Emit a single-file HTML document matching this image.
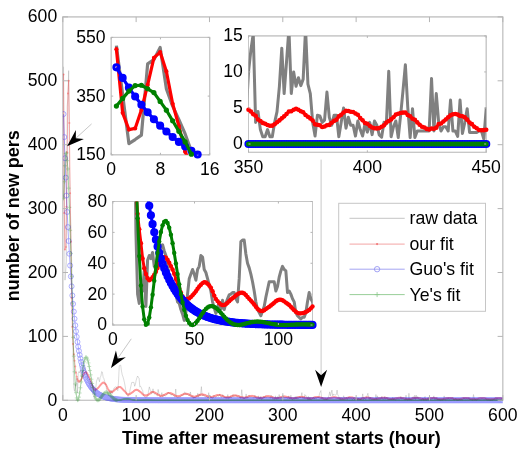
<!DOCTYPE html>
<html><head><meta charset="utf-8"><title>fit</title>
<style>html,body{margin:0;padding:0;background:#fff;}svg{display:block;}</style></head>
<body><svg width="518" height="453" viewBox="0 0 518 453"><rect x="0" y="0" width="518" height="453" fill="#fff"/><rect x="62.8" y="16.9" width="440" height="383.4" fill="#fff" stroke="#c6c6c6" stroke-width="1"/><rect x="62.8" y="16.9" width="440" height="383.4" fill="none" stroke="#c6c6c6" stroke-width="1"/><clipPath id="cm"><rect x="62.8" y="16.9" width="440" height="389.4"/></clipPath><g clip-path="url(#cm)"><g opacity="0.32"><polyline points="63.53,66.74 64.27,173.46 65,280.17 65.73,271.22 66.47,261.64 67.2,106.36 67.93,97.41 68.67,70.58 69.4,161.31 70.13,198.38 70.87,227.77 71.6,259.08 72.33,296.78 73.07,361.96 73.8,387.52 74.53,391.35 75.27,384.32 76,386.24 76.73,377.94 77.47,392.63 78.2,373.46 78.93,371.55 79.67,372.82 80.4,370.27 81.13,376.02 81.87,377.3 82.6,370.91 83.33,372.18 84.07,367.71 84.8,367.07 85.53,369.63 86.27,371.55 87,376.02 87.73,379.85 88.47,381.13 89.2,382.41 89.93,384.32 90.67,387.52 91.4,390.72 92.13,391.35 92.87,393.91 93.6,395.83 94.33,398.38 95.07,395.19 95.8,387.52 96.53,381.13 97.27,379.21 98,377.3 98.73,379.21 99.47,381.77 100.2,377.3 100.93,376.02 101.67,371.55 102.4,372.18 103.13,377.3 103.87,378.57 104.6,381.13 105.33,383.69 106.07,386.24 106.8,390.72 107.53,393.27 108.27,395.51 109,392.63 109.73,391.35 110.47,393.91 111.2,390.08 111.93,393.91 112.67,391.35 113.4,389.44 114.13,387.84 114.87,387.52 115.6,386.88 116.33,386.88 117.07,389.44 117.8,390.72 118.53,381.13 119.27,365.79 120,365.16 120.73,365.16 121.47,370.91 122.2,374.74 122.93,376.66 123.67,379.21 124.4,382.41 125.13,386.24 125.87,390.72 126.6,393.91 127.33,395.19 128.07,396.47 128.8,394.55 129.53,392.63 130.27,388.8 131,385.6 131.73,382.41 132.47,382.41 133.2,382.41 133.93,382.41 134.67,386.24 135.4,384.32 136.13,380.49 136.87,377.94 137.6,376.02 138.33,377.3 139.07,377.94 139.8,386.88 140.53,386.24 141.27,387.52 142,389.44 142.73,390.72 143.47,395.19 144.2,396.47 144.93,397.11 145.67,397.74 146.4,397.11 147.13,397.11 147.87,395.19 148.6,390.72 149.33,386.88 150.07,389.44 150.8,390.72 151.53,393.91 152.27,393.27 153,388.8 153.73,393.27 154.47,393.91 155.2,393.27 155.93,394.55 156.67,395.19 157.4,395.83 158.13,389.44 158.87,393.27 159.6,395.83 160.33,397.11 161.07,395.83 161.8,392.63 162.53,396.47 163.27,396.47 164,394.55 164.73,395.83 165.47,395.83 166.2,395.19 166.93,394.55 167.67,393.27 168.4,391.99 169.13,393.27 169.87,393.91 170.6,393.91 171.33,395.19 172.07,393.91 172.8,394.55 173.53,395.19 174.27,396.47 175,397.11 175.73,388.99 176.47,397.11 177.2,397.74 177.93,397.11 178.67,397.11 179.4,397.11 180.13,397.11 180.87,396.47 181.6,395.19 182.33,395.19 183.07,394.55 183.8,394.55 184.53,391.99 185.27,392.63 186,394.55 186.73,393.91 187.47,393.91 188.2,395.19 188.93,395.83 189.67,395.19 190.4,391.99 191.13,396.47 191.87,397.11 192.6,395.83 193.33,398.38 194.07,397.11 194.8,397.74 195.53,397.74 196.27,395.83 197,397.11 197.73,393.27 198.47,397.11 199.2,393.91 199.93,395.83 200.67,393.91 201.4,386.63 202.13,395.19 202.87,395.83 203.6,394.55 204.33,396.47 205.07,396.47 205.8,397.11 206.53,395.83 207.27,397.74 208,397.11 208.73,392.63 209.47,398.38 210.2,395.19 210.93,397.11 211.67,397.74 212.4,398.38 213.13,397.74 213.87,395.19 214.6,396.47 215.33,397.11 216.07,397.11 216.8,395.83 217.53,395.19 218.27,396.47 219,395.83 219.73,393.91 220.47,396.47 221.2,397.11 221.93,397.11 222.67,394.55 223.4,396.47 224.13,396.47 224.87,397.11 225.6,397.74 226.33,397.74 227.07,397.74 227.8,394.55 228.53,398.38 229.27,398.38 230,396.47 230.73,396.47 231.47,397.74 232.2,396.47 232.93,394.55 233.67,396.47 234.4,395.83 235.13,395.83 235.87,395.19 236.6,395.19 237.33,397.11 238.07,396.47 238.8,395.83 239.53,395.83 240.27,398.38 241,398.38 241.73,389.69 242.47,396.47 243.2,398.38 243.93,399.02 244.67,398.38 245.4,397.74 246.13,393.91 246.87,398.38 247.6,397.74 248.33,395.83 249.07,395.19 249.8,397.11 250.53,397.11 251.27,397.11 252,397.11 252.73,397.74 253.47,397.74 254.2,397.11 254.93,395.19 255.67,397.11 256.4,398.38 257.13,399.02 257.87,399.02 258.6,395.83 259.33,398.38 260.07,399.02 260.8,396.47 261.53,399.66 262.27,399.02 263,398.38 263.73,396.47 264.47,397.74 265.2,395.83 265.93,396.47 266.67,397.74 267.4,397.11 268.13,397.74 268.87,397.11 269.6,397.74 270.33,398.38 271.07,395.19 271.8,395.83 272.53,399.02 273.27,399.02 274,399.66 274.73,399.66 275.47,395.83 276.2,398.38 276.93,399.66 277.67,396.47 278.4,398.38 279.13,394.55 279.87,397.11 280.6,399.02 281.33,398.38 282.07,397.74 282.8,393.27 283.53,397.11 284.27,397.74 285,397.74 285.73,397.74 286.47,397.74 287.2,398.38 287.93,398.38 288.67,395.83 289.4,398.38 290.13,399.02 290.87,395.19 291.6,398.38 292.33,399.66 293.07,399.02 293.8,398.38 294.53,398.38 295.27,396.47 296,399.02 296.73,396.47 297.47,398.38 298.2,398.38 298.93,398.38 299.67,396.47 300.4,397.74 301.13,396.47 301.87,392.63 302.6,398.38 303.33,397.74 304.07,399.02 304.8,394.55 305.53,395.83 306.27,395.83 307,397.11 307.73,399.66 308.47,396.47 309.2,399.66 309.93,397.11 310.67,399.66 311.4,399.66 312.13,399.02 312.87,398.38 313.6,397.11 314.33,399.02 315.07,397.74 315.8,398.38 316.53,398.38 317.27,397.11 318,397.11 318.73,397.74 319.47,393.91 320.2,391.99 320.93,390.52 321.67,398.38 322.4,397.42 323.13,399.02 323.87,399.66 324.6,399.66 325.33,399.02 326.07,399.66 326.8,399.66 327.53,398.38 328.27,397.42 329,395.19 329.73,391.8 330.47,395.83 331.2,393.02 331.93,390.08 332.67,395.83 333.4,393.91 334.13,395.19 334.87,394.42 335.6,395.12 336.33,394.55 337.07,390.08 337.8,395 338.53,395.83 339.27,398.38 340,399.6 340.73,397.74 341.47,397.81 342.2,398.38 342.93,398.19 343.67,395.7 344.4,397.94 345.13,398.64 345.87,397.74 346.6,397.74 347.33,399.66 348.07,398.38 348.8,397.11 349.53,398.89 350.27,397.94 351,398.64 351.73,398.64 352.47,399.6 353.2,398.26 353.93,399.02 354.67,399.6 355.4,398.51 356.13,399.25 356.87,398.38 357.6,399.47 358.33,398.26 359.07,398.64 359.8,399.49 360.53,399.69 361.27,398.38 362,398.51 362.73,393.85 363.47,399.66 364.2,398.77 364.93,398.26 365.67,399.72 366.4,397.74 367.13,395.57 367.87,393.27 368.6,397.04 369.33,399.72 370.07,397.17 370.8,399.72 371.53,399.15 372.27,399.15 373,399.15 373.73,399.15 374.47,399.15 375.2,399.15 375.93,394.49 376.67,399.15 377.4,395.83 378.13,398.38 378.87,399.15 379.6,398.77 380.33,398.77 381.07,399.15 381.8,396.4 382.53,399.15 383.27,399.15 384,399.62 384.73,396.4 385.47,399.37 386.2,398.38 386.93,397.17 387.67,399.28 388.4,399.28 389.13,399.28 389.87,399.28 390.6,399.15 391.33,399.15 392.07,399.85 392.8,397.17 393.53,399.66 394.27,398.38 395,400.3 395.73,399.66 396.47,399.02 397.2,399.66 397.93,398.38 398.67,399.66 399.4,399.66 400.13,399.02 400.87,396.47 401.6,399.02 402.33,398.38 403.07,399.02 403.8,399.02 404.53,399.66 405.27,400.3 406,395.19 406.73,399.66 407.47,400.3 408.2,400.3 408.93,393.27 409.67,400.3 410.4,399.66 411.13,400.3 411.87,399.66 412.6,397.11 413.33,396.47 414.07,399.02 414.8,395.19 415.53,399.66 416.27,395.19 417,398.38 417.73,396.47 418.47,398.38 419.2,399.66 419.93,399.66 420.67,399.66 421.4,400.3 422.13,399.02 422.87,397.74 423.6,400.3 424.33,397.74 425.07,396.47 425.8,400.3 426.53,400.3 427.27,399.66 428,397.74 428.73,399.66 429.47,399.66 430.2,399.66 430.93,399.02 431.67,399.02 432.4,399.02 433.13,397.74 433.87,395.83 434.6,399.66 435.33,398.38 436.07,399.66 436.8,397.74 437.53,399.66 438.27,400.3 439,399.02 439.73,400.3 440.47,400.3 441.2,399.66 441.93,400.3 442.67,400.3 443.4,399.02 444.13,395.83 444.87,398.38 445.6,400.3 446.33,399.66 447.07,398.38 447.8,399.66 448.53,397.74 449.27,399.66 450,399.66 450.73,398.38 451.47,398.38 452.2,398.38 452.93,397.74 453.67,399.66 454.4,400.3 455.13,399.02 455.87,398.38 456.6,400.3 457.33,400.3 458.07,399.66 458.8,400.3 459.53,399.02 460.27,400.3 461,399.66 461.73,399.66 462.47,400.3 463.2,399.02 463.93,397.74 464.67,399.02 465.4,399.66 466.13,398.38 466.87,399.66 467.6,399.02 468.33,399.02 469.07,397.74 469.8,399.66 470.53,399.66 471.27,399.66 472,400.3 472.73,400.3 473.47,394.55 474.2,397.74 474.93,400.3 475.67,399.02 476.4,400.3 477.13,400.3 477.87,399.02 478.6,399.02 479.33,399.66 480.07,399.66 480.8,399.66 481.53,399.02 482.27,399.02 483,399.02 483.73,399.66 484.47,399.66 485.2,399.02 485.93,398.38 486.67,400.3 487.4,400.3 488.13,400.3 488.87,399.66 489.6,400.3 490.33,400.3 491.07,400.3 491.8,400.3 492.53,400.3 493.27,399.66 494,399.02 494.73,399.02 495.47,397.74 496.2,397.74 496.93,399.66 497.67,398.38 498.4,399.66 499.13,399.66 499.87,399.02 500.6,399.66 501.33,399.02 502.07,398.38 502.8,399.66" fill="none" stroke="#808080" stroke-width="0.9"/></g><g opacity="0.4"><polyline points="63.53,74.41 64.27,213.07 65,249.5 65.73,246.94 66.47,206.68 67.2,152.37 67.93,93.58 68.67,80.8 69.4,122.97 70.13,193.26 70.87,241.83 71.6,298.06 72.33,326.81 73.07,344.07 73.8,354.29 74.53,360.68 75.27,366.43 76,372.79 76.73,376.8 77.47,379.21 78.2,380.94 78.93,381.77 79.67,381.33 80.4,380.49 81.13,379.52 81.87,378.29 82.6,376.73 83.33,374.8 84.07,373.57 84.8,372.64 85.53,372.19 86.27,372.46 87,373.3 87.73,374.52 88.47,375.92 89.2,377.33 89.93,379.1 90.67,381.21 91.4,383.35 92.13,385.19 92.87,386.84 93.6,388.47 94.33,389.53 95.07,389.67 95.8,389.55 96.53,389.29 97.27,388.72 98,387.98 98.73,387.2 99.47,386.33 100.2,385.32 100.93,384.38 101.67,383.65 102.4,382.95 103.13,382.55 103.87,382.68 104.6,383.2 105.33,383.94 106.07,384.81 106.8,386.32 107.53,388.12 108.27,389.57 109,390.42 109.73,391.17 110.47,391.77 111.2,392.09 111.93,392.05 112.67,391.69 113.4,391.1 114.13,390.42 114.87,389.75 115.6,389.2 116.33,388.68 117.07,388.11 117.8,387.59 118.53,387.16 119.27,386.92 120,386.93 120.73,387.29 121.47,387.91 122.2,388.67 122.93,389.47 123.67,390.2 124.4,390.94 125.13,391.82 125.87,392.73 126.6,393.56 127.33,394.2 128.07,394.53 128.8,394.48 129.53,394.18 130.27,393.73 131,393.21 131.73,392.72 132.47,392.24 133.2,391.66 133.93,391.05 134.67,390.47 135.4,390.03 136.13,389.78 136.87,389.81 137.6,390.08 138.33,390.51 139.07,391.02 139.8,391.53 140.53,392.04 141.27,392.7 142,393.43 142.73,394.16 143.47,394.8 144.2,395.28 144.93,395.5 145.67,395.49 146.4,395.39 147.13,395.21 147.87,394.93 148.6,394.55 149.33,394.05 150.07,393.42 150.8,392.65 151.53,392.23 152.27,392.02 153,392.06 153.73,392.11 154.47,392.41 155.2,392.77 155.93,393.13 156.67,393.63 157.4,394.06 158.13,394.64 158.87,395.06 159.6,395.46 160.33,395.74 161.07,395.85 161.8,395.75 162.53,395.69 163.27,395.35 164,395.01 164.73,394.71 165.47,394.21 166.2,393.88 166.93,393.48 167.67,393.25 168.4,393.01 169.13,393.02 169.87,392.98 170.6,393.19 171.33,393.43 172.07,393.74 172.8,394.17 173.53,394.62 174.27,395.02 175,395.42 175.73,395.86 176.47,396.03 177.2,396.18 177.93,396.28 178.67,396.17 179.4,396.08 180.13,395.7 180.87,395.46 181.6,395.1 182.33,394.68 183.07,394.41 183.8,394.09 184.53,393.95 185.27,393.81 186,393.84 186.73,393.87 187.47,394.01 188.2,394.31 188.93,394.62 189.67,395.09 190.4,395.47 191.13,395.82 191.87,396.11 192.6,396.38 193.33,396.58 194.07,396.63 194.8,396.65 195.53,396.54 196.27,396.28 197,396.11 197.73,395.77 198.47,395.38 199.2,395.14 199.93,394.83 200.67,394.67 201.4,394.41 202.13,394.54 202.87,394.53 203.6,394.66 204.33,394.75 205.07,395.08 205.8,395.43 206.53,395.83 207.27,396.1 208,396.42 208.73,396.72 209.47,396.96 210.2,397.05 210.93,397.02 211.67,396.96 212.4,396.82 213.13,396.62 213.87,396.44 214.6,396.07 215.33,395.83 216.07,395.51 216.8,395.27 217.53,395.15 218.27,395.08 219,394.98 219.73,395.09 220.47,395.29 221.2,395.62 221.93,395.76 222.67,396.04 223.4,396.33 224.13,396.72 224.87,396.98 225.6,397.18 226.33,397.26 227.07,397.41 227.8,397.34 228.53,397.28 229.27,397.06 230,396.92 230.73,396.58 231.47,396.35 232.2,396.08 232.93,395.82 233.67,395.61 234.4,395.62 235.13,395.46 235.87,395.52 236.6,395.67 237.33,395.77 238.07,396.06 238.8,396.28 239.53,396.65 240.27,396.95 241,397.11 241.73,397.29 242.47,397.51 243.2,397.59 243.93,397.67 244.67,397.64 245.4,397.47 246.13,397.21 246.87,397.13 247.6,396.83 248.33,396.64 249.07,396.33 249.8,396.1 250.53,396.06 251.27,395.95 252,395.87 252.73,396.01 253.47,396.19 254.2,396.39 254.93,396.66 255.67,396.8 256.4,397.13 257.13,397.31 257.87,397.53 258.6,397.78 259.33,397.88 260.07,397.87 260.8,397.87 261.53,397.77 262.27,397.71 263,397.4 263.73,397.25 264.47,397.08 265.2,396.78 265.93,396.54 266.67,396.31 267.4,396.33 268.13,396.34 268.87,396.22 269.6,396.4 270.33,396.58 271.07,396.82 271.8,397.06 272.53,397.2 273.27,397.52 274,397.75 274.73,397.94 275.47,397.97 276.2,398.14 276.93,398.09 277.67,398.05 278.4,397.93 279.13,397.81 279.87,397.54 280.6,397.28 281.33,397.13 282.07,396.97 282.8,396.82 283.53,396.64 284.27,396.6 285,396.59 285.73,396.65 286.47,396.85 287.2,396.92 287.93,397.16 288.67,397.4 289.4,397.62 290.13,397.82 290.87,398.05 291.6,398.24 292.33,398.24 293.07,398.34 293.8,398.32 294.53,398.27 295.27,398.06 296,397.93 296.73,397.7 297.47,397.44 298.2,397.26 298.93,397.04 299.67,396.93 300.4,396.88 301.13,396.85 301.87,396.9 302.6,396.94 303.33,397.11 304.07,397.32 304.8,397.48 305.53,397.74 306.27,397.98 307,398.22 307.73,398.3 308.47,398.42 309.2,398.49 309.93,398.5 310.67,398.46 311.4,398.32 312.13,398.14 312.87,397.97 313.6,397.76 314.33,397.58 315.07,397.36 315.8,397.21 316.53,397.15 317.27,397.03 318,397.03 318.73,397.1 319.47,397.26 320.2,397.42 320.93,397.66 321.67,397.79 322.4,398.13 323.13,398.26 323.87,398.43 324.6,398.5 325.33,398.62 326.07,398.69 326.8,398.67 327.53,398.55 328.27,398.38 329,398.21 329.73,398.03 330.47,397.85 331.2,397.64 331.93,397.42 332.67,397.39 333.4,397.27 334.13,397.17 334.87,397.26 335.6,397.39 336.33,397.48 337.07,397.72 337.8,397.89 338.53,398.03 339.27,398.22 340,398.56 340.73,398.6 341.47,398.64 342.2,398.8 342.93,398.75 343.67,398.63 344.4,398.61 345.13,398.41 345.87,398.25 346.6,398.14 347.33,397.85 348.07,397.7 348.8,397.51 349.53,397.36 350.27,397.38 351,397.44 351.73,397.46 352.47,397.59 353.2,397.71 353.93,398 354.67,398.19 355.4,398.44 356.13,398.5 356.87,398.69 357.6,398.84 358.33,398.91 359.07,398.92 359.8,398.89 360.53,398.77 361.27,398.65 362,398.39 362.73,398.26 363.47,398.12 364.2,397.93 364.93,397.69 365.67,397.61 366.4,397.55 367.13,397.51 367.87,397.51 368.6,397.73 369.33,397.84 370.07,398.06 370.8,398.15 371.53,398.39 372.27,398.59 373,398.76 373.73,398.83 374.47,398.96 375.2,399.01 375.93,398.92 376.67,398.95 377.4,398.85 378.13,398.52 378.87,398.48 379.6,398.3 380.33,398.13 381.07,397.93 381.8,397.76 382.53,397.67 383.27,397.64 384,397.69 384.73,397.81 385.47,397.84 386.2,397.94 386.93,398.14 387.67,398.39 388.4,398.54 389.13,398.77 389.87,398.9 390.6,399.06 391.33,399.08 392.07,399.07 392.8,399.04 393.53,398.9 394.27,398.72 395,398.58 395.73,398.47 396.47,398.3 397.2,398.13 397.93,398 398.67,397.84 399.4,397.76 400.13,397.76 400.87,397.8 401.6,397.89 402.33,398.04 403.07,398.23 403.8,398.31 404.53,398.53 405.27,398.8 406,398.96 406.73,399.07 407.47,399.12 408.2,399.1 408.93,399.09 409.67,399.01 410.4,398.9 411.13,398.74 411.87,398.59 412.6,398.42 413.33,398.26 414.07,398.18 414.8,397.98 415.53,397.81 416.27,397.88 417,397.9 417.73,397.89 418.47,398.05 419.2,398.22 419.93,398.31 420.67,398.54 421.4,398.72 422.13,398.95 422.87,399.04 423.6,399.15 424.33,399.18 425.07,399.17 425.8,399.12 426.53,399.06 427.27,398.9 428,398.82 428.73,398.56 429.47,398.38 430.2,398.26 430.93,398.13 431.67,398 432.4,397.99 433.13,397.91 433.87,397.96 434.6,398.11 435.33,398.2 436.07,398.32 436.8,398.5 437.53,398.69 438.27,398.92 439,399.08 439.73,399.2 440.47,399.23 441.2,399.18 441.93,399.19 442.67,399.11 443.4,399 444.13,398.98 444.87,398.74 445.6,398.57 446.33,398.32 447.07,398.15 447.8,398.13 448.53,398.02 449.27,397.97 450,398.03 450.73,398.11 451.47,398.23 452.2,398.31 452.93,398.56 453.67,398.66 454.4,398.88 455.13,399.02 455.87,399.12 456.6,399.31 457.33,399.36 458.07,399.3 458.8,399.31 459.53,399.2 460.27,399.03 461,398.86 461.73,398.74 462.47,398.52 463.2,398.32 463.93,398.15 464.67,398.19 465.4,397.99 466.13,398.01 466.87,398.15 467.6,398.26 468.33,398.31 469.07,398.51 469.8,398.67 470.53,398.82 471.27,399.04 472,399.17 472.73,399.27 473.47,399.32 474.2,399.3 474.93,399.27 475.67,399.25 476.4,399.15 477.13,398.88 477.87,398.78 478.6,398.61 479.33,398.51 480.07,398.28 480.8,398.23 481.53,398.14 482.27,398.15 483,398.14 483.73,398.19 484.47,398.37 485.2,398.5 485.93,398.64 486.67,398.87 487.4,399.05 488.13,399.19 488.87,399.35 489.6,399.34 490.33,399.46 491.07,399.37 491.8,399.3 492.53,399.29 493.27,399.1 494,398.95 494.73,398.8 495.47,398.59 496.2,398.42 496.93,398.25 497.67,398.14 498.4,398.19 499.13,398.16 499.87,398.17 500.6,398.24 501.33,398.53 502.07,398.53 502.8,398.78" fill="none" stroke="#ff0000" stroke-width="0.7"/><g fill="#ff0000"><circle cx="63.53" cy="74.41" r="1.0"/><circle cx="64.27" cy="213.07" r="1.0"/><circle cx="65" cy="249.5" r="1.0"/><circle cx="65.73" cy="246.94" r="1.0"/><circle cx="66.47" cy="206.68" r="1.0"/><circle cx="67.2" cy="152.37" r="1.0"/><circle cx="67.93" cy="93.58" r="1.0"/><circle cx="68.67" cy="80.8" r="1.0"/><circle cx="69.4" cy="122.97" r="1.0"/><circle cx="70.13" cy="193.26" r="1.0"/><circle cx="70.87" cy="241.83" r="1.0"/><circle cx="71.6" cy="298.06" r="1.0"/><circle cx="72.33" cy="326.81" r="1.0"/><circle cx="73.07" cy="344.07" r="1.0"/><circle cx="73.8" cy="354.29" r="1.0"/><circle cx="74.53" cy="360.68" r="1.0"/><circle cx="75.27" cy="366.43" r="1.0"/><circle cx="76" cy="372.79" r="1.0"/><circle cx="76.73" cy="376.8" r="1.0"/><circle cx="77.47" cy="379.21" r="1.0"/><circle cx="78.2" cy="380.94" r="1.0"/><circle cx="78.93" cy="381.77" r="1.0"/><circle cx="79.67" cy="381.33" r="1.0"/><circle cx="80.4" cy="380.49" r="1.0"/><circle cx="81.13" cy="379.52" r="1.0"/><circle cx="81.87" cy="378.29" r="1.0"/><circle cx="82.6" cy="376.73" r="1.0"/><circle cx="83.33" cy="374.8" r="1.0"/><circle cx="84.07" cy="373.57" r="1.0"/><circle cx="84.8" cy="372.64" r="1.0"/><circle cx="85.53" cy="372.19" r="1.0"/><circle cx="86.27" cy="372.46" r="1.0"/><circle cx="87" cy="373.3" r="1.0"/><circle cx="87.73" cy="374.52" r="1.0"/><circle cx="88.47" cy="375.92" r="1.0"/><circle cx="89.2" cy="377.33" r="1.0"/><circle cx="89.93" cy="379.1" r="1.0"/><circle cx="90.67" cy="381.21" r="1.0"/><circle cx="91.4" cy="383.35" r="1.0"/><circle cx="92.13" cy="385.19" r="1.0"/><circle cx="92.87" cy="386.84" r="1.0"/><circle cx="93.6" cy="388.47" r="1.0"/><circle cx="94.33" cy="389.53" r="1.0"/><circle cx="95.07" cy="389.67" r="1.0"/><circle cx="95.8" cy="389.55" r="1.0"/><circle cx="96.53" cy="389.29" r="1.0"/><circle cx="97.27" cy="388.72" r="1.0"/><circle cx="98" cy="387.98" r="1.0"/><circle cx="98.73" cy="387.2" r="1.0"/><circle cx="99.47" cy="386.33" r="1.0"/><circle cx="100.2" cy="385.32" r="1.0"/><circle cx="100.93" cy="384.38" r="1.0"/><circle cx="101.67" cy="383.65" r="1.0"/><circle cx="102.4" cy="382.95" r="1.0"/><circle cx="103.13" cy="382.55" r="1.0"/><circle cx="103.87" cy="382.68" r="1.0"/><circle cx="104.6" cy="383.2" r="1.0"/><circle cx="105.33" cy="383.94" r="1.0"/><circle cx="106.07" cy="384.81" r="1.0"/><circle cx="106.8" cy="386.32" r="1.0"/><circle cx="107.53" cy="388.12" r="1.0"/><circle cx="108.27" cy="389.57" r="1.0"/><circle cx="109" cy="390.42" r="1.0"/><circle cx="109.73" cy="391.17" r="1.0"/><circle cx="110.47" cy="391.77" r="1.0"/><circle cx="111.2" cy="392.09" r="1.0"/><circle cx="111.93" cy="392.05" r="1.0"/><circle cx="112.67" cy="391.69" r="1.0"/><circle cx="113.4" cy="391.1" r="1.0"/><circle cx="114.13" cy="390.42" r="1.0"/><circle cx="114.87" cy="389.75" r="1.0"/><circle cx="115.6" cy="389.2" r="1.0"/><circle cx="116.33" cy="388.68" r="1.0"/><circle cx="117.07" cy="388.11" r="1.0"/><circle cx="117.8" cy="387.59" r="1.0"/><circle cx="118.53" cy="387.16" r="1.0"/><circle cx="119.27" cy="386.92" r="1.0"/><circle cx="120" cy="386.93" r="1.0"/><circle cx="120.73" cy="387.29" r="1.0"/><circle cx="121.47" cy="387.91" r="1.0"/><circle cx="122.2" cy="388.67" r="1.0"/><circle cx="122.93" cy="389.47" r="1.0"/><circle cx="123.67" cy="390.2" r="1.0"/><circle cx="124.4" cy="390.94" r="1.0"/><circle cx="125.13" cy="391.82" r="1.0"/><circle cx="125.87" cy="392.73" r="1.0"/><circle cx="126.6" cy="393.56" r="1.0"/><circle cx="127.33" cy="394.2" r="1.0"/><circle cx="128.07" cy="394.53" r="1.0"/><circle cx="128.8" cy="394.48" r="1.0"/><circle cx="129.53" cy="394.18" r="1.0"/><circle cx="130.27" cy="393.73" r="1.0"/><circle cx="131" cy="393.21" r="1.0"/><circle cx="131.73" cy="392.72" r="1.0"/><circle cx="132.47" cy="392.24" r="1.0"/><circle cx="133.2" cy="391.66" r="1.0"/><circle cx="133.93" cy="391.05" r="1.0"/><circle cx="134.67" cy="390.47" r="1.0"/><circle cx="135.4" cy="390.03" r="1.0"/><circle cx="136.13" cy="389.78" r="1.0"/><circle cx="136.87" cy="389.81" r="1.0"/><circle cx="137.6" cy="390.08" r="1.0"/><circle cx="138.33" cy="390.51" r="1.0"/><circle cx="139.07" cy="391.02" r="1.0"/><circle cx="139.8" cy="391.53" r="1.0"/><circle cx="140.53" cy="392.04" r="1.0"/><circle cx="141.27" cy="392.7" r="1.0"/><circle cx="142" cy="393.43" r="1.0"/><circle cx="142.73" cy="394.16" r="1.0"/><circle cx="143.47" cy="394.8" r="1.0"/><circle cx="144.2" cy="395.28" r="1.0"/><circle cx="144.93" cy="395.5" r="1.0"/><circle cx="145.67" cy="395.49" r="1.0"/><circle cx="146.4" cy="395.39" r="1.0"/><circle cx="147.13" cy="395.21" r="1.0"/><circle cx="147.87" cy="394.93" r="1.0"/><circle cx="148.6" cy="394.55" r="1.0"/><circle cx="149.33" cy="394.05" r="1.0"/><circle cx="150.07" cy="393.42" r="1.0"/><circle cx="150.8" cy="392.65" r="1.0"/><circle cx="151.53" cy="392.23" r="1.0"/><circle cx="152.27" cy="392.02" r="1.0"/><circle cx="153" cy="392.06" r="1.0"/><circle cx="153.73" cy="392.11" r="1.0"/><circle cx="154.47" cy="392.41" r="1.0"/><circle cx="155.2" cy="392.77" r="1.0"/><circle cx="155.93" cy="393.13" r="1.0"/><circle cx="156.67" cy="393.63" r="1.0"/><circle cx="157.4" cy="394.06" r="1.0"/><circle cx="158.13" cy="394.64" r="1.0"/><circle cx="158.87" cy="395.06" r="1.0"/><circle cx="159.6" cy="395.46" r="1.0"/><circle cx="160.33" cy="395.74" r="1.0"/><circle cx="161.07" cy="395.85" r="1.0"/><circle cx="161.8" cy="395.75" r="1.0"/><circle cx="162.53" cy="395.69" r="1.0"/><circle cx="163.27" cy="395.35" r="1.0"/><circle cx="164" cy="395.01" r="1.0"/><circle cx="164.73" cy="394.71" r="1.0"/><circle cx="165.47" cy="394.21" r="1.0"/><circle cx="166.2" cy="393.88" r="1.0"/><circle cx="166.93" cy="393.48" r="1.0"/><circle cx="167.67" cy="393.25" r="1.0"/><circle cx="168.4" cy="393.01" r="1.0"/><circle cx="169.13" cy="393.02" r="1.0"/><circle cx="169.87" cy="392.98" r="1.0"/><circle cx="170.6" cy="393.19" r="1.0"/><circle cx="171.33" cy="393.43" r="1.0"/><circle cx="172.07" cy="393.74" r="1.0"/><circle cx="172.8" cy="394.17" r="1.0"/><circle cx="173.53" cy="394.62" r="1.0"/><circle cx="174.27" cy="395.02" r="1.0"/><circle cx="175" cy="395.42" r="1.0"/><circle cx="175.73" cy="395.86" r="1.0"/><circle cx="176.47" cy="396.03" r="1.0"/><circle cx="177.2" cy="396.18" r="1.0"/><circle cx="177.93" cy="396.28" r="1.0"/><circle cx="178.67" cy="396.17" r="1.0"/><circle cx="179.4" cy="396.08" r="1.0"/><circle cx="180.13" cy="395.7" r="1.0"/><circle cx="180.87" cy="395.46" r="1.0"/><circle cx="181.6" cy="395.1" r="1.0"/><circle cx="182.33" cy="394.68" r="1.0"/><circle cx="183.07" cy="394.41" r="1.0"/><circle cx="183.8" cy="394.09" r="1.0"/><circle cx="184.53" cy="393.95" r="1.0"/><circle cx="185.27" cy="393.81" r="1.0"/><circle cx="186" cy="393.84" r="1.0"/><circle cx="186.73" cy="393.87" r="1.0"/><circle cx="187.47" cy="394.01" r="1.0"/><circle cx="188.2" cy="394.31" r="1.0"/><circle cx="188.93" cy="394.62" r="1.0"/><circle cx="189.67" cy="395.09" r="1.0"/><circle cx="190.4" cy="395.47" r="1.0"/><circle cx="191.13" cy="395.82" r="1.0"/><circle cx="191.87" cy="396.11" r="1.0"/><circle cx="192.6" cy="396.38" r="1.0"/><circle cx="193.33" cy="396.58" r="1.0"/><circle cx="194.07" cy="396.63" r="1.0"/><circle cx="194.8" cy="396.65" r="1.0"/><circle cx="195.53" cy="396.54" r="1.0"/><circle cx="196.27" cy="396.28" r="1.0"/><circle cx="197" cy="396.11" r="1.0"/><circle cx="197.73" cy="395.77" r="1.0"/><circle cx="198.47" cy="395.38" r="1.0"/><circle cx="199.2" cy="395.14" r="1.0"/><circle cx="199.93" cy="394.83" r="1.0"/><circle cx="200.67" cy="394.67" r="1.0"/><circle cx="201.4" cy="394.41" r="1.0"/><circle cx="202.13" cy="394.54" r="1.0"/><circle cx="202.87" cy="394.53" r="1.0"/><circle cx="203.6" cy="394.66" r="1.0"/><circle cx="204.33" cy="394.75" r="1.0"/><circle cx="205.07" cy="395.08" r="1.0"/><circle cx="205.8" cy="395.43" r="1.0"/><circle cx="206.53" cy="395.83" r="1.0"/><circle cx="207.27" cy="396.1" r="1.0"/><circle cx="208" cy="396.42" r="1.0"/><circle cx="208.73" cy="396.72" r="1.0"/><circle cx="209.47" cy="396.96" r="1.0"/><circle cx="210.2" cy="397.05" r="1.0"/><circle cx="210.93" cy="397.02" r="1.0"/><circle cx="211.67" cy="396.96" r="1.0"/><circle cx="212.4" cy="396.82" r="1.0"/><circle cx="213.13" cy="396.62" r="1.0"/><circle cx="213.87" cy="396.44" r="1.0"/><circle cx="214.6" cy="396.07" r="1.0"/><circle cx="215.33" cy="395.83" r="1.0"/><circle cx="216.07" cy="395.51" r="1.0"/><circle cx="216.8" cy="395.27" r="1.0"/><circle cx="217.53" cy="395.15" r="1.0"/><circle cx="218.27" cy="395.08" r="1.0"/><circle cx="219" cy="394.98" r="1.0"/><circle cx="219.73" cy="395.09" r="1.0"/><circle cx="220.47" cy="395.29" r="1.0"/><circle cx="221.2" cy="395.62" r="1.0"/><circle cx="221.93" cy="395.76" r="1.0"/><circle cx="222.67" cy="396.04" r="1.0"/><circle cx="223.4" cy="396.33" r="1.0"/><circle cx="224.13" cy="396.72" r="1.0"/><circle cx="224.87" cy="396.98" r="1.0"/><circle cx="225.6" cy="397.18" r="1.0"/><circle cx="226.33" cy="397.26" r="1.0"/><circle cx="227.07" cy="397.41" r="1.0"/><circle cx="227.8" cy="397.34" r="1.0"/><circle cx="228.53" cy="397.28" r="1.0"/><circle cx="229.27" cy="397.06" r="1.0"/><circle cx="230" cy="396.92" r="1.0"/><circle cx="230.73" cy="396.58" r="1.0"/><circle cx="231.47" cy="396.35" r="1.0"/><circle cx="232.2" cy="396.08" r="1.0"/><circle cx="232.93" cy="395.82" r="1.0"/><circle cx="233.67" cy="395.61" r="1.0"/><circle cx="234.4" cy="395.62" r="1.0"/><circle cx="235.13" cy="395.46" r="1.0"/><circle cx="235.87" cy="395.52" r="1.0"/><circle cx="236.6" cy="395.67" r="1.0"/><circle cx="237.33" cy="395.77" r="1.0"/><circle cx="238.07" cy="396.06" r="1.0"/><circle cx="238.8" cy="396.28" r="1.0"/><circle cx="239.53" cy="396.65" r="1.0"/><circle cx="240.27" cy="396.95" r="1.0"/><circle cx="241" cy="397.11" r="1.0"/><circle cx="241.73" cy="397.29" r="1.0"/><circle cx="242.47" cy="397.51" r="1.0"/><circle cx="243.2" cy="397.59" r="1.0"/><circle cx="243.93" cy="397.67" r="1.0"/><circle cx="244.67" cy="397.64" r="1.0"/><circle cx="245.4" cy="397.47" r="1.0"/><circle cx="246.13" cy="397.21" r="1.0"/><circle cx="246.87" cy="397.13" r="1.0"/><circle cx="247.6" cy="396.83" r="1.0"/><circle cx="248.33" cy="396.64" r="1.0"/><circle cx="249.07" cy="396.33" r="1.0"/><circle cx="249.8" cy="396.1" r="1.0"/><circle cx="250.53" cy="396.06" r="1.0"/><circle cx="251.27" cy="395.95" r="1.0"/><circle cx="252" cy="395.87" r="1.0"/><circle cx="252.73" cy="396.01" r="1.0"/><circle cx="253.47" cy="396.19" r="1.0"/><circle cx="254.2" cy="396.39" r="1.0"/><circle cx="254.93" cy="396.66" r="1.0"/><circle cx="255.67" cy="396.8" r="1.0"/><circle cx="256.4" cy="397.13" r="1.0"/><circle cx="257.13" cy="397.31" r="1.0"/><circle cx="257.87" cy="397.53" r="1.0"/><circle cx="258.6" cy="397.78" r="1.0"/><circle cx="259.33" cy="397.88" r="1.0"/><circle cx="260.07" cy="397.87" r="1.0"/><circle cx="260.8" cy="397.87" r="1.0"/><circle cx="261.53" cy="397.77" r="1.0"/><circle cx="262.27" cy="397.71" r="1.0"/><circle cx="263" cy="397.4" r="1.0"/><circle cx="263.73" cy="397.25" r="1.0"/><circle cx="264.47" cy="397.08" r="1.0"/><circle cx="265.2" cy="396.78" r="1.0"/><circle cx="265.93" cy="396.54" r="1.0"/><circle cx="266.67" cy="396.31" r="1.0"/><circle cx="267.4" cy="396.33" r="1.0"/><circle cx="268.13" cy="396.34" r="1.0"/><circle cx="268.87" cy="396.22" r="1.0"/><circle cx="269.6" cy="396.4" r="1.0"/><circle cx="270.33" cy="396.58" r="1.0"/><circle cx="271.07" cy="396.82" r="1.0"/><circle cx="271.8" cy="397.06" r="1.0"/><circle cx="272.53" cy="397.2" r="1.0"/><circle cx="273.27" cy="397.52" r="1.0"/><circle cx="274" cy="397.75" r="1.0"/><circle cx="274.73" cy="397.94" r="1.0"/><circle cx="275.47" cy="397.97" r="1.0"/><circle cx="276.2" cy="398.14" r="1.0"/><circle cx="276.93" cy="398.09" r="1.0"/><circle cx="277.67" cy="398.05" r="1.0"/><circle cx="278.4" cy="397.93" r="1.0"/><circle cx="279.13" cy="397.81" r="1.0"/><circle cx="279.87" cy="397.54" r="1.0"/><circle cx="280.6" cy="397.28" r="1.0"/><circle cx="281.33" cy="397.13" r="1.0"/><circle cx="282.07" cy="396.97" r="1.0"/><circle cx="282.8" cy="396.82" r="1.0"/><circle cx="283.53" cy="396.64" r="1.0"/><circle cx="284.27" cy="396.6" r="1.0"/><circle cx="285" cy="396.59" r="1.0"/><circle cx="285.73" cy="396.65" r="1.0"/><circle cx="286.47" cy="396.85" r="1.0"/><circle cx="287.2" cy="396.92" r="1.0"/><circle cx="287.93" cy="397.16" r="1.0"/><circle cx="288.67" cy="397.4" r="1.0"/><circle cx="289.4" cy="397.62" r="1.0"/><circle cx="290.13" cy="397.82" r="1.0"/><circle cx="290.87" cy="398.05" r="1.0"/><circle cx="291.6" cy="398.24" r="1.0"/><circle cx="292.33" cy="398.24" r="1.0"/><circle cx="293.07" cy="398.34" r="1.0"/><circle cx="293.8" cy="398.32" r="1.0"/><circle cx="294.53" cy="398.27" r="1.0"/><circle cx="295.27" cy="398.06" r="1.0"/><circle cx="296" cy="397.93" r="1.0"/><circle cx="296.73" cy="397.7" r="1.0"/><circle cx="297.47" cy="397.44" r="1.0"/><circle cx="298.2" cy="397.26" r="1.0"/><circle cx="298.93" cy="397.04" r="1.0"/><circle cx="299.67" cy="396.93" r="1.0"/><circle cx="300.4" cy="396.88" r="1.0"/><circle cx="301.13" cy="396.85" r="1.0"/><circle cx="301.87" cy="396.9" r="1.0"/><circle cx="302.6" cy="396.94" r="1.0"/><circle cx="303.33" cy="397.11" r="1.0"/><circle cx="304.07" cy="397.32" r="1.0"/><circle cx="304.8" cy="397.48" r="1.0"/><circle cx="305.53" cy="397.74" r="1.0"/><circle cx="306.27" cy="397.98" r="1.0"/><circle cx="307" cy="398.22" r="1.0"/><circle cx="307.73" cy="398.3" r="1.0"/><circle cx="308.47" cy="398.42" r="1.0"/><circle cx="309.2" cy="398.49" r="1.0"/><circle cx="309.93" cy="398.5" r="1.0"/><circle cx="310.67" cy="398.46" r="1.0"/><circle cx="311.4" cy="398.32" r="1.0"/><circle cx="312.13" cy="398.14" r="1.0"/><circle cx="312.87" cy="397.97" r="1.0"/><circle cx="313.6" cy="397.76" r="1.0"/><circle cx="314.33" cy="397.58" r="1.0"/><circle cx="315.07" cy="397.36" r="1.0"/><circle cx="315.8" cy="397.21" r="1.0"/><circle cx="316.53" cy="397.15" r="1.0"/><circle cx="317.27" cy="397.03" r="1.0"/><circle cx="318" cy="397.03" r="1.0"/><circle cx="318.73" cy="397.1" r="1.0"/><circle cx="319.47" cy="397.26" r="1.0"/><circle cx="320.2" cy="397.42" r="1.0"/><circle cx="320.93" cy="397.66" r="1.0"/><circle cx="321.67" cy="397.79" r="1.0"/><circle cx="322.4" cy="398.13" r="1.0"/><circle cx="323.13" cy="398.26" r="1.0"/><circle cx="323.87" cy="398.43" r="1.0"/><circle cx="324.6" cy="398.5" r="1.0"/><circle cx="325.33" cy="398.62" r="1.0"/><circle cx="326.07" cy="398.69" r="1.0"/><circle cx="326.8" cy="398.67" r="1.0"/><circle cx="327.53" cy="398.55" r="1.0"/><circle cx="328.27" cy="398.38" r="1.0"/><circle cx="329" cy="398.21" r="1.0"/><circle cx="329.73" cy="398.03" r="1.0"/><circle cx="330.47" cy="397.85" r="1.0"/><circle cx="331.2" cy="397.64" r="1.0"/><circle cx="331.93" cy="397.42" r="1.0"/><circle cx="332.67" cy="397.39" r="1.0"/><circle cx="333.4" cy="397.27" r="1.0"/><circle cx="334.13" cy="397.17" r="1.0"/><circle cx="334.87" cy="397.26" r="1.0"/><circle cx="335.6" cy="397.39" r="1.0"/><circle cx="336.33" cy="397.48" r="1.0"/><circle cx="337.07" cy="397.72" r="1.0"/><circle cx="337.8" cy="397.89" r="1.0"/><circle cx="338.53" cy="398.03" r="1.0"/><circle cx="339.27" cy="398.22" r="1.0"/><circle cx="340" cy="398.56" r="1.0"/><circle cx="340.73" cy="398.6" r="1.0"/><circle cx="341.47" cy="398.64" r="1.0"/><circle cx="342.2" cy="398.8" r="1.0"/><circle cx="342.93" cy="398.75" r="1.0"/><circle cx="343.67" cy="398.63" r="1.0"/><circle cx="344.4" cy="398.61" r="1.0"/><circle cx="345.13" cy="398.41" r="1.0"/><circle cx="345.87" cy="398.25" r="1.0"/><circle cx="346.6" cy="398.14" r="1.0"/><circle cx="347.33" cy="397.85" r="1.0"/><circle cx="348.07" cy="397.7" r="1.0"/><circle cx="348.8" cy="397.51" r="1.0"/><circle cx="349.53" cy="397.36" r="1.0"/><circle cx="350.27" cy="397.38" r="1.0"/><circle cx="351" cy="397.44" r="1.0"/><circle cx="351.73" cy="397.46" r="1.0"/><circle cx="352.47" cy="397.59" r="1.0"/><circle cx="353.2" cy="397.71" r="1.0"/><circle cx="353.93" cy="398" r="1.0"/><circle cx="354.67" cy="398.19" r="1.0"/><circle cx="355.4" cy="398.44" r="1.0"/><circle cx="356.13" cy="398.5" r="1.0"/><circle cx="356.87" cy="398.69" r="1.0"/><circle cx="357.6" cy="398.84" r="1.0"/><circle cx="358.33" cy="398.91" r="1.0"/><circle cx="359.07" cy="398.92" r="1.0"/><circle cx="359.8" cy="398.89" r="1.0"/><circle cx="360.53" cy="398.77" r="1.0"/><circle cx="361.27" cy="398.65" r="1.0"/><circle cx="362" cy="398.39" r="1.0"/><circle cx="362.73" cy="398.26" r="1.0"/><circle cx="363.47" cy="398.12" r="1.0"/><circle cx="364.2" cy="397.93" r="1.0"/><circle cx="364.93" cy="397.69" r="1.0"/><circle cx="365.67" cy="397.61" r="1.0"/><circle cx="366.4" cy="397.55" r="1.0"/><circle cx="367.13" cy="397.51" r="1.0"/><circle cx="367.87" cy="397.51" r="1.0"/><circle cx="368.6" cy="397.73" r="1.0"/><circle cx="369.33" cy="397.84" r="1.0"/><circle cx="370.07" cy="398.06" r="1.0"/><circle cx="370.8" cy="398.15" r="1.0"/><circle cx="371.53" cy="398.39" r="1.0"/><circle cx="372.27" cy="398.59" r="1.0"/><circle cx="373" cy="398.76" r="1.0"/><circle cx="373.73" cy="398.83" r="1.0"/><circle cx="374.47" cy="398.96" r="1.0"/><circle cx="375.2" cy="399.01" r="1.0"/><circle cx="375.93" cy="398.92" r="1.0"/><circle cx="376.67" cy="398.95" r="1.0"/><circle cx="377.4" cy="398.85" r="1.0"/><circle cx="378.13" cy="398.52" r="1.0"/><circle cx="378.87" cy="398.48" r="1.0"/><circle cx="379.6" cy="398.3" r="1.0"/><circle cx="380.33" cy="398.13" r="1.0"/><circle cx="381.07" cy="397.93" r="1.0"/><circle cx="381.8" cy="397.76" r="1.0"/><circle cx="382.53" cy="397.67" r="1.0"/><circle cx="383.27" cy="397.64" r="1.0"/><circle cx="384" cy="397.69" r="1.0"/><circle cx="384.73" cy="397.81" r="1.0"/><circle cx="385.47" cy="397.84" r="1.0"/><circle cx="386.2" cy="397.94" r="1.0"/><circle cx="386.93" cy="398.14" r="1.0"/><circle cx="387.67" cy="398.39" r="1.0"/><circle cx="388.4" cy="398.54" r="1.0"/><circle cx="389.13" cy="398.77" r="1.0"/><circle cx="389.87" cy="398.9" r="1.0"/><circle cx="390.6" cy="399.06" r="1.0"/><circle cx="391.33" cy="399.08" r="1.0"/><circle cx="392.07" cy="399.07" r="1.0"/><circle cx="392.8" cy="399.04" r="1.0"/><circle cx="393.53" cy="398.9" r="1.0"/><circle cx="394.27" cy="398.72" r="1.0"/><circle cx="395" cy="398.58" r="1.0"/><circle cx="395.73" cy="398.47" r="1.0"/><circle cx="396.47" cy="398.3" r="1.0"/><circle cx="397.2" cy="398.13" r="1.0"/><circle cx="397.93" cy="398" r="1.0"/><circle cx="398.67" cy="397.84" r="1.0"/><circle cx="399.4" cy="397.76" r="1.0"/><circle cx="400.13" cy="397.76" r="1.0"/><circle cx="400.87" cy="397.8" r="1.0"/><circle cx="401.6" cy="397.89" r="1.0"/><circle cx="402.33" cy="398.04" r="1.0"/><circle cx="403.07" cy="398.23" r="1.0"/><circle cx="403.8" cy="398.31" r="1.0"/><circle cx="404.53" cy="398.53" r="1.0"/><circle cx="405.27" cy="398.8" r="1.0"/><circle cx="406" cy="398.96" r="1.0"/><circle cx="406.73" cy="399.07" r="1.0"/><circle cx="407.47" cy="399.12" r="1.0"/><circle cx="408.2" cy="399.1" r="1.0"/><circle cx="408.93" cy="399.09" r="1.0"/><circle cx="409.67" cy="399.01" r="1.0"/><circle cx="410.4" cy="398.9" r="1.0"/><circle cx="411.13" cy="398.74" r="1.0"/><circle cx="411.87" cy="398.59" r="1.0"/><circle cx="412.6" cy="398.42" r="1.0"/><circle cx="413.33" cy="398.26" r="1.0"/><circle cx="414.07" cy="398.18" r="1.0"/><circle cx="414.8" cy="397.98" r="1.0"/><circle cx="415.53" cy="397.81" r="1.0"/><circle cx="416.27" cy="397.88" r="1.0"/><circle cx="417" cy="397.9" r="1.0"/><circle cx="417.73" cy="397.89" r="1.0"/><circle cx="418.47" cy="398.05" r="1.0"/><circle cx="419.2" cy="398.22" r="1.0"/><circle cx="419.93" cy="398.31" r="1.0"/><circle cx="420.67" cy="398.54" r="1.0"/><circle cx="421.4" cy="398.72" r="1.0"/><circle cx="422.13" cy="398.95" r="1.0"/><circle cx="422.87" cy="399.04" r="1.0"/><circle cx="423.6" cy="399.15" r="1.0"/><circle cx="424.33" cy="399.18" r="1.0"/><circle cx="425.07" cy="399.17" r="1.0"/><circle cx="425.8" cy="399.12" r="1.0"/><circle cx="426.53" cy="399.06" r="1.0"/><circle cx="427.27" cy="398.9" r="1.0"/><circle cx="428" cy="398.82" r="1.0"/><circle cx="428.73" cy="398.56" r="1.0"/><circle cx="429.47" cy="398.38" r="1.0"/><circle cx="430.2" cy="398.26" r="1.0"/><circle cx="430.93" cy="398.13" r="1.0"/><circle cx="431.67" cy="398" r="1.0"/><circle cx="432.4" cy="397.99" r="1.0"/><circle cx="433.13" cy="397.91" r="1.0"/><circle cx="433.87" cy="397.96" r="1.0"/><circle cx="434.6" cy="398.11" r="1.0"/><circle cx="435.33" cy="398.2" r="1.0"/><circle cx="436.07" cy="398.32" r="1.0"/><circle cx="436.8" cy="398.5" r="1.0"/><circle cx="437.53" cy="398.69" r="1.0"/><circle cx="438.27" cy="398.92" r="1.0"/><circle cx="439" cy="399.08" r="1.0"/><circle cx="439.73" cy="399.2" r="1.0"/><circle cx="440.47" cy="399.23" r="1.0"/><circle cx="441.2" cy="399.18" r="1.0"/><circle cx="441.93" cy="399.19" r="1.0"/><circle cx="442.67" cy="399.11" r="1.0"/><circle cx="443.4" cy="399" r="1.0"/><circle cx="444.13" cy="398.98" r="1.0"/><circle cx="444.87" cy="398.74" r="1.0"/><circle cx="445.6" cy="398.57" r="1.0"/><circle cx="446.33" cy="398.32" r="1.0"/><circle cx="447.07" cy="398.15" r="1.0"/><circle cx="447.8" cy="398.13" r="1.0"/><circle cx="448.53" cy="398.02" r="1.0"/><circle cx="449.27" cy="397.97" r="1.0"/><circle cx="450" cy="398.03" r="1.0"/><circle cx="450.73" cy="398.11" r="1.0"/><circle cx="451.47" cy="398.23" r="1.0"/><circle cx="452.2" cy="398.31" r="1.0"/><circle cx="452.93" cy="398.56" r="1.0"/><circle cx="453.67" cy="398.66" r="1.0"/><circle cx="454.4" cy="398.88" r="1.0"/><circle cx="455.13" cy="399.02" r="1.0"/><circle cx="455.87" cy="399.12" r="1.0"/><circle cx="456.6" cy="399.31" r="1.0"/><circle cx="457.33" cy="399.36" r="1.0"/><circle cx="458.07" cy="399.3" r="1.0"/><circle cx="458.8" cy="399.31" r="1.0"/><circle cx="459.53" cy="399.2" r="1.0"/><circle cx="460.27" cy="399.03" r="1.0"/><circle cx="461" cy="398.86" r="1.0"/><circle cx="461.73" cy="398.74" r="1.0"/><circle cx="462.47" cy="398.52" r="1.0"/><circle cx="463.2" cy="398.32" r="1.0"/><circle cx="463.93" cy="398.15" r="1.0"/><circle cx="464.67" cy="398.19" r="1.0"/><circle cx="465.4" cy="397.99" r="1.0"/><circle cx="466.13" cy="398.01" r="1.0"/><circle cx="466.87" cy="398.15" r="1.0"/><circle cx="467.6" cy="398.26" r="1.0"/><circle cx="468.33" cy="398.31" r="1.0"/><circle cx="469.07" cy="398.51" r="1.0"/><circle cx="469.8" cy="398.67" r="1.0"/><circle cx="470.53" cy="398.82" r="1.0"/><circle cx="471.27" cy="399.04" r="1.0"/><circle cx="472" cy="399.17" r="1.0"/><circle cx="472.73" cy="399.27" r="1.0"/><circle cx="473.47" cy="399.32" r="1.0"/><circle cx="474.2" cy="399.3" r="1.0"/><circle cx="474.93" cy="399.27" r="1.0"/><circle cx="475.67" cy="399.25" r="1.0"/><circle cx="476.4" cy="399.15" r="1.0"/><circle cx="477.13" cy="398.88" r="1.0"/><circle cx="477.87" cy="398.78" r="1.0"/><circle cx="478.6" cy="398.61" r="1.0"/><circle cx="479.33" cy="398.51" r="1.0"/><circle cx="480.07" cy="398.28" r="1.0"/><circle cx="480.8" cy="398.23" r="1.0"/><circle cx="481.53" cy="398.14" r="1.0"/><circle cx="482.27" cy="398.15" r="1.0"/><circle cx="483" cy="398.14" r="1.0"/><circle cx="483.73" cy="398.19" r="1.0"/><circle cx="484.47" cy="398.37" r="1.0"/><circle cx="485.2" cy="398.5" r="1.0"/><circle cx="485.93" cy="398.64" r="1.0"/><circle cx="486.67" cy="398.87" r="1.0"/><circle cx="487.4" cy="399.05" r="1.0"/><circle cx="488.13" cy="399.19" r="1.0"/><circle cx="488.87" cy="399.35" r="1.0"/><circle cx="489.6" cy="399.34" r="1.0"/><circle cx="490.33" cy="399.46" r="1.0"/><circle cx="491.07" cy="399.37" r="1.0"/><circle cx="491.8" cy="399.3" r="1.0"/><circle cx="492.53" cy="399.29" r="1.0"/><circle cx="493.27" cy="399.1" r="1.0"/><circle cx="494" cy="398.95" r="1.0"/><circle cx="494.73" cy="398.8" r="1.0"/><circle cx="495.47" cy="398.59" r="1.0"/><circle cx="496.2" cy="398.42" r="1.0"/><circle cx="496.93" cy="398.25" r="1.0"/><circle cx="497.67" cy="398.14" r="1.0"/><circle cx="498.4" cy="398.19" r="1.0"/><circle cx="499.13" cy="398.16" r="1.0"/><circle cx="499.87" cy="398.17" r="1.0"/><circle cx="500.6" cy="398.24" r="1.0"/><circle cx="501.33" cy="398.53" r="1.0"/><circle cx="502.07" cy="398.53" r="1.0"/><circle cx="502.8" cy="398.78" r="1.0"/></g></g><g opacity="0.4"><polyline points="63.53,114.09 64.27,137.07 65,158.21 65.73,177.65 66.47,195.52 67.2,211.97 67.93,227.09 68.67,241 69.4,253.79 70.13,265.55 70.87,276.37 71.6,286.32 72.33,295.47 73.07,303.89 73.8,311.63 74.53,318.75 75.27,325.3 76,331.32 76.73,336.86 77.47,341.95 78.2,346.64 78.93,350.95 79.67,354.91 80.4,358.55 81.13,361.91 81.87,364.99 82.6,367.82 83.33,370.43 84.07,372.83 84.8,375.04 85.53,376.86 86.27,378.55 87,380.13 87.73,381.58 88.47,382.94 89.2,384.19 89.93,385.35 90.67,386.43 91.4,387.44 92.13,388.37 92.87,389.23 93.6,390.03 94.33,390.77 95.07,391.46 95.8,392.1 96.53,392.69 97.27,393.24 98,393.75 98.73,394.22 99.47,394.66 100.2,395.07 100.93,395.45 101.67,395.8 102.4,396.12 103.13,396.43 103.87,396.71 104.6,396.97 105.33,397.21 106.07,397.43 106.8,397.64 107.53,397.83 108.27,398.01 109,398.17 109.73,398.33 110.47,398.47 111.2,398.6 111.93,398.72 112.67,398.84 113.4,398.94 114.13,399.04 114.87,399.13 115.6,399.22 116.33,399.3 117.07,399.37 117.8,399.44 118.53,399.5 119.27,399.56 120,399.61 120.73,399.66 121.47,399.71 122.2,399.75 122.93,399.79 123.67,399.83 124.4,399.86 125.13,399.89 125.87,399.92 126.6,399.95 127.33,399.97 128.07,400 128.8,400.02 129.53,400.04 130.27,400.06 131,400.08 131.73,400.09 132.47,400.11 133.2,400.12 133.93,400.13 134.67,400.15 135.4,400.16 136.13,400.17 136.87,400.18 137.6,400.19 138.33,400.19 139.07,400.2 139.8,400.21 140.53,400.22 141.27,400.22 142,400.23 142.73,400.23 143.47,400.24 144.2,400.24 144.93,400.25 145.67,400.25 146.4,400.25 147.13,400.26 147.87,400.26 148.6,400.26 149.33,400.27 150.07,400.27 150.8,400.27 151.53,400.27 152.27,400.27 153,400.28 153.73,400.28 154.47,400.28 155.2,400.28 155.93,400.28 156.67,400.28 157.4,400.28 158.13,400.29 158.87,400.29 159.6,400.29 160.33,400.29 161.07,400.29 161.8,400.29 162.53,400.29 163.27,400.29 164,400.29 164.73,400.29 165.47,400.29 166.2,400.29 166.93,400.29 167.67,400.29 168.4,400.3 169.13,400.3 169.87,400.3 170.6,400.3 171.33,400.3 172.07,400.3 172.8,400.3 173.53,400.3 174.27,400.3 175,400.3 175.73,400.3 176.47,400.3 177.2,400.3 177.93,400.3 178.67,400.3 179.4,400.3 180.13,400.3 180.87,400.3 181.6,400.3 182.33,400.3 183.07,400.3 183.8,400.3 184.53,400.3 185.27,400.3 186,400.3 186.73,400.3 187.47,400.3 188.2,400.3 188.93,400.3 189.67,400.3 190.4,400.3 191.13,400.3 191.87,400.3 192.6,400.3 193.33,400.3 194.07,400.3 194.8,400.3 195.53,400.3 196.27,400.3 197,400.3 197.73,400.3 198.47,400.3 199.2,400.3 199.93,400.3 200.67,400.3 201.4,400.3 202.13,400.3 202.87,400.3 203.6,400.3 204.33,400.3 205.07,400.3 205.8,400.3 206.53,400.3 207.27,400.3 208,400.3 208.73,400.3 209.47,400.3 210.2,400.3 210.93,400.3 211.67,400.3 212.4,400.3 213.13,400.3 213.87,400.3 214.6,400.3 215.33,400.3 216.07,400.3 216.8,400.3 217.53,400.3 218.27,400.3 219,400.3 219.73,400.3 220.47,400.3 221.2,400.3 221.93,400.3 222.67,400.3 223.4,400.3 224.13,400.3 224.87,400.3 225.6,400.3 226.33,400.3 227.07,400.3 227.8,400.3 228.53,400.3 229.27,400.3 230,400.3 230.73,400.3 231.47,400.3 232.2,400.3 232.93,400.3 233.67,400.3 234.4,400.3 235.13,400.3 235.87,400.3 236.6,400.3 237.33,400.3 238.07,400.3 238.8,400.3 239.53,400.3 240.27,400.3 241,400.3 241.73,400.3 242.47,400.3 243.2,400.3 243.93,400.3 244.67,400.3 245.4,400.3 246.13,400.3 246.87,400.3 247.6,400.3 248.33,400.3 249.07,400.3 249.8,400.3 250.53,400.3 251.27,400.3 252,400.3 252.73,400.3 253.47,400.3 254.2,400.3 254.93,400.3 255.67,400.3 256.4,400.3 257.13,400.3 257.87,400.3 258.6,400.3 259.33,400.3 260.07,400.3 260.8,400.3 261.53,400.3 262.27,400.3 263,400.3 263.73,400.3 264.47,400.3 265.2,400.3 265.93,400.3 266.67,400.3 267.4,400.3 268.13,400.3 268.87,400.3 269.6,400.3 270.33,400.3 271.07,400.3 271.8,400.3 272.53,400.3 273.27,400.3 274,400.3 274.73,400.3 275.47,400.3 276.2,400.3 276.93,400.3 277.67,400.3 278.4,400.3 279.13,400.3 279.87,400.3 280.6,400.3 281.33,400.3 282.07,400.3 282.8,400.3 283.53,400.3 284.27,400.3 285,400.3 285.73,400.3 286.47,400.3 287.2,400.3 287.93,400.3 288.67,400.3 289.4,400.3 290.13,400.3 290.87,400.3 291.6,400.3 292.33,400.3 293.07,400.3 293.8,400.3 294.53,400.3 295.27,400.3 296,400.3 296.73,400.3 297.47,400.3 298.2,400.3 298.93,400.3 299.67,400.3 300.4,400.3 301.13,400.3 301.87,400.3 302.6,400.3 303.33,400.3 304.07,400.3 304.8,400.3 305.53,400.3 306.27,400.3 307,400.3 307.73,400.3 308.47,400.3 309.2,400.3 309.93,400.3 310.67,400.3 311.4,400.3 312.13,400.3 312.87,400.3 313.6,400.3 314.33,400.3 315.07,400.3 315.8,400.3 316.53,400.3 317.27,400.3 318,400.3 318.73,400.3 319.47,400.3 320.2,400.3 320.93,400.3 321.67,400.3 322.4,400.3 323.13,400.3 323.87,400.3 324.6,400.3 325.33,400.3 326.07,400.3 326.8,400.3 327.53,400.3 328.27,400.3 329,400.3 329.73,400.3 330.47,400.3 331.2,400.3 331.93,400.3 332.67,400.3 333.4,400.3 334.13,400.3 334.87,400.3 335.6,400.3 336.33,400.3 337.07,400.3 337.8,400.3 338.53,400.3 339.27,400.3 340,400.3 340.73,400.3 341.47,400.3 342.2,400.3 342.93,400.3 343.67,400.3 344.4,400.3 345.13,400.3 345.87,400.3 346.6,400.3 347.33,400.3 348.07,400.3 348.8,400.3 349.53,400.3 350.27,400.3 351,400.3 351.73,400.3 352.47,400.3 353.2,400.3 353.93,400.3 354.67,400.3 355.4,400.3 356.13,400.3 356.87,400.3 357.6,400.3 358.33,400.3 359.07,400.3 359.8,400.3 360.53,400.3 361.27,400.3 362,400.3 362.73,400.3 363.47,400.3 364.2,400.3 364.93,400.3 365.67,400.3 366.4,400.3 367.13,400.3 367.87,400.3 368.6,400.3 369.33,400.3 370.07,400.3 370.8,400.3 371.53,400.3 372.27,400.3 373,400.3 373.73,400.3 374.47,400.3 375.2,400.3 375.93,400.3 376.67,400.3 377.4,400.3 378.13,400.3 378.87,400.3 379.6,400.3 380.33,400.3 381.07,400.3 381.8,400.3 382.53,400.3 383.27,400.3 384,400.3 384.73,400.3 385.47,400.3 386.2,400.3 386.93,400.3 387.67,400.3 388.4,400.3 389.13,400.3 389.87,400.3 390.6,400.3 391.33,400.3 392.07,400.3 392.8,400.3 393.53,400.3 394.27,400.3 395,400.3 395.73,400.3 396.47,400.3 397.2,400.3 397.93,400.3 398.67,400.3 399.4,400.3 400.13,400.3 400.87,400.3 401.6,400.3 402.33,400.3 403.07,400.3 403.8,400.3 404.53,400.3 405.27,400.3 406,400.3 406.73,400.3 407.47,400.3 408.2,400.3 408.93,400.3 409.67,400.3 410.4,400.3 411.13,400.3 411.87,400.3 412.6,400.3 413.33,400.3 414.07,400.3 414.8,400.3 415.53,400.3 416.27,400.3 417,400.3 417.73,400.3 418.47,400.3 419.2,400.3 419.93,400.3 420.67,400.3 421.4,400.3 422.13,400.3 422.87,400.3 423.6,400.3 424.33,400.3 425.07,400.3 425.8,400.3 426.53,400.3 427.27,400.3 428,400.3 428.73,400.3 429.47,400.3 430.2,400.3 430.93,400.3 431.67,400.3 432.4,400.3 433.13,400.3 433.87,400.3 434.6,400.3 435.33,400.3 436.07,400.3 436.8,400.3 437.53,400.3 438.27,400.3 439,400.3 439.73,400.3 440.47,400.3 441.2,400.3 441.93,400.3 442.67,400.3 443.4,400.3 444.13,400.3 444.87,400.3 445.6,400.3 446.33,400.3 447.07,400.3 447.8,400.3 448.53,400.3 449.27,400.3 450,400.3 450.73,400.3 451.47,400.3 452.2,400.3 452.93,400.3 453.67,400.3 454.4,400.3 455.13,400.3 455.87,400.3 456.6,400.3 457.33,400.3 458.07,400.3 458.8,400.3 459.53,400.3 460.27,400.3 461,400.3 461.73,400.3 462.47,400.3 463.2,400.3 463.93,400.3 464.67,400.3 465.4,400.3 466.13,400.3 466.87,400.3 467.6,400.3 468.33,400.3 469.07,400.3 469.8,400.3 470.53,400.3 471.27,400.3 472,400.3 472.73,400.3 473.47,400.3 474.2,400.3 474.93,400.3 475.67,400.3 476.4,400.3 477.13,400.3 477.87,400.3 478.6,400.3 479.33,400.3 480.07,400.3 480.8,400.3 481.53,400.3 482.27,400.3 483,400.3 483.73,400.3 484.47,400.3 485.2,400.3 485.93,400.3 486.67,400.3 487.4,400.3 488.13,400.3 488.87,400.3 489.6,400.3 490.33,400.3 491.07,400.3 491.8,400.3 492.53,400.3 493.27,400.3 494,400.3 494.73,400.3 495.47,400.3 496.2,400.3 496.93,400.3 497.67,400.3 498.4,400.3 499.13,400.3 499.87,400.3 500.6,400.3 501.33,400.3 502.07,400.3 502.8,400.3" fill="none" stroke="#0000ff" stroke-width="0.8"/><g fill="none" stroke="#0000ff" stroke-width="0.8"><circle cx="63.53" cy="114.09" r="2.5"/><circle cx="64.27" cy="137.07" r="2.5"/><circle cx="65" cy="158.21" r="2.5"/><circle cx="65.73" cy="177.65" r="2.5"/><circle cx="66.47" cy="195.52" r="2.5"/><circle cx="67.2" cy="211.97" r="2.5"/><circle cx="67.93" cy="227.09" r="2.5"/><circle cx="68.67" cy="241" r="2.5"/><circle cx="69.4" cy="253.79" r="2.5"/><circle cx="70.13" cy="265.55" r="2.5"/><circle cx="70.87" cy="276.37" r="2.5"/><circle cx="71.6" cy="286.32" r="2.5"/><circle cx="72.33" cy="295.47" r="2.5"/><circle cx="73.07" cy="303.89" r="2.5"/><circle cx="73.8" cy="311.63" r="2.5"/><circle cx="74.53" cy="318.75" r="2.5"/><circle cx="75.27" cy="325.3" r="2.5"/><circle cx="76" cy="331.32" r="2.5"/><circle cx="76.73" cy="336.86" r="2.5"/><circle cx="77.47" cy="341.95" r="2.5"/><circle cx="78.2" cy="346.64" r="2.5"/><circle cx="78.93" cy="350.95" r="2.5"/><circle cx="79.67" cy="354.91" r="2.5"/><circle cx="80.4" cy="358.55" r="2.5"/><circle cx="81.13" cy="361.91" r="2.5"/><circle cx="81.87" cy="364.99" r="2.5"/><circle cx="82.6" cy="367.82" r="2.5"/><circle cx="83.33" cy="370.43" r="2.5"/><circle cx="84.07" cy="372.83" r="2.5"/><circle cx="84.8" cy="375.04" r="2.5"/><circle cx="85.53" cy="376.86" r="2.5"/><circle cx="86.27" cy="378.55" r="2.5"/><circle cx="87" cy="380.13" r="2.5"/><circle cx="87.73" cy="381.58" r="2.5"/><circle cx="88.47" cy="382.94" r="2.5"/><circle cx="89.2" cy="384.19" r="2.5"/><circle cx="89.93" cy="385.35" r="2.5"/><circle cx="90.67" cy="386.43" r="2.5"/><circle cx="91.4" cy="387.44" r="2.5"/><circle cx="92.13" cy="388.37" r="2.5"/><circle cx="92.87" cy="389.23" r="2.5"/><circle cx="93.6" cy="390.03" r="2.5"/><circle cx="94.33" cy="390.77" r="2.5"/><circle cx="95.07" cy="391.46" r="2.5"/><circle cx="95.8" cy="392.1" r="2.5"/><circle cx="96.53" cy="392.69" r="2.5"/><circle cx="97.27" cy="393.24" r="2.5"/><circle cx="98" cy="393.75" r="2.5"/><circle cx="98.73" cy="394.22" r="2.5"/><circle cx="99.47" cy="394.66" r="2.5"/><circle cx="100.2" cy="395.07" r="2.5"/><circle cx="100.93" cy="395.45" r="2.5"/><circle cx="101.67" cy="395.8" r="2.5"/><circle cx="102.4" cy="396.12" r="2.5"/><circle cx="103.13" cy="396.43" r="2.5"/><circle cx="103.87" cy="396.71" r="2.5"/><circle cx="104.6" cy="396.97" r="2.5"/><circle cx="105.33" cy="397.21" r="2.5"/><circle cx="106.07" cy="397.43" r="2.5"/><circle cx="106.8" cy="397.64" r="2.5"/><circle cx="107.53" cy="397.83" r="2.5"/><circle cx="108.27" cy="398.01" r="2.5"/><circle cx="109" cy="398.17" r="2.5"/><circle cx="109.73" cy="398.33" r="2.5"/><circle cx="110.47" cy="398.47" r="2.5"/><circle cx="111.2" cy="398.6" r="2.5"/><circle cx="111.93" cy="398.72" r="2.5"/><circle cx="112.67" cy="398.84" r="2.5"/><circle cx="113.4" cy="398.94" r="2.5"/><circle cx="114.13" cy="399.04" r="2.5"/><circle cx="114.87" cy="399.13" r="2.5"/><circle cx="115.6" cy="399.22" r="2.5"/><circle cx="116.33" cy="399.3" r="2.5"/><circle cx="117.07" cy="399.37" r="2.5"/><circle cx="117.8" cy="399.44" r="2.5"/><circle cx="118.53" cy="399.5" r="2.5"/><circle cx="119.27" cy="399.56" r="2.5"/><circle cx="120" cy="399.61" r="2.5"/><circle cx="120.73" cy="399.66" r="2.5"/><circle cx="121.47" cy="399.71" r="2.5"/><circle cx="122.2" cy="399.75" r="2.5"/><circle cx="122.93" cy="399.79" r="2.5"/><circle cx="123.67" cy="399.83" r="2.5"/><circle cx="124.4" cy="399.86" r="2.5"/><circle cx="125.13" cy="399.89" r="2.5"/><circle cx="125.87" cy="399.92" r="2.5"/><circle cx="126.6" cy="399.95" r="2.5"/><circle cx="127.33" cy="399.97" r="2.5"/><circle cx="128.07" cy="400" r="2.5"/><circle cx="128.8" cy="400.02" r="2.5"/><circle cx="129.53" cy="400.04" r="2.5"/><circle cx="130.27" cy="400.06" r="2.5"/><circle cx="131" cy="400.08" r="2.5"/><circle cx="131.73" cy="400.09" r="2.5"/><circle cx="132.47" cy="400.11" r="2.5"/><circle cx="133.2" cy="400.12" r="2.5"/><circle cx="133.93" cy="400.13" r="2.5"/><circle cx="134.67" cy="400.15" r="2.5"/><circle cx="135.4" cy="400.16" r="2.5"/><circle cx="136.13" cy="400.17" r="2.5"/><circle cx="136.87" cy="400.18" r="2.5"/><circle cx="137.6" cy="400.19" r="2.5"/><circle cx="138.33" cy="400.19" r="2.5"/><circle cx="139.07" cy="400.2" r="2.5"/><circle cx="139.8" cy="400.21" r="2.5"/><circle cx="140.53" cy="400.22" r="2.5"/><circle cx="141.27" cy="400.22" r="2.5"/><circle cx="142" cy="400.23" r="2.5"/><circle cx="142.73" cy="400.23" r="2.5"/><circle cx="143.47" cy="400.24" r="2.5"/><circle cx="144.2" cy="400.24" r="2.5"/><circle cx="144.93" cy="400.25" r="2.5"/><circle cx="145.67" cy="400.25" r="2.5"/><circle cx="146.4" cy="400.25" r="2.5"/><circle cx="147.13" cy="400.26" r="2.5"/><circle cx="147.87" cy="400.26" r="2.5"/><circle cx="148.6" cy="400.26" r="2.5"/><circle cx="149.33" cy="400.27" r="2.5"/><circle cx="150.07" cy="400.27" r="2.5"/><circle cx="150.8" cy="400.27" r="2.5"/><circle cx="151.53" cy="400.27" r="2.5"/><circle cx="152.27" cy="400.27" r="2.5"/><circle cx="153" cy="400.28" r="2.5"/><circle cx="153.73" cy="400.28" r="2.5"/><circle cx="154.47" cy="400.28" r="2.5"/><circle cx="155.2" cy="400.28" r="2.5"/><circle cx="155.93" cy="400.28" r="2.5"/><circle cx="156.67" cy="400.28" r="2.5"/><circle cx="157.4" cy="400.28" r="2.5"/><circle cx="158.13" cy="400.29" r="2.5"/><circle cx="158.87" cy="400.29" r="2.5"/><circle cx="159.6" cy="400.29" r="2.5"/><circle cx="160.33" cy="400.29" r="2.5"/><circle cx="161.07" cy="400.29" r="2.5"/><circle cx="161.8" cy="400.29" r="2.5"/><circle cx="162.53" cy="400.29" r="2.5"/><circle cx="163.27" cy="400.29" r="2.5"/><circle cx="164" cy="400.29" r="2.5"/><circle cx="164.73" cy="400.29" r="2.5"/><circle cx="165.47" cy="400.29" r="2.5"/><circle cx="166.2" cy="400.29" r="2.5"/><circle cx="166.93" cy="400.29" r="2.5"/><circle cx="167.67" cy="400.29" r="2.5"/><circle cx="168.4" cy="400.3" r="2.5"/><circle cx="169.13" cy="400.3" r="2.5"/><circle cx="169.87" cy="400.3" r="2.5"/><circle cx="170.6" cy="400.3" r="2.5"/><circle cx="171.33" cy="400.3" r="2.5"/><circle cx="172.07" cy="400.3" r="2.5"/><circle cx="172.8" cy="400.3" r="2.5"/><circle cx="173.53" cy="400.3" r="2.5"/><circle cx="174.27" cy="400.3" r="2.5"/><circle cx="175" cy="400.3" r="2.5"/><circle cx="175.73" cy="400.3" r="2.5"/><circle cx="176.47" cy="400.3" r="2.5"/><circle cx="177.2" cy="400.3" r="2.5"/><circle cx="177.93" cy="400.3" r="2.5"/><circle cx="178.67" cy="400.3" r="2.5"/><circle cx="179.4" cy="400.3" r="2.5"/><circle cx="180.13" cy="400.3" r="2.5"/><circle cx="180.87" cy="400.3" r="2.5"/><circle cx="181.6" cy="400.3" r="2.5"/><circle cx="182.33" cy="400.3" r="2.5"/><circle cx="183.07" cy="400.3" r="2.5"/><circle cx="183.8" cy="400.3" r="2.5"/><circle cx="184.53" cy="400.3" r="2.5"/><circle cx="185.27" cy="400.3" r="2.5"/><circle cx="186" cy="400.3" r="2.5"/><circle cx="186.73" cy="400.3" r="2.5"/><circle cx="187.47" cy="400.3" r="2.5"/><circle cx="188.2" cy="400.3" r="2.5"/><circle cx="188.93" cy="400.3" r="2.5"/><circle cx="189.67" cy="400.3" r="2.5"/><circle cx="190.4" cy="400.3" r="2.5"/><circle cx="191.13" cy="400.3" r="2.5"/><circle cx="191.87" cy="400.3" r="2.5"/><circle cx="192.6" cy="400.3" r="2.5"/><circle cx="193.33" cy="400.3" r="2.5"/><circle cx="194.07" cy="400.3" r="2.5"/><circle cx="194.8" cy="400.3" r="2.5"/><circle cx="195.53" cy="400.3" r="2.5"/><circle cx="196.27" cy="400.3" r="2.5"/><circle cx="197" cy="400.3" r="2.5"/><circle cx="197.73" cy="400.3" r="2.5"/><circle cx="198.47" cy="400.3" r="2.5"/><circle cx="199.2" cy="400.3" r="2.5"/><circle cx="199.93" cy="400.3" r="2.5"/><circle cx="200.67" cy="400.3" r="2.5"/><circle cx="201.4" cy="400.3" r="2.5"/><circle cx="202.13" cy="400.3" r="2.5"/><circle cx="202.87" cy="400.3" r="2.5"/><circle cx="203.6" cy="400.3" r="2.5"/><circle cx="204.33" cy="400.3" r="2.5"/><circle cx="205.07" cy="400.3" r="2.5"/><circle cx="205.8" cy="400.3" r="2.5"/><circle cx="206.53" cy="400.3" r="2.5"/><circle cx="207.27" cy="400.3" r="2.5"/><circle cx="208" cy="400.3" r="2.5"/><circle cx="208.73" cy="400.3" r="2.5"/><circle cx="209.47" cy="400.3" r="2.5"/><circle cx="210.2" cy="400.3" r="2.5"/><circle cx="210.93" cy="400.3" r="2.5"/><circle cx="211.67" cy="400.3" r="2.5"/><circle cx="212.4" cy="400.3" r="2.5"/><circle cx="213.13" cy="400.3" r="2.5"/><circle cx="213.87" cy="400.3" r="2.5"/><circle cx="214.6" cy="400.3" r="2.5"/><circle cx="215.33" cy="400.3" r="2.5"/><circle cx="216.07" cy="400.3" r="2.5"/><circle cx="216.8" cy="400.3" r="2.5"/><circle cx="217.53" cy="400.3" r="2.5"/><circle cx="218.27" cy="400.3" r="2.5"/><circle cx="219" cy="400.3" r="2.5"/><circle cx="219.73" cy="400.3" r="2.5"/><circle cx="220.47" cy="400.3" r="2.5"/><circle cx="221.2" cy="400.3" r="2.5"/><circle cx="221.93" cy="400.3" r="2.5"/><circle cx="222.67" cy="400.3" r="2.5"/><circle cx="223.4" cy="400.3" r="2.5"/><circle cx="224.13" cy="400.3" r="2.5"/><circle cx="224.87" cy="400.3" r="2.5"/><circle cx="225.6" cy="400.3" r="2.5"/><circle cx="226.33" cy="400.3" r="2.5"/><circle cx="227.07" cy="400.3" r="2.5"/><circle cx="227.8" cy="400.3" r="2.5"/><circle cx="228.53" cy="400.3" r="2.5"/><circle cx="229.27" cy="400.3" r="2.5"/><circle cx="230" cy="400.3" r="2.5"/><circle cx="230.73" cy="400.3" r="2.5"/><circle cx="231.47" cy="400.3" r="2.5"/><circle cx="232.2" cy="400.3" r="2.5"/><circle cx="232.93" cy="400.3" r="2.5"/><circle cx="233.67" cy="400.3" r="2.5"/><circle cx="234.4" cy="400.3" r="2.5"/><circle cx="235.13" cy="400.3" r="2.5"/><circle cx="235.87" cy="400.3" r="2.5"/><circle cx="236.6" cy="400.3" r="2.5"/><circle cx="237.33" cy="400.3" r="2.5"/><circle cx="238.07" cy="400.3" r="2.5"/><circle cx="238.8" cy="400.3" r="2.5"/><circle cx="239.53" cy="400.3" r="2.5"/><circle cx="240.27" cy="400.3" r="2.5"/><circle cx="241" cy="400.3" r="2.5"/><circle cx="241.73" cy="400.3" r="2.5"/><circle cx="242.47" cy="400.3" r="2.5"/><circle cx="243.2" cy="400.3" r="2.5"/><circle cx="243.93" cy="400.3" r="2.5"/><circle cx="244.67" cy="400.3" r="2.5"/><circle cx="245.4" cy="400.3" r="2.5"/><circle cx="246.13" cy="400.3" r="2.5"/><circle cx="246.87" cy="400.3" r="2.5"/><circle cx="247.6" cy="400.3" r="2.5"/><circle cx="248.33" cy="400.3" r="2.5"/><circle cx="249.07" cy="400.3" r="2.5"/><circle cx="249.8" cy="400.3" r="2.5"/><circle cx="250.53" cy="400.3" r="2.5"/><circle cx="251.27" cy="400.3" r="2.5"/><circle cx="252" cy="400.3" r="2.5"/><circle cx="252.73" cy="400.3" r="2.5"/><circle cx="253.47" cy="400.3" r="2.5"/><circle cx="254.2" cy="400.3" r="2.5"/><circle cx="254.93" cy="400.3" r="2.5"/><circle cx="255.67" cy="400.3" r="2.5"/><circle cx="256.4" cy="400.3" r="2.5"/><circle cx="257.13" cy="400.3" r="2.5"/><circle cx="257.87" cy="400.3" r="2.5"/><circle cx="258.6" cy="400.3" r="2.5"/><circle cx="259.33" cy="400.3" r="2.5"/><circle cx="260.07" cy="400.3" r="2.5"/><circle cx="260.8" cy="400.3" r="2.5"/><circle cx="261.53" cy="400.3" r="2.5"/><circle cx="262.27" cy="400.3" r="2.5"/><circle cx="263" cy="400.3" r="2.5"/><circle cx="263.73" cy="400.3" r="2.5"/><circle cx="264.47" cy="400.3" r="2.5"/><circle cx="265.2" cy="400.3" r="2.5"/><circle cx="265.93" cy="400.3" r="2.5"/><circle cx="266.67" cy="400.3" r="2.5"/><circle cx="267.4" cy="400.3" r="2.5"/><circle cx="268.13" cy="400.3" r="2.5"/><circle cx="268.87" cy="400.3" r="2.5"/><circle cx="269.6" cy="400.3" r="2.5"/><circle cx="270.33" cy="400.3" r="2.5"/><circle cx="271.07" cy="400.3" r="2.5"/><circle cx="271.8" cy="400.3" r="2.5"/><circle cx="272.53" cy="400.3" r="2.5"/><circle cx="273.27" cy="400.3" r="2.5"/><circle cx="274" cy="400.3" r="2.5"/><circle cx="274.73" cy="400.3" r="2.5"/><circle cx="275.47" cy="400.3" r="2.5"/><circle cx="276.2" cy="400.3" r="2.5"/><circle cx="276.93" cy="400.3" r="2.5"/><circle cx="277.67" cy="400.3" r="2.5"/><circle cx="278.4" cy="400.3" r="2.5"/><circle cx="279.13" cy="400.3" r="2.5"/><circle cx="279.87" cy="400.3" r="2.5"/><circle cx="280.6" cy="400.3" r="2.5"/><circle cx="281.33" cy="400.3" r="2.5"/><circle cx="282.07" cy="400.3" r="2.5"/><circle cx="282.8" cy="400.3" r="2.5"/><circle cx="283.53" cy="400.3" r="2.5"/><circle cx="284.27" cy="400.3" r="2.5"/><circle cx="285" cy="400.3" r="2.5"/><circle cx="285.73" cy="400.3" r="2.5"/><circle cx="286.47" cy="400.3" r="2.5"/><circle cx="287.2" cy="400.3" r="2.5"/><circle cx="287.93" cy="400.3" r="2.5"/><circle cx="288.67" cy="400.3" r="2.5"/><circle cx="289.4" cy="400.3" r="2.5"/><circle cx="290.13" cy="400.3" r="2.5"/><circle cx="290.87" cy="400.3" r="2.5"/><circle cx="291.6" cy="400.3" r="2.5"/><circle cx="292.33" cy="400.3" r="2.5"/><circle cx="293.07" cy="400.3" r="2.5"/><circle cx="293.8" cy="400.3" r="2.5"/><circle cx="294.53" cy="400.3" r="2.5"/><circle cx="295.27" cy="400.3" r="2.5"/><circle cx="296" cy="400.3" r="2.5"/><circle cx="296.73" cy="400.3" r="2.5"/><circle cx="297.47" cy="400.3" r="2.5"/><circle cx="298.2" cy="400.3" r="2.5"/><circle cx="298.93" cy="400.3" r="2.5"/><circle cx="299.67" cy="400.3" r="2.5"/><circle cx="300.4" cy="400.3" r="2.5"/><circle cx="301.13" cy="400.3" r="2.5"/><circle cx="301.87" cy="400.3" r="2.5"/><circle cx="302.6" cy="400.3" r="2.5"/><circle cx="303.33" cy="400.3" r="2.5"/><circle cx="304.07" cy="400.3" r="2.5"/><circle cx="304.8" cy="400.3" r="2.5"/><circle cx="305.53" cy="400.3" r="2.5"/><circle cx="306.27" cy="400.3" r="2.5"/><circle cx="307" cy="400.3" r="2.5"/><circle cx="307.73" cy="400.3" r="2.5"/><circle cx="308.47" cy="400.3" r="2.5"/><circle cx="309.2" cy="400.3" r="2.5"/><circle cx="309.93" cy="400.3" r="2.5"/><circle cx="310.67" cy="400.3" r="2.5"/><circle cx="311.4" cy="400.3" r="2.5"/><circle cx="312.13" cy="400.3" r="2.5"/><circle cx="312.87" cy="400.3" r="2.5"/><circle cx="313.6" cy="400.3" r="2.5"/><circle cx="314.33" cy="400.3" r="2.5"/><circle cx="315.07" cy="400.3" r="2.5"/><circle cx="315.8" cy="400.3" r="2.5"/><circle cx="316.53" cy="400.3" r="2.5"/><circle cx="317.27" cy="400.3" r="2.5"/><circle cx="318" cy="400.3" r="2.5"/><circle cx="318.73" cy="400.3" r="2.5"/><circle cx="319.47" cy="400.3" r="2.5"/><circle cx="320.2" cy="400.3" r="2.5"/><circle cx="320.93" cy="400.3" r="2.5"/><circle cx="321.67" cy="400.3" r="2.5"/><circle cx="322.4" cy="400.3" r="2.5"/><circle cx="323.13" cy="400.3" r="2.5"/><circle cx="323.87" cy="400.3" r="2.5"/><circle cx="324.6" cy="400.3" r="2.5"/><circle cx="325.33" cy="400.3" r="2.5"/><circle cx="326.07" cy="400.3" r="2.5"/><circle cx="326.8" cy="400.3" r="2.5"/><circle cx="327.53" cy="400.3" r="2.5"/><circle cx="328.27" cy="400.3" r="2.5"/><circle cx="329" cy="400.3" r="2.5"/><circle cx="329.73" cy="400.3" r="2.5"/><circle cx="330.47" cy="400.3" r="2.5"/><circle cx="331.2" cy="400.3" r="2.5"/><circle cx="331.93" cy="400.3" r="2.5"/><circle cx="332.67" cy="400.3" r="2.5"/><circle cx="333.4" cy="400.3" r="2.5"/><circle cx="334.13" cy="400.3" r="2.5"/><circle cx="334.87" cy="400.3" r="2.5"/><circle cx="335.6" cy="400.3" r="2.5"/><circle cx="336.33" cy="400.3" r="2.5"/><circle cx="337.07" cy="400.3" r="2.5"/><circle cx="337.8" cy="400.3" r="2.5"/><circle cx="338.53" cy="400.3" r="2.5"/><circle cx="339.27" cy="400.3" r="2.5"/><circle cx="340" cy="400.3" r="2.5"/><circle cx="340.73" cy="400.3" r="2.5"/><circle cx="341.47" cy="400.3" r="2.5"/><circle cx="342.2" cy="400.3" r="2.5"/><circle cx="342.93" cy="400.3" r="2.5"/><circle cx="343.67" cy="400.3" r="2.5"/><circle cx="344.4" cy="400.3" r="2.5"/><circle cx="345.13" cy="400.3" r="2.5"/><circle cx="345.87" cy="400.3" r="2.5"/><circle cx="346.6" cy="400.3" r="2.5"/><circle cx="347.33" cy="400.3" r="2.5"/><circle cx="348.07" cy="400.3" r="2.5"/><circle cx="348.8" cy="400.3" r="2.5"/><circle cx="349.53" cy="400.3" r="2.5"/><circle cx="350.27" cy="400.3" r="2.5"/><circle cx="351" cy="400.3" r="2.5"/><circle cx="351.73" cy="400.3" r="2.5"/><circle cx="352.47" cy="400.3" r="2.5"/><circle cx="353.2" cy="400.3" r="2.5"/><circle cx="353.93" cy="400.3" r="2.5"/><circle cx="354.67" cy="400.3" r="2.5"/><circle cx="355.4" cy="400.3" r="2.5"/><circle cx="356.13" cy="400.3" r="2.5"/><circle cx="356.87" cy="400.3" r="2.5"/><circle cx="357.6" cy="400.3" r="2.5"/><circle cx="358.33" cy="400.3" r="2.5"/><circle cx="359.07" cy="400.3" r="2.5"/><circle cx="359.8" cy="400.3" r="2.5"/><circle cx="360.53" cy="400.3" r="2.5"/><circle cx="361.27" cy="400.3" r="2.5"/><circle cx="362" cy="400.3" r="2.5"/><circle cx="362.73" cy="400.3" r="2.5"/><circle cx="363.47" cy="400.3" r="2.5"/><circle cx="364.2" cy="400.3" r="2.5"/><circle cx="364.93" cy="400.3" r="2.5"/><circle cx="365.67" cy="400.3" r="2.5"/><circle cx="366.4" cy="400.3" r="2.5"/><circle cx="367.13" cy="400.3" r="2.5"/><circle cx="367.87" cy="400.3" r="2.5"/><circle cx="368.6" cy="400.3" r="2.5"/><circle cx="369.33" cy="400.3" r="2.5"/><circle cx="370.07" cy="400.3" r="2.5"/><circle cx="370.8" cy="400.3" r="2.5"/><circle cx="371.53" cy="400.3" r="2.5"/><circle cx="372.27" cy="400.3" r="2.5"/><circle cx="373" cy="400.3" r="2.5"/><circle cx="373.73" cy="400.3" r="2.5"/><circle cx="374.47" cy="400.3" r="2.5"/><circle cx="375.2" cy="400.3" r="2.5"/><circle cx="375.93" cy="400.3" r="2.5"/><circle cx="376.67" cy="400.3" r="2.5"/><circle cx="377.4" cy="400.3" r="2.5"/><circle cx="378.13" cy="400.3" r="2.5"/><circle cx="378.87" cy="400.3" r="2.5"/><circle cx="379.6" cy="400.3" r="2.5"/><circle cx="380.33" cy="400.3" r="2.5"/><circle cx="381.07" cy="400.3" r="2.5"/><circle cx="381.8" cy="400.3" r="2.5"/><circle cx="382.53" cy="400.3" r="2.5"/><circle cx="383.27" cy="400.3" r="2.5"/><circle cx="384" cy="400.3" r="2.5"/><circle cx="384.73" cy="400.3" r="2.5"/><circle cx="385.47" cy="400.3" r="2.5"/><circle cx="386.2" cy="400.3" r="2.5"/><circle cx="386.93" cy="400.3" r="2.5"/><circle cx="387.67" cy="400.3" r="2.5"/><circle cx="388.4" cy="400.3" r="2.5"/><circle cx="389.13" cy="400.3" r="2.5"/><circle cx="389.87" cy="400.3" r="2.5"/><circle cx="390.6" cy="400.3" r="2.5"/><circle cx="391.33" cy="400.3" r="2.5"/><circle cx="392.07" cy="400.3" r="2.5"/><circle cx="392.8" cy="400.3" r="2.5"/><circle cx="393.53" cy="400.3" r="2.5"/><circle cx="394.27" cy="400.3" r="2.5"/><circle cx="395" cy="400.3" r="2.5"/><circle cx="395.73" cy="400.3" r="2.5"/><circle cx="396.47" cy="400.3" r="2.5"/><circle cx="397.2" cy="400.3" r="2.5"/><circle cx="397.93" cy="400.3" r="2.5"/><circle cx="398.67" cy="400.3" r="2.5"/><circle cx="399.4" cy="400.3" r="2.5"/><circle cx="400.13" cy="400.3" r="2.5"/><circle cx="400.87" cy="400.3" r="2.5"/><circle cx="401.6" cy="400.3" r="2.5"/><circle cx="402.33" cy="400.3" r="2.5"/><circle cx="403.07" cy="400.3" r="2.5"/><circle cx="403.8" cy="400.3" r="2.5"/><circle cx="404.53" cy="400.3" r="2.5"/><circle cx="405.27" cy="400.3" r="2.5"/><circle cx="406" cy="400.3" r="2.5"/><circle cx="406.73" cy="400.3" r="2.5"/><circle cx="407.47" cy="400.3" r="2.5"/><circle cx="408.2" cy="400.3" r="2.5"/><circle cx="408.93" cy="400.3" r="2.5"/><circle cx="409.67" cy="400.3" r="2.5"/><circle cx="410.4" cy="400.3" r="2.5"/><circle cx="411.13" cy="400.3" r="2.5"/><circle cx="411.87" cy="400.3" r="2.5"/><circle cx="412.6" cy="400.3" r="2.5"/><circle cx="413.33" cy="400.3" r="2.5"/><circle cx="414.07" cy="400.3" r="2.5"/><circle cx="414.8" cy="400.3" r="2.5"/><circle cx="415.53" cy="400.3" r="2.5"/><circle cx="416.27" cy="400.3" r="2.5"/><circle cx="417" cy="400.3" r="2.5"/><circle cx="417.73" cy="400.3" r="2.5"/><circle cx="418.47" cy="400.3" r="2.5"/><circle cx="419.2" cy="400.3" r="2.5"/><circle cx="419.93" cy="400.3" r="2.5"/><circle cx="420.67" cy="400.3" r="2.5"/><circle cx="421.4" cy="400.3" r="2.5"/><circle cx="422.13" cy="400.3" r="2.5"/><circle cx="422.87" cy="400.3" r="2.5"/><circle cx="423.6" cy="400.3" r="2.5"/><circle cx="424.33" cy="400.3" r="2.5"/><circle cx="425.07" cy="400.3" r="2.5"/><circle cx="425.8" cy="400.3" r="2.5"/><circle cx="426.53" cy="400.3" r="2.5"/><circle cx="427.27" cy="400.3" r="2.5"/><circle cx="428" cy="400.3" r="2.5"/><circle cx="428.73" cy="400.3" r="2.5"/><circle cx="429.47" cy="400.3" r="2.5"/><circle cx="430.2" cy="400.3" r="2.5"/><circle cx="430.93" cy="400.3" r="2.5"/><circle cx="431.67" cy="400.3" r="2.5"/><circle cx="432.4" cy="400.3" r="2.5"/><circle cx="433.13" cy="400.3" r="2.5"/><circle cx="433.87" cy="400.3" r="2.5"/><circle cx="434.6" cy="400.3" r="2.5"/><circle cx="435.33" cy="400.3" r="2.5"/><circle cx="436.07" cy="400.3" r="2.5"/><circle cx="436.8" cy="400.3" r="2.5"/><circle cx="437.53" cy="400.3" r="2.5"/><circle cx="438.27" cy="400.3" r="2.5"/><circle cx="439" cy="400.3" r="2.5"/><circle cx="439.73" cy="400.3" r="2.5"/><circle cx="440.47" cy="400.3" r="2.5"/><circle cx="441.2" cy="400.3" r="2.5"/><circle cx="441.93" cy="400.3" r="2.5"/><circle cx="442.67" cy="400.3" r="2.5"/><circle cx="443.4" cy="400.3" r="2.5"/><circle cx="444.13" cy="400.3" r="2.5"/><circle cx="444.87" cy="400.3" r="2.5"/><circle cx="445.6" cy="400.3" r="2.5"/><circle cx="446.33" cy="400.3" r="2.5"/><circle cx="447.07" cy="400.3" r="2.5"/><circle cx="447.8" cy="400.3" r="2.5"/><circle cx="448.53" cy="400.3" r="2.5"/><circle cx="449.27" cy="400.3" r="2.5"/><circle cx="450" cy="400.3" r="2.5"/><circle cx="450.73" cy="400.3" r="2.5"/><circle cx="451.47" cy="400.3" r="2.5"/><circle cx="452.2" cy="400.3" r="2.5"/><circle cx="452.93" cy="400.3" r="2.5"/><circle cx="453.67" cy="400.3" r="2.5"/><circle cx="454.4" cy="400.3" r="2.5"/><circle cx="455.13" cy="400.3" r="2.5"/><circle cx="455.87" cy="400.3" r="2.5"/><circle cx="456.6" cy="400.3" r="2.5"/><circle cx="457.33" cy="400.3" r="2.5"/><circle cx="458.07" cy="400.3" r="2.5"/><circle cx="458.8" cy="400.3" r="2.5"/><circle cx="459.53" cy="400.3" r="2.5"/><circle cx="460.27" cy="400.3" r="2.5"/><circle cx="461" cy="400.3" r="2.5"/><circle cx="461.73" cy="400.3" r="2.5"/><circle cx="462.47" cy="400.3" r="2.5"/><circle cx="463.2" cy="400.3" r="2.5"/><circle cx="463.93" cy="400.3" r="2.5"/><circle cx="464.67" cy="400.3" r="2.5"/><circle cx="465.4" cy="400.3" r="2.5"/><circle cx="466.13" cy="400.3" r="2.5"/><circle cx="466.87" cy="400.3" r="2.5"/><circle cx="467.6" cy="400.3" r="2.5"/><circle cx="468.33" cy="400.3" r="2.5"/><circle cx="469.07" cy="400.3" r="2.5"/><circle cx="469.8" cy="400.3" r="2.5"/><circle cx="470.53" cy="400.3" r="2.5"/><circle cx="471.27" cy="400.3" r="2.5"/><circle cx="472" cy="400.3" r="2.5"/><circle cx="472.73" cy="400.3" r="2.5"/><circle cx="473.47" cy="400.3" r="2.5"/><circle cx="474.2" cy="400.3" r="2.5"/><circle cx="474.93" cy="400.3" r="2.5"/><circle cx="475.67" cy="400.3" r="2.5"/><circle cx="476.4" cy="400.3" r="2.5"/><circle cx="477.13" cy="400.3" r="2.5"/><circle cx="477.87" cy="400.3" r="2.5"/><circle cx="478.6" cy="400.3" r="2.5"/><circle cx="479.33" cy="400.3" r="2.5"/><circle cx="480.07" cy="400.3" r="2.5"/><circle cx="480.8" cy="400.3" r="2.5"/><circle cx="481.53" cy="400.3" r="2.5"/><circle cx="482.27" cy="400.3" r="2.5"/><circle cx="483" cy="400.3" r="2.5"/><circle cx="483.73" cy="400.3" r="2.5"/><circle cx="484.47" cy="400.3" r="2.5"/><circle cx="485.2" cy="400.3" r="2.5"/><circle cx="485.93" cy="400.3" r="2.5"/><circle cx="486.67" cy="400.3" r="2.5"/><circle cx="487.4" cy="400.3" r="2.5"/><circle cx="488.13" cy="400.3" r="2.5"/><circle cx="488.87" cy="400.3" r="2.5"/><circle cx="489.6" cy="400.3" r="2.5"/><circle cx="490.33" cy="400.3" r="2.5"/><circle cx="491.07" cy="400.3" r="2.5"/><circle cx="491.8" cy="400.3" r="2.5"/><circle cx="492.53" cy="400.3" r="2.5"/><circle cx="493.27" cy="400.3" r="2.5"/><circle cx="494" cy="400.3" r="2.5"/><circle cx="494.73" cy="400.3" r="2.5"/><circle cx="495.47" cy="400.3" r="2.5"/><circle cx="496.2" cy="400.3" r="2.5"/><circle cx="496.93" cy="400.3" r="2.5"/><circle cx="497.67" cy="400.3" r="2.5"/><circle cx="498.4" cy="400.3" r="2.5"/><circle cx="499.13" cy="400.3" r="2.5"/><circle cx="499.87" cy="400.3" r="2.5"/><circle cx="500.6" cy="400.3" r="2.5"/><circle cx="501.33" cy="400.3" r="2.5"/><circle cx="502.07" cy="400.3" r="2.5"/><circle cx="502.8" cy="400.3" r="2.5"/></g></g><g opacity="0.4"><polyline points="63.53,198.38 64.27,181.76 65,165.79 65.73,153.65 66.47,153.01 67.2,160.68 67.93,168.98 68.67,188.15 69.4,207.32 70.13,230.33 70.87,253.33 71.6,276.33 72.33,303.17 73.07,337.32 73.8,356.16 74.53,371.79 75.27,383.97 76,392.65 76.73,397.96 77.47,400.18 78.2,399.73 78.93,397.17 79.67,392.99 80.4,387.75 81.13,381.95 81.87,376.07 82.6,370.54 83.33,365.69 84.07,361.8 84.8,359.04 85.53,357.51 86.27,357.22 87,358.11 87.73,360.06 88.47,362.91 89.2,366.47 89.93,370.52 90.67,374.84 91.4,379.22 92.13,383.48 92.87,387.45 93.6,390.99 94.33,394.01 95.07,396.45 95.8,398.27 96.53,399.49 97.27,400.14 98,400.29 98.73,400.01 99.47,399.39 100.2,398.52 100.93,397.51 101.67,396.44 102.4,395.39 103.13,394.44 103.87,393.64 104.6,393.03 105.33,392.64 106.07,392.47 106.8,392.53 107.53,392.79 108.27,393.23 109,393.81 109.73,394.51 110.47,395.27 111.2,396.07 111.93,396.86 112.67,397.61 113.4,398.29 114.13,398.89 114.87,399.39 115.6,399.78 116.33,400.05 117.07,400.22 117.8,400.3 118.53,400.28 119.27,400.2 120,400.06 120.73,399.89 121.47,399.7 122.2,399.5 122.93,399.32 123.67,399.16 124.4,399.03 125.13,398.94 125.87,398.89 126.6,398.88 127.33,398.91 128.07,398.97 128.8,399.06 129.53,399.18 130.27,399.31 131,399.46 131.73,399.6 132.47,399.74 133.2,399.87 133.93,399.99 134.67,400.09 135.4,400.17 136.13,400.23 136.87,400.27 137.6,400.29 138.33,400.3 139.07,400.29 139.8,400.27 140.53,400.24 141.27,400.21 142,400.17 142.73,400.14 143.47,400.11 144.2,400.08 144.93,400.06 145.67,400.05 146.4,400.04 147.13,400.04 147.87,400.05 148.6,400.07 149.33,400.09 150.07,400.11 150.8,400.13 151.53,400.16 152.27,400.19 153,400.21 153.73,400.23 154.47,400.25 155.2,400.27 155.93,400.28 156.67,400.29 157.4,400.3 158.13,400.3 158.87,400.3 159.6,400.3 160.33,400.29 161.07,400.29 161.8,400.28 162.53,400.27 163.27,400.27 164,400.26 164.73,400.26 165.47,400.26 166.2,400.25 166.93,400.25 167.67,400.25 168.4,400.26 169.13,400.26 169.87,400.26 170.6,400.27 171.33,400.27 172.07,400.28 172.8,400.28 173.53,400.29 174.27,400.29 175,400.29 175.73,400.3 176.47,400.3 177.2,400.3 177.93,400.3 178.67,400.3 179.4,400.3 180.13,400.3 180.87,400.3 181.6,400.3 182.33,400.3 183.07,400.29 183.8,400.29 184.53,400.29 185.27,400.29 186,400.29 186.73,400.29 187.47,400.29 188.2,400.29 188.93,400.29 189.67,400.29 190.4,400.29 191.13,400.29 191.87,400.3 192.6,400.3 193.33,400.3 194.07,400.3 194.8,400.3 195.53,400.3 196.27,400.3 197,400.3 197.73,400.3 198.47,400.3 199.2,400.3 199.93,400.3 200.67,400.3 201.4,400.3 202.13,400.3 202.87,400.3 203.6,400.3 204.33,400.3 205.07,400.3 205.8,400.3 206.53,400.3 207.27,400.3 208,400.3 208.73,400.3 209.47,400.3 210.2,400.3 210.93,400.3 211.67,400.3 212.4,400.3 213.13,400.3 213.87,400.3 214.6,400.3 215.33,400.3 216.07,400.3 216.8,400.3 217.53,400.3 218.27,400.3 219,400.3 219.73,400.3 220.47,400.3 221.2,400.3 221.93,400.3 222.67,400.3 223.4,400.3 224.13,400.3 224.87,400.3 225.6,400.3 226.33,400.3 227.07,400.3 227.8,400.3 228.53,400.3 229.27,400.3 230,400.3 230.73,400.3 231.47,400.3 232.2,400.3 232.93,400.3 233.67,400.3 234.4,400.3 235.13,400.3 235.87,400.3 236.6,400.3 237.33,400.3 238.07,400.3 238.8,400.3 239.53,400.3 240.27,400.3 241,400.3 241.73,400.3 242.47,400.3 243.2,400.3 243.93,400.3 244.67,400.3 245.4,400.3 246.13,400.3 246.87,400.3 247.6,400.3 248.33,400.3 249.07,400.3 249.8,400.3 250.53,400.3 251.27,400.3 252,400.3 252.73,400.3 253.47,400.3 254.2,400.3 254.93,400.3 255.67,400.3 256.4,400.3 257.13,400.3 257.87,400.3 258.6,400.3 259.33,400.3 260.07,400.3 260.8,400.3 261.53,400.3 262.27,400.3 263,400.3 263.73,400.3 264.47,400.3 265.2,400.3 265.93,400.3 266.67,400.3 267.4,400.3 268.13,400.3 268.87,400.3 269.6,400.3 270.33,400.3 271.07,400.3 271.8,400.3 272.53,400.3 273.27,400.3 274,400.3 274.73,400.3 275.47,400.3 276.2,400.3 276.93,400.3 277.67,400.3 278.4,400.3 279.13,400.3 279.87,400.3 280.6,400.3 281.33,400.3 282.07,400.3 282.8,400.3 283.53,400.3 284.27,400.3 285,400.3 285.73,400.3 286.47,400.3 287.2,400.3 287.93,400.3 288.67,400.3 289.4,400.3 290.13,400.3 290.87,400.3 291.6,400.3 292.33,400.3 293.07,400.3 293.8,400.3 294.53,400.3 295.27,400.3 296,400.3 296.73,400.3 297.47,400.3 298.2,400.3 298.93,400.3 299.67,400.3 300.4,400.3 301.13,400.3 301.87,400.3 302.6,400.3 303.33,400.3 304.07,400.3 304.8,400.3 305.53,400.3 306.27,400.3 307,400.3 307.73,400.3 308.47,400.3 309.2,400.3 309.93,400.3 310.67,400.3 311.4,400.3 312.13,400.3 312.87,400.3 313.6,400.3 314.33,400.3 315.07,400.3 315.8,400.3 316.53,400.3 317.27,400.3 318,400.3 318.73,400.3 319.47,400.3 320.2,400.3 320.93,400.3 321.67,400.3 322.4,400.3 323.13,400.3 323.87,400.3 324.6,400.3 325.33,400.3 326.07,400.3 326.8,400.3 327.53,400.3 328.27,400.3 329,400.3 329.73,400.3 330.47,400.3 331.2,400.3 331.93,400.3 332.67,400.3 333.4,400.3 334.13,400.3 334.87,400.3 335.6,400.3 336.33,400.3 337.07,400.3 337.8,400.3 338.53,400.3 339.27,400.3 340,400.3 340.73,400.3 341.47,400.3 342.2,400.3 342.93,400.3 343.67,400.3 344.4,400.3 345.13,400.3 345.87,400.3 346.6,400.3 347.33,400.3 348.07,400.3 348.8,400.3 349.53,400.3 350.27,400.3 351,400.3 351.73,400.3 352.47,400.3 353.2,400.3 353.93,400.3 354.67,400.3 355.4,400.3 356.13,400.3 356.87,400.3 357.6,400.3 358.33,400.3 359.07,400.3 359.8,400.3 360.53,400.3 361.27,400.3 362,400.3 362.73,400.3 363.47,400.3 364.2,400.3 364.93,400.3 365.67,400.3 366.4,400.3 367.13,400.3 367.87,400.3 368.6,400.3 369.33,400.3 370.07,400.3 370.8,400.3 371.53,400.3 372.27,400.3 373,400.3 373.73,400.3 374.47,400.3 375.2,400.3 375.93,400.3 376.67,400.3 377.4,400.3 378.13,400.3 378.87,400.3 379.6,400.3 380.33,400.3 381.07,400.3 381.8,400.3 382.53,400.3 383.27,400.3 384,400.3 384.73,400.3 385.47,400.3 386.2,400.3 386.93,400.3 387.67,400.3 388.4,400.3 389.13,400.3 389.87,400.3 390.6,400.3 391.33,400.3 392.07,400.3 392.8,400.3 393.53,400.3 394.27,400.3 395,400.3 395.73,400.3 396.47,400.3 397.2,400.3 397.93,400.3 398.67,400.3 399.4,400.3 400.13,400.3 400.87,400.3 401.6,400.3 402.33,400.3 403.07,400.3 403.8,400.3 404.53,400.3 405.27,400.3 406,400.3 406.73,400.3 407.47,400.3 408.2,400.3 408.93,400.3 409.67,400.3 410.4,400.3 411.13,400.3 411.87,400.3 412.6,400.3 413.33,400.3 414.07,400.3 414.8,400.3 415.53,400.3 416.27,400.3 417,400.3 417.73,400.3 418.47,400.3 419.2,400.3 419.93,400.3 420.67,400.3 421.4,400.3 422.13,400.3 422.87,400.3 423.6,400.3 424.33,400.3 425.07,400.3 425.8,400.3 426.53,400.3 427.27,400.3 428,400.3 428.73,400.3 429.47,400.3 430.2,400.3 430.93,400.3 431.67,400.3 432.4,400.3 433.13,400.3 433.87,400.3 434.6,400.3 435.33,400.3 436.07,400.3 436.8,400.3 437.53,400.3 438.27,400.3 439,400.3 439.73,400.3 440.47,400.3 441.2,400.3 441.93,400.3 442.67,400.3 443.4,400.3 444.13,400.3 444.87,400.3 445.6,400.3 446.33,400.3 447.07,400.3 447.8,400.3 448.53,400.3 449.27,400.3 450,400.3 450.73,400.3 451.47,400.3 452.2,400.3 452.93,400.3 453.67,400.3 454.4,400.3 455.13,400.3 455.87,400.3 456.6,400.3 457.33,400.3 458.07,400.3 458.8,400.3 459.53,400.3 460.27,400.3 461,400.3 461.73,400.3 462.47,400.3 463.2,400.3 463.93,400.3 464.67,400.3 465.4,400.3 466.13,400.3 466.87,400.3 467.6,400.3 468.33,400.3 469.07,400.3 469.8,400.3 470.53,400.3 471.27,400.3 472,400.3 472.73,400.3 473.47,400.3 474.2,400.3 474.93,400.3 475.67,400.3 476.4,400.3 477.13,400.3 477.87,400.3 478.6,400.3 479.33,400.3 480.07,400.3 480.8,400.3 481.53,400.3 482.27,400.3 483,400.3 483.73,400.3 484.47,400.3 485.2,400.3 485.93,400.3 486.67,400.3 487.4,400.3 488.13,400.3 488.87,400.3 489.6,400.3 490.33,400.3 491.07,400.3 491.8,400.3 492.53,400.3 493.27,400.3 494,400.3 494.73,400.3 495.47,400.3 496.2,400.3 496.93,400.3 497.67,400.3 498.4,400.3 499.13,400.3 499.87,400.3 500.6,400.3 501.33,400.3 502.07,400.3 502.8,400.3" fill="none" stroke="#008000" stroke-width="0.9"/><path d="M61.53 198.38h4M63.53 196.38v4M62.27 181.76h4M64.27 179.76v4M63 165.79h4M65 163.79v4M63.73 153.65h4M65.73 151.65v4M64.47 153.01h4M66.47 151.01v4M65.2 160.68h4M67.2 158.68v4M65.93 168.98h4M67.93 166.98v4M66.67 188.15h4M68.67 186.15v4M67.4 207.32h4M69.4 205.32v4M68.13 230.33h4M70.13 228.33v4M68.87 253.33h4M70.87 251.33v4M69.6 276.33h4M71.6 274.33v4M70.33 303.17h4M72.33 301.17v4M71.07 337.32h4M73.07 335.32v4M71.8 356.16h4M73.8 354.16v4M72.53 371.79h4M74.53 369.79v4M73.27 383.97h4M75.27 381.97v4M74 392.65h4M76 390.65v4M74.73 397.96h4M76.73 395.96v4M75.47 400.18h4M77.47 398.18v4M76.2 399.73h4M78.2 397.73v4M76.93 397.17h4M78.93 395.17v4M77.67 392.99h4M79.67 390.99v4M78.4 387.75h4M80.4 385.75v4M79.13 381.95h4M81.13 379.95v4M79.87 376.07h4M81.87 374.07v4M80.6 370.54h4M82.6 368.54v4M81.33 365.69h4M83.33 363.69v4M82.07 361.8h4M84.07 359.8v4M82.8 359.04h4M84.8 357.04v4M83.53 357.51h4M85.53 355.51v4M84.27 357.22h4M86.27 355.22v4M85 358.11h4M87 356.11v4M85.73 360.06h4M87.73 358.06v4M86.47 362.91h4M88.47 360.91v4M87.2 366.47h4M89.2 364.47v4M87.93 370.52h4M89.93 368.52v4M88.67 374.84h4M90.67 372.84v4M89.4 379.22h4M91.4 377.22v4M90.13 383.48h4M92.13 381.48v4M90.87 387.45h4M92.87 385.45v4M91.6 390.99h4M93.6 388.99v4M92.33 394.01h4M94.33 392.01v4M93.07 396.45h4M95.07 394.45v4M93.8 398.27h4M95.8 396.27v4M94.53 399.49h4M96.53 397.49v4M95.27 400.14h4M97.27 398.14v4M96 400.29h4M98 398.29v4M96.73 400.01h4M98.73 398.01v4M97.47 399.39h4M99.47 397.39v4M98.2 398.52h4M100.2 396.52v4M98.93 397.51h4M100.93 395.51v4M99.67 396.44h4M101.67 394.44v4M100.4 395.39h4M102.4 393.39v4M101.13 394.44h4M103.13 392.44v4M101.87 393.64h4M103.87 391.64v4M102.6 393.03h4M104.6 391.03v4M103.33 392.64h4M105.33 390.64v4M104.07 392.47h4M106.07 390.47v4M104.8 392.53h4M106.8 390.53v4M105.53 392.79h4M107.53 390.79v4M106.27 393.23h4M108.27 391.23v4M107 393.81h4M109 391.81v4M107.73 394.51h4M109.73 392.51v4M108.47 395.27h4M110.47 393.27v4M109.2 396.07h4M111.2 394.07v4M109.93 396.86h4M111.93 394.86v4M110.67 397.61h4M112.67 395.61v4M111.4 398.29h4M113.4 396.29v4M112.13 398.89h4M114.13 396.89v4M112.87 399.39h4M114.87 397.39v4M113.6 399.78h4M115.6 397.78v4M114.33 400.05h4M116.33 398.05v4M115.07 400.22h4M117.07 398.22v4M115.8 400.3h4M116.53 400.28h4M117.27 400.2h4M118 400.06h4M118.73 399.89h4M119.47 399.7h4M120.2 399.5h4M120.93 399.32h4M121.67 399.16h4M122.4 399.03h4M123.13 398.94h4M123.87 398.89h4M124.6 398.88h4M125.33 398.91h4M126.07 398.97h4M126.8 399.06h4M127.53 399.18h4M128.27 399.31h4M129 399.46h4M129.73 399.6h4M130.47 399.74h4M131.2 399.87h4M131.93 399.99h4M132.67 400.09h4M133.4 400.17h4M134.13 400.23h4M134.87 400.27h4M135.6 400.29h4M136.33 400.3h4M137.07 400.29h4M137.8 400.27h4M138.53 400.24h4M139.27 400.21h4M140 400.17h4M140.73 400.14h4M141.47 400.11h4M142.2 400.08h4M142.93 400.06h4M143.67 400.05h4M144.4 400.04h4M145.13 400.04h4M145.87 400.05h4M146.6 400.07h4M147.33 400.09h4M148.07 400.11h4M148.8 400.13h4M149.53 400.16h4M150.27 400.19h4M151 400.21h4M151.73 400.23h4M152.47 400.25h4M153.2 400.27h4M153.93 400.28h4M154.67 400.29h4M155.4 400.3h4M156.13 400.3h4M156.87 400.3h4M157.6 400.3h4M158.33 400.29h4M159.07 400.29h4M159.8 400.28h4M160.53 400.27h4M161.27 400.27h4M162 400.26h4M162.73 400.26h4M163.47 400.26h4M164.2 400.25h4M164.93 400.25h4M165.67 400.25h4M166.4 400.26h4M167.13 400.26h4M167.87 400.26h4M168.6 400.27h4M169.33 400.27h4M170.07 400.28h4M170.8 400.28h4M171.53 400.29h4M172.27 400.29h4M173 400.29h4M173.73 400.3h4M174.47 400.3h4M175.2 400.3h4M175.93 400.3h4M176.67 400.3h4M177.4 400.3h4M178.13 400.3h4M178.87 400.3h4M179.6 400.3h4M180.33 400.3h4M181.07 400.29h4M181.8 400.29h4M182.53 400.29h4M183.27 400.29h4M184 400.29h4M184.73 400.29h4M185.47 400.29h4M186.2 400.29h4M186.93 400.29h4M187.67 400.29h4M188.4 400.29h4M189.13 400.29h4M189.87 400.3h4M190.6 400.3h4M191.33 400.3h4M192.07 400.3h4M192.8 400.3h4M193.53 400.3h4M194.27 400.3h4M195 400.3h4M195.73 400.3h4M196.47 400.3h4M197.2 400.3h4M197.93 400.3h4M198.67 400.3h4M199.4 400.3h4M200.13 400.3h4M200.87 400.3h4M201.6 400.3h4M202.33 400.3h4M203.07 400.3h4M203.8 400.3h4M204.53 400.3h4M205.27 400.3h4M206 400.3h4M206.73 400.3h4M207.47 400.3h4M208.2 400.3h4M208.93 400.3h4M209.67 400.3h4M210.4 400.3h4M211.13 400.3h4M211.87 400.3h4M212.6 400.3h4M213.33 400.3h4M214.07 400.3h4M214.8 400.3h4M215.53 400.3h4M216.27 400.3h4M217 400.3h4M217.73 400.3h4M218.47 400.3h4M219.2 400.3h4M219.93 400.3h4M220.67 400.3h4M221.4 400.3h4M222.13 400.3h4M222.87 400.3h4M223.6 400.3h4M224.33 400.3h4M225.07 400.3h4M225.8 400.3h4M226.53 400.3h4M227.27 400.3h4M228 400.3h4M228.73 400.3h4M229.47 400.3h4M230.2 400.3h4M230.93 400.3h4M231.67 400.3h4M232.4 400.3h4M233.13 400.3h4M233.87 400.3h4M234.6 400.3h4M235.33 400.3h4M236.07 400.3h4M236.8 400.3h4M237.53 400.3h4M238.27 400.3h4M239 400.3h4M239.73 400.3h4M240.47 400.3h4M241.2 400.3h4M241.93 400.3h4M242.67 400.3h4M243.4 400.3h4M244.13 400.3h4M244.87 400.3h4M245.6 400.3h4M246.33 400.3h4M247.07 400.3h4M247.8 400.3h4M248.53 400.3h4M249.27 400.3h4M250 400.3h4M250.73 400.3h4M251.47 400.3h4M252.2 400.3h4M252.93 400.3h4M253.67 400.3h4M254.4 400.3h4M255.13 400.3h4M255.87 400.3h4M256.6 400.3h4M257.33 400.3h4M258.07 400.3h4M258.8 400.3h4M259.53 400.3h4M260.27 400.3h4M261 400.3h4M261.73 400.3h4M262.47 400.3h4M263.2 400.3h4M263.93 400.3h4M264.67 400.3h4M265.4 400.3h4M266.13 400.3h4M266.87 400.3h4M267.6 400.3h4M268.33 400.3h4M269.07 400.3h4M269.8 400.3h4M270.53 400.3h4M271.27 400.3h4M272 400.3h4M272.73 400.3h4M273.47 400.3h4M274.2 400.3h4M274.93 400.3h4M275.67 400.3h4M276.4 400.3h4M277.13 400.3h4M277.87 400.3h4M278.6 400.3h4M279.33 400.3h4M280.07 400.3h4M280.8 400.3h4M281.53 400.3h4M282.27 400.3h4M283 400.3h4M283.73 400.3h4M284.47 400.3h4M285.2 400.3h4M285.93 400.3h4M286.67 400.3h4M287.4 400.3h4M288.13 400.3h4M288.87 400.3h4M289.6 400.3h4M290.33 400.3h4M291.07 400.3h4M291.8 400.3h4M292.53 400.3h4M293.27 400.3h4M294 400.3h4M294.73 400.3h4M295.47 400.3h4M296.2 400.3h4M296.93 400.3h4M297.67 400.3h4M298.4 400.3h4M299.13 400.3h4M299.87 400.3h4M300.6 400.3h4M301.33 400.3h4M302.07 400.3h4M302.8 400.3h4M303.53 400.3h4M304.27 400.3h4M305 400.3h4M305.73 400.3h4M306.47 400.3h4M307.2 400.3h4M307.93 400.3h4M308.67 400.3h4M309.4 400.3h4M310.13 400.3h4M310.87 400.3h4M311.6 400.3h4M312.33 400.3h4M313.07 400.3h4M313.8 400.3h4M314.53 400.3h4M315.27 400.3h4M316 400.3h4M316.73 400.3h4M317.47 400.3h4M318.2 400.3h4M318.93 400.3h4M319.67 400.3h4M320.4 400.3h4M321.13 400.3h4M321.87 400.3h4M322.6 400.3h4M323.33 400.3h4M324.07 400.3h4M324.8 400.3h4M325.53 400.3h4M326.27 400.3h4M327 400.3h4M327.73 400.3h4M328.47 400.3h4M329.2 400.3h4M329.93 400.3h4M330.67 400.3h4M331.4 400.3h4M332.13 400.3h4M332.87 400.3h4M333.6 400.3h4M334.33 400.3h4M335.07 400.3h4M335.8 400.3h4M336.53 400.3h4M337.27 400.3h4M338 400.3h4M338.73 400.3h4M339.47 400.3h4M340.2 400.3h4M340.93 400.3h4M341.67 400.3h4M342.4 400.3h4M343.13 400.3h4M343.87 400.3h4M344.6 400.3h4M345.33 400.3h4M346.07 400.3h4M346.8 400.3h4M347.53 400.3h4M348.27 400.3h4M349 400.3h4M349.73 400.3h4M350.47 400.3h4M351.2 400.3h4M351.93 400.3h4M352.67 400.3h4M353.4 400.3h4M354.13 400.3h4M354.87 400.3h4M355.6 400.3h4M356.33 400.3h4M357.07 400.3h4M357.8 400.3h4M358.53 400.3h4M359.27 400.3h4M360 400.3h4M360.73 400.3h4M361.47 400.3h4M362.2 400.3h4M362.93 400.3h4M363.67 400.3h4M364.4 400.3h4M365.13 400.3h4M365.87 400.3h4M366.6 400.3h4M367.33 400.3h4M368.07 400.3h4M368.8 400.3h4M369.53 400.3h4M370.27 400.3h4M371 400.3h4M371.73 400.3h4M372.47 400.3h4M373.2 400.3h4M373.93 400.3h4M374.67 400.3h4M375.4 400.3h4M376.13 400.3h4M376.87 400.3h4M377.6 400.3h4M378.33 400.3h4M379.07 400.3h4M379.8 400.3h4M380.53 400.3h4M381.27 400.3h4M382 400.3h4M382.73 400.3h4M383.47 400.3h4M384.2 400.3h4M384.93 400.3h4M385.67 400.3h4M386.4 400.3h4M387.13 400.3h4M387.87 400.3h4M388.6 400.3h4M389.33 400.3h4M390.07 400.3h4M390.8 400.3h4M391.53 400.3h4M392.27 400.3h4M393 400.3h4M393.73 400.3h4M394.47 400.3h4M395.2 400.3h4M395.93 400.3h4M396.67 400.3h4M397.4 400.3h4M398.13 400.3h4M398.87 400.3h4M399.6 400.3h4M400.33 400.3h4M401.07 400.3h4M401.8 400.3h4M402.53 400.3h4M403.27 400.3h4M404 400.3h4M404.73 400.3h4M405.47 400.3h4M406.2 400.3h4M406.93 400.3h4M407.67 400.3h4M408.4 400.3h4M409.13 400.3h4M409.87 400.3h4M410.6 400.3h4M411.33 400.3h4M412.07 400.3h4M412.8 400.3h4M413.53 400.3h4M414.27 400.3h4M415 400.3h4M415.73 400.3h4M416.47 400.3h4M417.2 400.3h4M417.93 400.3h4M418.67 400.3h4M419.4 400.3h4M420.13 400.3h4M420.87 400.3h4M421.6 400.3h4M422.33 400.3h4M423.07 400.3h4M423.8 400.3h4M424.53 400.3h4M425.27 400.3h4M426 400.3h4M426.73 400.3h4M427.47 400.3h4M428.2 400.3h4M428.93 400.3h4M429.67 400.3h4M430.4 400.3h4M431.13 400.3h4M431.87 400.3h4M432.6 400.3h4M433.33 400.3h4M434.07 400.3h4M434.8 400.3h4M435.53 400.3h4M436.27 400.3h4M437 400.3h4M437.73 400.3h4M438.47 400.3h4M439.2 400.3h4M439.93 400.3h4M440.67 400.3h4M441.4 400.3h4M442.13 400.3h4M442.87 400.3h4M443.6 400.3h4M444.33 400.3h4M445.07 400.3h4M445.8 400.3h4M446.53 400.3h4M447.27 400.3h4M448 400.3h4M448.73 400.3h4M449.47 400.3h4M450.2 400.3h4M450.93 400.3h4M451.67 400.3h4M452.4 400.3h4M453.13 400.3h4M453.87 400.3h4M454.6 400.3h4M455.33 400.3h4M456.07 400.3h4M456.8 400.3h4M457.53 400.3h4M458.27 400.3h4M459 400.3h4M459.73 400.3h4M460.47 400.3h4M461.2 400.3h4M461.93 400.3h4M462.67 400.3h4M463.4 400.3h4M464.13 400.3h4M464.87 400.3h4M465.6 400.3h4M466.33 400.3h4M467.07 400.3h4M467.8 400.3h4M468.53 400.3h4M469.27 400.3h4M470 400.3h4M470.73 400.3h4M471.47 400.3h4M472.2 400.3h4M472.93 400.3h4M473.67 400.3h4M474.4 400.3h4M475.13 400.3h4M475.87 400.3h4M476.6 400.3h4M477.33 400.3h4M478.07 400.3h4M478.8 400.3h4M479.53 400.3h4M480.27 400.3h4M481 400.3h4M481.73 400.3h4M482.47 400.3h4M483.2 400.3h4M483.93 400.3h4M484.67 400.3h4M485.4 400.3h4M486.13 400.3h4M486.87 400.3h4M487.6 400.3h4M488.33 400.3h4M489.07 400.3h4M489.8 400.3h4M490.53 400.3h4M491.27 400.3h4M492 400.3h4M492.73 400.3h4M493.47 400.3h4M494.2 400.3h4M494.93 400.3h4M495.67 400.3h4M496.4 400.3h4M497.13 400.3h4M497.87 400.3h4M498.6 400.3h4M499.33 400.3h4M500.07 400.3h4M500.8 400.3h4" stroke="#008000" stroke-width="0.6" fill="none"/></g></g><line x1="62.8" y1="16.9" x2="62.8" y2="22.1" stroke="#b4b4b4" stroke-width="1"/><line x1="62.8" y1="400.3" x2="62.8" y2="395.1" stroke="#b4b4b4" stroke-width="1"/><line x1="136.13" y1="16.9" x2="136.13" y2="22.1" stroke="#b4b4b4" stroke-width="1"/><line x1="136.13" y1="400.3" x2="136.13" y2="395.1" stroke="#b4b4b4" stroke-width="1"/><line x1="209.47" y1="16.9" x2="209.47" y2="22.1" stroke="#b4b4b4" stroke-width="1"/><line x1="209.47" y1="400.3" x2="209.47" y2="395.1" stroke="#b4b4b4" stroke-width="1"/><line x1="282.8" y1="16.9" x2="282.8" y2="22.1" stroke="#b4b4b4" stroke-width="1"/><line x1="282.8" y1="400.3" x2="282.8" y2="395.1" stroke="#b4b4b4" stroke-width="1"/><line x1="356.13" y1="16.9" x2="356.13" y2="22.1" stroke="#b4b4b4" stroke-width="1"/><line x1="356.13" y1="400.3" x2="356.13" y2="395.1" stroke="#b4b4b4" stroke-width="1"/><line x1="429.47" y1="16.9" x2="429.47" y2="22.1" stroke="#b4b4b4" stroke-width="1"/><line x1="429.47" y1="400.3" x2="429.47" y2="395.1" stroke="#b4b4b4" stroke-width="1"/><line x1="502.8" y1="16.9" x2="502.8" y2="22.1" stroke="#b4b4b4" stroke-width="1"/><line x1="502.8" y1="400.3" x2="502.8" y2="395.1" stroke="#b4b4b4" stroke-width="1"/><line x1="62.8" y1="400.3" x2="68" y2="400.3" stroke="#b4b4b4" stroke-width="1"/><line x1="502.8" y1="400.3" x2="497.6" y2="400.3" stroke="#b4b4b4" stroke-width="1"/><line x1="62.8" y1="336.4" x2="68" y2="336.4" stroke="#b4b4b4" stroke-width="1"/><line x1="502.8" y1="336.4" x2="497.6" y2="336.4" stroke="#b4b4b4" stroke-width="1"/><line x1="62.8" y1="272.5" x2="68" y2="272.5" stroke="#b4b4b4" stroke-width="1"/><line x1="502.8" y1="272.5" x2="497.6" y2="272.5" stroke="#b4b4b4" stroke-width="1"/><line x1="62.8" y1="208.6" x2="68" y2="208.6" stroke="#b4b4b4" stroke-width="1"/><line x1="502.8" y1="208.6" x2="497.6" y2="208.6" stroke="#b4b4b4" stroke-width="1"/><line x1="62.8" y1="144.7" x2="68" y2="144.7" stroke="#b4b4b4" stroke-width="1"/><line x1="502.8" y1="144.7" x2="497.6" y2="144.7" stroke="#b4b4b4" stroke-width="1"/><line x1="62.8" y1="80.8" x2="68" y2="80.8" stroke="#b4b4b4" stroke-width="1"/><line x1="502.8" y1="80.8" x2="497.6" y2="80.8" stroke="#b4b4b4" stroke-width="1"/><line x1="62.8" y1="16.9" x2="68" y2="16.9" stroke="#b4b4b4" stroke-width="1"/><line x1="502.8" y1="16.9" x2="497.6" y2="16.9" stroke="#b4b4b4" stroke-width="1"/><g font-family="'Liberation Sans', Arial, sans-serif" font-size="17.6" fill="#000"><text x="57.2" y="405.7" text-anchor="end">0</text><text x="57.2" y="341.8" text-anchor="end">100</text><text x="57.2" y="277.9" text-anchor="end">200</text><text x="57.2" y="214" text-anchor="end">300</text><text x="57.2" y="150.1" text-anchor="end">400</text><text x="57.2" y="86.2" text-anchor="end">500</text><text x="57.2" y="22.3" text-anchor="end">600</text><text x="62.8" y="420.5" text-anchor="middle">0</text><text x="136.13" y="420.5" text-anchor="middle">100</text><text x="209.47" y="420.5" text-anchor="middle">200</text><text x="282.8" y="420.5" text-anchor="middle">300</text><text x="356.13" y="420.5" text-anchor="middle">400</text><text x="429.47" y="420.5" text-anchor="middle">500</text><text x="502.8" y="420.5" text-anchor="middle">600</text></g><text x="281.3" y="443.9" text-anchor="middle" font-family="'Liberation Sans', Arial, sans-serif" font-size="18" font-weight="bold">Time after measurement starts (hour)</text><text transform="translate(18.7,215.8) rotate(-90)" text-anchor="middle" font-family="'Liberation Sans', Arial, sans-serif" font-size="18" font-weight="bold">number of new pers</text><rect x="111.2" y="37.4" width="98.5" height="117.4" fill="#fff" stroke="#c6c6c6" stroke-width="1"/><clipPath id="c1"><rect x="111.2" y="37.4" width="98.5" height="117.4"/></clipPath><clipPath id="c1b"><rect x="105.2" y="31.4" width="110.5" height="129.4"/></clipPath><rect x="111.2" y="37.4" width="98.5" height="117.4" fill="none" stroke="#c6c6c6" stroke-width="1"/><g clip-path="url(#c1)"><polyline points="116.4,45.62 122.65,94.63 128.9,143.65 135.15,139.54 141.4,135.14 147.65,63.82 153.9,59.71 160.15,47.38 166.4,89.06 172.65,106.08 178.9,119.58 185.15,133.96 191.4,151.28 197.65,181.22 203.9,192.96 210.15,194.72 216.4,191.49" fill="none" stroke="#808080" stroke-width="3.2" stroke-linejoin="round"/></g><g clip-path="url(#c1)"><polyline points="116.4,49.14 122.65,112.83 128.9,129.56 135.15,128.39 141.4,109.89 147.65,84.95 153.9,57.95 160.15,52.08 166.4,71.45 172.65,103.73 178.9,126.04 185.15,151.87 191.4,165.07 197.65,173 203.9,177.69 210.15,180.63 216.4,183.27" fill="none" stroke="#ff0000" stroke-width="3.2" stroke-linejoin="round"/></g><g clip-path="url(#c1b)"><g fill="#ff0000"><circle cx="116.4" cy="49.14" r="2.1"/><circle cx="122.65" cy="112.83" r="2.1"/><circle cx="128.9" cy="129.56" r="2.1"/><circle cx="135.15" cy="128.39" r="2.1"/><circle cx="141.4" cy="109.89" r="2.1"/><circle cx="147.65" cy="84.95" r="2.1"/><circle cx="153.9" cy="57.95" r="2.1"/><circle cx="160.15" cy="52.08" r="2.1"/><circle cx="166.4" cy="71.45" r="2.1"/><circle cx="172.65" cy="103.73" r="2.1"/><circle cx="178.9" cy="126.04" r="2.1"/><circle cx="185.15" cy="151.87" r="2.1"/></g></g><g clip-path="url(#c1)"><polyline points="116.4,67.37 122.65,77.92 128.9,87.63 135.15,96.56 141.4,104.77 147.65,112.32 153.9,119.27 160.15,125.65 166.4,131.53 172.65,136.93 178.9,141.9 185.15,146.47 191.4,150.68 197.65,154.54 203.9,158.1 210.15,161.37 216.4,164.38" fill="none" stroke="#0000ff" stroke-width="3.2" stroke-linejoin="round"/></g><g clip-path="url(#c1b)"><g fill="none" stroke="#0000ff" stroke-width="3.0"><circle cx="116.4" cy="67.37" r="2.55"/><circle cx="122.65" cy="77.92" r="2.55"/><circle cx="128.9" cy="87.63" r="2.55"/><circle cx="135.15" cy="96.56" r="2.55"/><circle cx="141.4" cy="104.77" r="2.55"/><circle cx="147.65" cy="112.32" r="2.55"/><circle cx="153.9" cy="119.27" r="2.55"/><circle cx="160.15" cy="125.65" r="2.55"/><circle cx="166.4" cy="131.53" r="2.55"/><circle cx="172.65" cy="136.93" r="2.55"/><circle cx="178.9" cy="141.9" r="2.55"/><circle cx="185.15" cy="146.47" r="2.55"/><circle cx="191.4" cy="150.68" r="2.55"/><circle cx="197.65" cy="154.54" r="2.55"/></g></g><g clip-path="url(#c1)"><polyline points="116.4,106.08 122.65,98.45 128.9,91.11 135.15,85.53 141.4,85.24 147.65,88.76 153.9,92.58 160.15,101.38 166.4,110.19 172.65,120.75 178.9,131.32 185.15,141.89 191.4,154.21 197.65,169.9 203.9,178.55 210.15,185.73 216.4,191.32" fill="none" stroke="#008000" stroke-width="3.2" stroke-linejoin="round"/></g><g clip-path="url(#c1b)"><g fill="#008000"><circle cx="116.4" cy="106.08" r="2.6"/><circle cx="122.65" cy="98.45" r="2.6"/><circle cx="128.9" cy="91.11" r="2.6"/><circle cx="135.15" cy="85.53" r="2.6"/><circle cx="141.4" cy="85.24" r="2.6"/><circle cx="147.65" cy="88.76" r="2.6"/><circle cx="153.9" cy="92.58" r="2.6"/><circle cx="160.15" cy="101.38" r="2.6"/><circle cx="166.4" cy="110.19" r="2.6"/><circle cx="172.65" cy="120.75" r="2.6"/><circle cx="178.9" cy="131.32" r="2.6"/><circle cx="185.15" cy="141.89" r="2.6"/><circle cx="191.4" cy="154.21" r="2.6"/></g></g><line x1="111.2" y1="37.4" x2="111.2" y2="39.4" stroke="#b4b4b4" stroke-width="1"/><line x1="111.2" y1="154.8" x2="111.2" y2="152.8" stroke="#b4b4b4" stroke-width="1"/><line x1="160.45" y1="37.4" x2="160.45" y2="39.4" stroke="#b4b4b4" stroke-width="1"/><line x1="160.45" y1="154.8" x2="160.45" y2="152.8" stroke="#b4b4b4" stroke-width="1"/><line x1="209.7" y1="37.4" x2="209.7" y2="39.4" stroke="#b4b4b4" stroke-width="1"/><line x1="209.7" y1="154.8" x2="209.7" y2="152.8" stroke="#b4b4b4" stroke-width="1"/><line x1="111.2" y1="154.8" x2="113.2" y2="154.8" stroke="#b4b4b4" stroke-width="1"/><line x1="209.7" y1="154.8" x2="207.7" y2="154.8" stroke="#b4b4b4" stroke-width="1"/><line x1="111.2" y1="96.1" x2="113.2" y2="96.1" stroke="#b4b4b4" stroke-width="1"/><line x1="209.7" y1="96.1" x2="207.7" y2="96.1" stroke="#b4b4b4" stroke-width="1"/><line x1="111.2" y1="37.4" x2="113.2" y2="37.4" stroke="#b4b4b4" stroke-width="1"/><line x1="209.7" y1="37.4" x2="207.7" y2="37.4" stroke="#b4b4b4" stroke-width="1"/><g font-family="'Liberation Sans', Arial, sans-serif" font-size="17.6" fill="#000"><text x="105.6" y="160.2" text-anchor="end">150</text><text x="105.6" y="101.5" text-anchor="end">350</text><text x="105.6" y="42.8" text-anchor="end">550</text><text x="111.2" y="175" text-anchor="middle">0</text><text x="160.45" y="175" text-anchor="middle">8</text><text x="209.7" y="175" text-anchor="middle">16</text></g><rect x="248.5" y="35.9" width="237.7" height="116.4" fill="#fff" stroke="#c6c6c6" stroke-width="1"/><clipPath id="c2"><rect x="248.5" y="35.9" width="237.7" height="116.4"/></clipPath><clipPath id="c2b"><rect x="242.5" y="29.9" width="249.7" height="128.4"/></clipPath><rect x="248.5" y="35.9" width="237.7" height="116.4" fill="none" stroke="#c6c6c6" stroke-width="1"/><g clip-path="url(#c2)"><polyline points="246.12,115.17 248.5,71.93 250.88,50.31 253.25,33.74 255.63,122.38 258.01,111.57 260.38,129.59 262.76,136.79 265.14,136.79 267.52,129.59 269.89,136.79 272.27,136.79 274.65,122.38 277.02,111.57 279.4,86.35 281.78,48.15 284.15,93.55 286.53,61.84 288.91,28.69 291.29,93.55 293.66,71.93 296.04,86.35 298.42,77.7 300.79,85.63 303.17,79.14 305.55,28.69 307.93,84.18 310.3,93.55 312.68,122.38 315.06,136.07 317.43,115.17 319.81,115.89 322.19,122.38 324.56,120.22 326.94,92.11 329.32,117.34 331.69,125.26 334.07,115.17 336.45,115.17 338.83,136.79 341.2,122.38 343.58,107.97 345.96,128.15 348.33,117.34 350.71,125.26 353.09,125.26 355.47,136.07 357.84,120.94 360.22,129.59 362.6,136.07 364.97,123.82 367.35,132.11 369.73,122.38 372.1,134.63 374.48,120.94 376.86,125.26 379.24,134.85 381.61,137.15 383.99,122.38 386.37,123.82 388.74,71.21 391.12,136.79 393.5,126.7 395.87,120.94 398.25,137.51 400.63,115.17 403,90.67 405.38,64.73 407.76,107.25 410.14,137.51 412.51,108.69 414.89,137.51 417.27,131.03 419.64,131.03 422.02,131.03 424.4,131.03 426.77,131.03 429.15,131.03 431.53,78.42 433.91,131.03 436.28,93.55 438.66,122.38 441.04,131.03 443.41,126.7 445.79,126.7 448.17,131.03 450.54,100.04 452.92,131.03 455.3,131.03 457.68,136.36 460.05,100.04 462.43,133.55 464.81,122.38 467.18,108.69 469.56,132.47 471.94,132.47 474.31,132.47 476.69,132.47 479.07,131.03 481.45,131.03 483.82,138.96 486.2,108.69 488.58,136.79" fill="none" stroke="#808080" stroke-width="3" stroke-linejoin="round"/></g><g clip-path="url(#c2)"><polyline points="246.12,107.87 248.5,109.68 250.88,111.55 253.25,114.24 255.63,115.68 258.01,119.57 260.38,120.97 262.76,122.88 265.14,123.75 267.52,125.07 269.89,125.81 272.27,125.64 274.65,124.28 277.02,122.32 279.4,120.41 281.78,118.36 284.15,116.37 286.53,114 288.91,111.56 291.29,111.21 293.66,109.79 296.04,108.75 298.42,109.7 300.79,111.23 303.17,112.23 305.55,114.93 307.93,116.81 310.3,118.39 312.68,120.5 315.06,124.36 317.43,124.79 319.81,125.28 322.19,127.06 324.56,126.54 326.94,125.18 329.32,124.9 331.69,122.69 334.07,120.91 336.45,119.67 338.83,116.38 341.2,114.7 343.58,112.56 345.96,110.88 348.33,111.07 350.71,111.71 353.09,112.02 355.47,113.43 357.84,114.78 360.22,118.11 362.6,120.25 364.97,122.97 367.35,123.74 369.73,125.84 372.1,127.49 374.48,128.3 376.86,128.39 379.24,128.11 381.61,126.78 383.99,125.35 386.37,122.51 388.74,120.95 391.12,119.38 393.5,117.24 395.87,114.61 398.25,113.68 400.63,112.98 403,112.59 405.38,112.58 407.76,115.01 410.14,116.29 412.51,118.7 414.89,119.74 417.27,122.42 419.64,124.73 422.02,126.68 424.4,127.46 426.77,128.88 429.15,129.51 431.53,128.43 433.91,128.82 436.28,127.63 438.66,123.97 441.04,123.48 443.41,121.45 445.79,119.48 448.17,117.32 450.54,115.37 452.92,114.36 455.3,114.02 457.68,114.58 460.05,115.92 462.43,116.3 464.81,117.4 467.18,119.65 469.56,122.46 471.94,124.14 474.31,126.74 476.69,128.25 479.07,130.06 481.45,130.28 483.82,130.13 486.2,129.78 488.58,128.25" fill="none" stroke="#ff0000" stroke-width="3" stroke-linejoin="round"/></g><g clip-path="url(#c2b)"><g fill="#ff0000"><circle cx="248.5" cy="109.68" r="2.3"/><circle cx="250.88" cy="111.55" r="2.3"/><circle cx="253.25" cy="114.24" r="2.3"/><circle cx="255.63" cy="115.68" r="2.3"/><circle cx="258.01" cy="119.57" r="2.3"/><circle cx="260.38" cy="120.97" r="2.3"/><circle cx="262.76" cy="122.88" r="2.3"/><circle cx="265.14" cy="123.75" r="2.3"/><circle cx="267.52" cy="125.07" r="2.3"/><circle cx="269.89" cy="125.81" r="2.3"/><circle cx="272.27" cy="125.64" r="2.3"/><circle cx="274.65" cy="124.28" r="2.3"/><circle cx="277.02" cy="122.32" r="2.3"/><circle cx="279.4" cy="120.41" r="2.3"/><circle cx="281.78" cy="118.36" r="2.3"/><circle cx="284.15" cy="116.37" r="2.3"/><circle cx="286.53" cy="114" r="2.3"/><circle cx="288.91" cy="111.56" r="2.3"/><circle cx="291.29" cy="111.21" r="2.3"/><circle cx="293.66" cy="109.79" r="2.3"/><circle cx="296.04" cy="108.75" r="2.3"/><circle cx="298.42" cy="109.7" r="2.3"/><circle cx="300.79" cy="111.23" r="2.3"/><circle cx="303.17" cy="112.23" r="2.3"/><circle cx="305.55" cy="114.93" r="2.3"/><circle cx="307.93" cy="116.81" r="2.3"/><circle cx="310.3" cy="118.39" r="2.3"/><circle cx="312.68" cy="120.5" r="2.3"/><circle cx="315.06" cy="124.36" r="2.3"/><circle cx="317.43" cy="124.79" r="2.3"/><circle cx="319.81" cy="125.28" r="2.3"/><circle cx="322.19" cy="127.06" r="2.3"/><circle cx="324.56" cy="126.54" r="2.3"/><circle cx="326.94" cy="125.18" r="2.3"/><circle cx="329.32" cy="124.9" r="2.3"/><circle cx="331.69" cy="122.69" r="2.3"/><circle cx="334.07" cy="120.91" r="2.3"/><circle cx="336.45" cy="119.67" r="2.3"/><circle cx="338.83" cy="116.38" r="2.3"/><circle cx="341.2" cy="114.7" r="2.3"/><circle cx="343.58" cy="112.56" r="2.3"/><circle cx="345.96" cy="110.88" r="2.3"/><circle cx="348.33" cy="111.07" r="2.3"/><circle cx="350.71" cy="111.71" r="2.3"/><circle cx="353.09" cy="112.02" r="2.3"/><circle cx="355.47" cy="113.43" r="2.3"/><circle cx="357.84" cy="114.78" r="2.3"/><circle cx="360.22" cy="118.11" r="2.3"/><circle cx="362.6" cy="120.25" r="2.3"/><circle cx="364.97" cy="122.97" r="2.3"/><circle cx="367.35" cy="123.74" r="2.3"/><circle cx="369.73" cy="125.84" r="2.3"/><circle cx="372.1" cy="127.49" r="2.3"/><circle cx="374.48" cy="128.3" r="2.3"/><circle cx="376.86" cy="128.39" r="2.3"/><circle cx="379.24" cy="128.11" r="2.3"/><circle cx="381.61" cy="126.78" r="2.3"/><circle cx="383.99" cy="125.35" r="2.3"/><circle cx="386.37" cy="122.51" r="2.3"/><circle cx="388.74" cy="120.95" r="2.3"/><circle cx="391.12" cy="119.38" r="2.3"/><circle cx="393.5" cy="117.24" r="2.3"/><circle cx="395.87" cy="114.61" r="2.3"/><circle cx="398.25" cy="113.68" r="2.3"/><circle cx="400.63" cy="112.98" r="2.3"/><circle cx="403" cy="112.59" r="2.3"/><circle cx="405.38" cy="112.58" r="2.3"/><circle cx="407.76" cy="115.01" r="2.3"/><circle cx="410.14" cy="116.29" r="2.3"/><circle cx="412.51" cy="118.7" r="2.3"/><circle cx="414.89" cy="119.74" r="2.3"/><circle cx="417.27" cy="122.42" r="2.3"/><circle cx="419.64" cy="124.73" r="2.3"/><circle cx="422.02" cy="126.68" r="2.3"/><circle cx="424.4" cy="127.46" r="2.3"/><circle cx="426.77" cy="128.88" r="2.3"/><circle cx="429.15" cy="129.51" r="2.3"/><circle cx="431.53" cy="128.43" r="2.3"/><circle cx="433.91" cy="128.82" r="2.3"/><circle cx="436.28" cy="127.63" r="2.3"/><circle cx="438.66" cy="123.97" r="2.3"/><circle cx="441.04" cy="123.48" r="2.3"/><circle cx="443.41" cy="121.45" r="2.3"/><circle cx="445.79" cy="119.48" r="2.3"/><circle cx="448.17" cy="117.32" r="2.3"/><circle cx="450.54" cy="115.37" r="2.3"/><circle cx="452.92" cy="114.36" r="2.3"/><circle cx="455.3" cy="114.02" r="2.3"/><circle cx="457.68" cy="114.58" r="2.3"/><circle cx="460.05" cy="115.92" r="2.3"/><circle cx="462.43" cy="116.3" r="2.3"/><circle cx="464.81" cy="117.4" r="2.3"/><circle cx="467.18" cy="119.65" r="2.3"/><circle cx="469.56" cy="122.46" r="2.3"/><circle cx="471.94" cy="124.14" r="2.3"/><circle cx="474.31" cy="126.74" r="2.3"/><circle cx="476.69" cy="128.25" r="2.3"/><circle cx="479.07" cy="130.06" r="2.3"/><circle cx="481.45" cy="130.28" r="2.3"/><circle cx="483.82" cy="130.13" r="2.3"/><circle cx="486.2" cy="129.78" r="2.3"/></g></g><g clip-path="url(#c2)"><polyline points="246.12,144 248.5,144 250.88,144 253.25,144 255.63,144 258.01,144 260.38,144 262.76,144 265.14,144 267.52,144 269.89,144 272.27,144 274.65,144 277.02,144 279.4,144 281.78,144 284.15,144 286.53,144 288.91,144 291.29,144 293.66,144 296.04,144 298.42,144 300.79,144 303.17,144 305.55,144 307.93,144 310.3,144 312.68,144 315.06,144 317.43,144 319.81,144 322.19,144 324.56,144 326.94,144 329.32,144 331.69,144 334.07,144 336.45,144 338.83,144 341.2,144 343.58,144 345.96,144 348.33,144 350.71,144 353.09,144 355.47,144 357.84,144 360.22,144 362.6,144 364.97,144 367.35,144 369.73,144 372.1,144 374.48,144 376.86,144 379.24,144 381.61,144 383.99,144 386.37,144 388.74,144 391.12,144 393.5,144 395.87,144 398.25,144 400.63,144 403,144 405.38,144 407.76,144 410.14,144 412.51,144 414.89,144 417.27,144 419.64,144 422.02,144 424.4,144 426.77,144 429.15,144 431.53,144 433.91,144 436.28,144 438.66,144 441.04,144 443.41,144 445.79,144 448.17,144 450.54,144 452.92,144 455.3,144 457.68,144 460.05,144 462.43,144 464.81,144 467.18,144 469.56,144 471.94,144 474.31,144 476.69,144 479.07,144 481.45,144 483.82,144 486.2,144 488.58,144" fill="none" stroke="#0000ff" stroke-width="3" stroke-linejoin="round"/></g><g clip-path="url(#c2b)"><g fill="none" stroke="#0000ff" stroke-width="2.0"><circle cx="248.5" cy="144" r="3.1"/><circle cx="250.88" cy="144" r="3.1"/><circle cx="253.25" cy="144" r="3.1"/><circle cx="255.63" cy="144" r="3.1"/><circle cx="258.01" cy="144" r="3.1"/><circle cx="260.38" cy="144" r="3.1"/><circle cx="262.76" cy="144" r="3.1"/><circle cx="265.14" cy="144" r="3.1"/><circle cx="267.52" cy="144" r="3.1"/><circle cx="269.89" cy="144" r="3.1"/><circle cx="272.27" cy="144" r="3.1"/><circle cx="274.65" cy="144" r="3.1"/><circle cx="277.02" cy="144" r="3.1"/><circle cx="279.4" cy="144" r="3.1"/><circle cx="281.78" cy="144" r="3.1"/><circle cx="284.15" cy="144" r="3.1"/><circle cx="286.53" cy="144" r="3.1"/><circle cx="288.91" cy="144" r="3.1"/><circle cx="291.29" cy="144" r="3.1"/><circle cx="293.66" cy="144" r="3.1"/><circle cx="296.04" cy="144" r="3.1"/><circle cx="298.42" cy="144" r="3.1"/><circle cx="300.79" cy="144" r="3.1"/><circle cx="303.17" cy="144" r="3.1"/><circle cx="305.55" cy="144" r="3.1"/><circle cx="307.93" cy="144" r="3.1"/><circle cx="310.3" cy="144" r="3.1"/><circle cx="312.68" cy="144" r="3.1"/><circle cx="315.06" cy="144" r="3.1"/><circle cx="317.43" cy="144" r="3.1"/><circle cx="319.81" cy="144" r="3.1"/><circle cx="322.19" cy="144" r="3.1"/><circle cx="324.56" cy="144" r="3.1"/><circle cx="326.94" cy="144" r="3.1"/><circle cx="329.32" cy="144" r="3.1"/><circle cx="331.69" cy="144" r="3.1"/><circle cx="334.07" cy="144" r="3.1"/><circle cx="336.45" cy="144" r="3.1"/><circle cx="338.83" cy="144" r="3.1"/><circle cx="341.2" cy="144" r="3.1"/><circle cx="343.58" cy="144" r="3.1"/><circle cx="345.96" cy="144" r="3.1"/><circle cx="348.33" cy="144" r="3.1"/><circle cx="350.71" cy="144" r="3.1"/><circle cx="353.09" cy="144" r="3.1"/><circle cx="355.47" cy="144" r="3.1"/><circle cx="357.84" cy="144" r="3.1"/><circle cx="360.22" cy="144" r="3.1"/><circle cx="362.6" cy="144" r="3.1"/><circle cx="364.97" cy="144" r="3.1"/><circle cx="367.35" cy="144" r="3.1"/><circle cx="369.73" cy="144" r="3.1"/><circle cx="372.1" cy="144" r="3.1"/><circle cx="374.48" cy="144" r="3.1"/><circle cx="376.86" cy="144" r="3.1"/><circle cx="379.24" cy="144" r="3.1"/><circle cx="381.61" cy="144" r="3.1"/><circle cx="383.99" cy="144" r="3.1"/><circle cx="386.37" cy="144" r="3.1"/><circle cx="388.74" cy="144" r="3.1"/><circle cx="391.12" cy="144" r="3.1"/><circle cx="393.5" cy="144" r="3.1"/><circle cx="395.87" cy="144" r="3.1"/><circle cx="398.25" cy="144" r="3.1"/><circle cx="400.63" cy="144" r="3.1"/><circle cx="403" cy="144" r="3.1"/><circle cx="405.38" cy="144" r="3.1"/><circle cx="407.76" cy="144" r="3.1"/><circle cx="410.14" cy="144" r="3.1"/><circle cx="412.51" cy="144" r="3.1"/><circle cx="414.89" cy="144" r="3.1"/><circle cx="417.27" cy="144" r="3.1"/><circle cx="419.64" cy="144" r="3.1"/><circle cx="422.02" cy="144" r="3.1"/><circle cx="424.4" cy="144" r="3.1"/><circle cx="426.77" cy="144" r="3.1"/><circle cx="429.15" cy="144" r="3.1"/><circle cx="431.53" cy="144" r="3.1"/><circle cx="433.91" cy="144" r="3.1"/><circle cx="436.28" cy="144" r="3.1"/><circle cx="438.66" cy="144" r="3.1"/><circle cx="441.04" cy="144" r="3.1"/><circle cx="443.41" cy="144" r="3.1"/><circle cx="445.79" cy="144" r="3.1"/><circle cx="448.17" cy="144" r="3.1"/><circle cx="450.54" cy="144" r="3.1"/><circle cx="452.92" cy="144" r="3.1"/><circle cx="455.3" cy="144" r="3.1"/><circle cx="457.68" cy="144" r="3.1"/><circle cx="460.05" cy="144" r="3.1"/><circle cx="462.43" cy="144" r="3.1"/><circle cx="464.81" cy="144" r="3.1"/><circle cx="467.18" cy="144" r="3.1"/><circle cx="469.56" cy="144" r="3.1"/><circle cx="471.94" cy="144" r="3.1"/><circle cx="474.31" cy="144" r="3.1"/><circle cx="476.69" cy="144" r="3.1"/><circle cx="479.07" cy="144" r="3.1"/><circle cx="481.45" cy="144" r="3.1"/><circle cx="483.82" cy="144" r="3.1"/><circle cx="486.2" cy="144" r="3.1"/></g></g><g clip-path="url(#c2)"><polyline points="246.12,144 248.5,144 250.88,144 253.25,144 255.63,144 258.01,144 260.38,144 262.76,144 265.14,144 267.52,144 269.89,144 272.27,144 274.65,144 277.02,144 279.4,144 281.78,144 284.15,144 286.53,144 288.91,144 291.29,144 293.66,144 296.04,144 298.42,144 300.79,144 303.17,144 305.55,144 307.93,144 310.3,144 312.68,144 315.06,144 317.43,144 319.81,144 322.19,144 324.56,144 326.94,144 329.32,144 331.69,144 334.07,144 336.45,144 338.83,144 341.2,144 343.58,144 345.96,144 348.33,144 350.71,144 353.09,144 355.47,144 357.84,144 360.22,144 362.6,144 364.97,144 367.35,144 369.73,144 372.1,144 374.48,144 376.86,144 379.24,144 381.61,144 383.99,144 386.37,144 388.74,144 391.12,144 393.5,144 395.87,144 398.25,144 400.63,144 403,144 405.38,144 407.76,144 410.14,144 412.51,144 414.89,144 417.27,144 419.64,144 422.02,144 424.4,144 426.77,144 429.15,144 431.53,144 433.91,144 436.28,144 438.66,144 441.04,144 443.41,144 445.79,144 448.17,144 450.54,144 452.92,144 455.3,144 457.68,144 460.05,144 462.43,144 464.81,144 467.18,144 469.56,144 471.94,144 474.31,144 476.69,144 479.07,144 481.45,144 483.82,144 486.2,144 488.58,144" fill="none" stroke="#008000" stroke-width="3" stroke-linejoin="round"/></g><g clip-path="url(#c2b)"><g fill="#008000"><circle cx="248.5" cy="144" r="2.5"/><circle cx="250.88" cy="144" r="2.5"/><circle cx="253.25" cy="144" r="2.5"/><circle cx="255.63" cy="144" r="2.5"/><circle cx="258.01" cy="144" r="2.5"/><circle cx="260.38" cy="144" r="2.5"/><circle cx="262.76" cy="144" r="2.5"/><circle cx="265.14" cy="144" r="2.5"/><circle cx="267.52" cy="144" r="2.5"/><circle cx="269.89" cy="144" r="2.5"/><circle cx="272.27" cy="144" r="2.5"/><circle cx="274.65" cy="144" r="2.5"/><circle cx="277.02" cy="144" r="2.5"/><circle cx="279.4" cy="144" r="2.5"/><circle cx="281.78" cy="144" r="2.5"/><circle cx="284.15" cy="144" r="2.5"/><circle cx="286.53" cy="144" r="2.5"/><circle cx="288.91" cy="144" r="2.5"/><circle cx="291.29" cy="144" r="2.5"/><circle cx="293.66" cy="144" r="2.5"/><circle cx="296.04" cy="144" r="2.5"/><circle cx="298.42" cy="144" r="2.5"/><circle cx="300.79" cy="144" r="2.5"/><circle cx="303.17" cy="144" r="2.5"/><circle cx="305.55" cy="144" r="2.5"/><circle cx="307.93" cy="144" r="2.5"/><circle cx="310.3" cy="144" r="2.5"/><circle cx="312.68" cy="144" r="2.5"/><circle cx="315.06" cy="144" r="2.5"/><circle cx="317.43" cy="144" r="2.5"/><circle cx="319.81" cy="144" r="2.5"/><circle cx="322.19" cy="144" r="2.5"/><circle cx="324.56" cy="144" r="2.5"/><circle cx="326.94" cy="144" r="2.5"/><circle cx="329.32" cy="144" r="2.5"/><circle cx="331.69" cy="144" r="2.5"/><circle cx="334.07" cy="144" r="2.5"/><circle cx="336.45" cy="144" r="2.5"/><circle cx="338.83" cy="144" r="2.5"/><circle cx="341.2" cy="144" r="2.5"/><circle cx="343.58" cy="144" r="2.5"/><circle cx="345.96" cy="144" r="2.5"/><circle cx="348.33" cy="144" r="2.5"/><circle cx="350.71" cy="144" r="2.5"/><circle cx="353.09" cy="144" r="2.5"/><circle cx="355.47" cy="144" r="2.5"/><circle cx="357.84" cy="144" r="2.5"/><circle cx="360.22" cy="144" r="2.5"/><circle cx="362.6" cy="144" r="2.5"/><circle cx="364.97" cy="144" r="2.5"/><circle cx="367.35" cy="144" r="2.5"/><circle cx="369.73" cy="144" r="2.5"/><circle cx="372.1" cy="144" r="2.5"/><circle cx="374.48" cy="144" r="2.5"/><circle cx="376.86" cy="144" r="2.5"/><circle cx="379.24" cy="144" r="2.5"/><circle cx="381.61" cy="144" r="2.5"/><circle cx="383.99" cy="144" r="2.5"/><circle cx="386.37" cy="144" r="2.5"/><circle cx="388.74" cy="144" r="2.5"/><circle cx="391.12" cy="144" r="2.5"/><circle cx="393.5" cy="144" r="2.5"/><circle cx="395.87" cy="144" r="2.5"/><circle cx="398.25" cy="144" r="2.5"/><circle cx="400.63" cy="144" r="2.5"/><circle cx="403" cy="144" r="2.5"/><circle cx="405.38" cy="144" r="2.5"/><circle cx="407.76" cy="144" r="2.5"/><circle cx="410.14" cy="144" r="2.5"/><circle cx="412.51" cy="144" r="2.5"/><circle cx="414.89" cy="144" r="2.5"/><circle cx="417.27" cy="144" r="2.5"/><circle cx="419.64" cy="144" r="2.5"/><circle cx="422.02" cy="144" r="2.5"/><circle cx="424.4" cy="144" r="2.5"/><circle cx="426.77" cy="144" r="2.5"/><circle cx="429.15" cy="144" r="2.5"/><circle cx="431.53" cy="144" r="2.5"/><circle cx="433.91" cy="144" r="2.5"/><circle cx="436.28" cy="144" r="2.5"/><circle cx="438.66" cy="144" r="2.5"/><circle cx="441.04" cy="144" r="2.5"/><circle cx="443.41" cy="144" r="2.5"/><circle cx="445.79" cy="144" r="2.5"/><circle cx="448.17" cy="144" r="2.5"/><circle cx="450.54" cy="144" r="2.5"/><circle cx="452.92" cy="144" r="2.5"/><circle cx="455.3" cy="144" r="2.5"/><circle cx="457.68" cy="144" r="2.5"/><circle cx="460.05" cy="144" r="2.5"/><circle cx="462.43" cy="144" r="2.5"/><circle cx="464.81" cy="144" r="2.5"/><circle cx="467.18" cy="144" r="2.5"/><circle cx="469.56" cy="144" r="2.5"/><circle cx="471.94" cy="144" r="2.5"/><circle cx="474.31" cy="144" r="2.5"/><circle cx="476.69" cy="144" r="2.5"/><circle cx="479.07" cy="144" r="2.5"/><circle cx="481.45" cy="144" r="2.5"/><circle cx="483.82" cy="144" r="2.5"/><circle cx="486.2" cy="144" r="2.5"/></g></g><line x1="248.5" y1="35.9" x2="248.5" y2="37.9" stroke="#b4b4b4" stroke-width="1"/><line x1="248.5" y1="152.3" x2="248.5" y2="150.3" stroke="#b4b4b4" stroke-width="1"/><line x1="367.35" y1="35.9" x2="367.35" y2="37.9" stroke="#b4b4b4" stroke-width="1"/><line x1="367.35" y1="152.3" x2="367.35" y2="150.3" stroke="#b4b4b4" stroke-width="1"/><line x1="486.2" y1="35.9" x2="486.2" y2="37.9" stroke="#b4b4b4" stroke-width="1"/><line x1="486.2" y1="152.3" x2="486.2" y2="150.3" stroke="#b4b4b4" stroke-width="1"/><line x1="248.5" y1="144" x2="250.5" y2="144" stroke="#b4b4b4" stroke-width="1"/><line x1="486.2" y1="144" x2="484.2" y2="144" stroke="#b4b4b4" stroke-width="1"/><line x1="248.5" y1="107.97" x2="250.5" y2="107.97" stroke="#b4b4b4" stroke-width="1"/><line x1="486.2" y1="107.97" x2="484.2" y2="107.97" stroke="#b4b4b4" stroke-width="1"/><line x1="248.5" y1="71.93" x2="250.5" y2="71.93" stroke="#b4b4b4" stroke-width="1"/><line x1="486.2" y1="71.93" x2="484.2" y2="71.93" stroke="#b4b4b4" stroke-width="1"/><line x1="248.5" y1="35.9" x2="250.5" y2="35.9" stroke="#b4b4b4" stroke-width="1"/><line x1="486.2" y1="35.9" x2="484.2" y2="35.9" stroke="#b4b4b4" stroke-width="1"/><g font-family="'Liberation Sans', Arial, sans-serif" font-size="17.6" fill="#000"><text x="242.9" y="149.4" text-anchor="end">0</text><text x="242.9" y="113.37" text-anchor="end">5</text><text x="242.9" y="77.33" text-anchor="end">10</text><text x="242.9" y="41.3" text-anchor="end">15</text><text x="248.5" y="172.5" text-anchor="middle">350</text><text x="367.35" y="172.5" text-anchor="middle">400</text><text x="486.2" y="172.5" text-anchor="middle">450</text></g><rect x="112.6" y="201.5" width="199.9" height="123.5" fill="#fff" stroke="#c6c6c6" stroke-width="1"/><clipPath id="c3"><rect x="112.6" y="201.5" width="199.9" height="123.5"/></clipPath><clipPath id="c3b"><rect x="106.6" y="195.5" width="211.9" height="135.5"/></clipPath><rect x="112.6" y="201.5" width="199.9" height="123.5" fill="none" stroke="#c6c6c6" stroke-width="1"/><g clip-path="url(#c3)"><polyline points="114.27,-480.84 115.93,-223.03 117.6,34.77 119.26,13.16 120.93,-9.99 122.59,-385.12 124.26,-406.74 125.93,-471.58 127.59,-252.36 129.26,-162.82 130.92,-91.81 132.59,-16.17 134.26,74.91 135.92,232.38 137.59,294.12 139.25,303.39 140.92,286.41 142.59,291.04 144.25,270.97 145.92,306.48 147.58,260.16 149.25,255.53 150.91,258.62 152.58,252.44 154.25,266.34 155.91,269.43 157.58,253.99 159.24,257.07 160.91,246.27 162.57,244.72 164.24,250.9 165.91,255.53 167.57,266.34 169.24,275.6 170.9,278.69 172.57,281.77 174.24,286.41 175.9,294.12 177.57,301.84 179.23,303.39 180.9,309.56 182.56,314.19 184.23,320.37 185.9,312.65 187.56,294.12 189.23,278.69 190.89,274.06 192.56,269.43 194.23,274.06 195.89,280.23 197.56,269.43 199.22,266.34 200.89,255.53 202.56,257.07 204.22,269.43 205.89,272.51 207.55,278.69 209.22,284.86 210.88,291.04 212.55,301.84 214.22,308.02 215.88,313.42 217.55,306.48 219.21,303.39 220.88,309.56 222.54,300.3 224.21,309.56 225.88,303.39 227.54,298.76 229.21,294.9 230.87,294.12 232.54,292.58 234.21,292.58 235.87,298.76 237.54,301.84 239.2,278.69 240.87,241.64 242.53,240.09 244.2,240.09 245.87,253.99 247.53,263.25 249.2,267.88 250.86,274.06 252.53,281.77 254.2,291.04 255.86,301.84 257.53,309.56 259.19,312.65 260.86,315.74 262.52,311.11 264.19,306.48 265.86,297.21 267.52,289.49 269.19,281.77 270.85,281.77 272.52,281.77 274.19,281.77 275.85,291.04 277.52,286.41 279.18,277.14 280.85,270.97 282.51,266.34 284.18,269.43 285.85,270.97 287.51,292.58 289.18,291.04 290.84,294.12 292.51,298.76 294.18,301.84 295.84,312.65 297.51,315.74 299.17,317.28 300.84,318.82 302.5,317.28 304.17,317.28 305.84,312.65 307.5,301.84 309.17,292.58 310.83,298.76 312.5,301.84 314.17,309.56 315.83,308.02" fill="none" stroke="#808080" stroke-width="3" stroke-linejoin="round"/></g><g clip-path="url(#c3)"><polyline points="114.27,-462.31 115.93,-127.32 117.6,-39.32 119.26,-45.5 120.93,-142.76 122.59,-273.98 124.26,-416 125.93,-446.88 127.59,-344.99 129.26,-175.18 130.92,-57.85 132.59,78 134.26,147.47 135.92,189.15 137.59,213.85 139.25,229.29 140.92,243.18 142.59,258.53 144.25,268.23 145.92,274.06 147.58,278.22 149.25,280.23 150.91,279.18 152.58,277.14 154.25,274.79 155.91,271.82 157.58,268.05 159.24,263.4 160.91,260.43 162.57,258.18 164.24,257.09 165.91,257.75 167.57,259.78 169.24,262.72 170.9,266.1 172.57,269.5 174.24,273.77 175.9,278.88 177.57,284.05 179.23,288.5 180.9,292.49 182.56,296.41 184.23,298.99 185.9,299.33 187.56,299.03 189.23,298.39 190.89,297.02 192.56,295.22 194.23,293.35 195.89,291.24 197.56,288.81 199.22,286.55 200.89,284.77 202.56,283.08 204.22,282.12 205.89,282.44 207.55,283.69 209.22,285.48 210.88,287.58 212.55,291.22 214.22,295.58 215.88,299.07 217.55,301.12 219.21,302.95 220.88,304.38 222.54,305.16 224.21,305.08 225.88,304.19 227.54,302.78 229.21,301.13 230.87,299.5 232.54,298.18 234.21,296.92 235.87,295.56 237.54,294.28 239.2,293.26 240.87,292.66 242.53,292.7 244.2,293.57 245.87,295.06 247.53,296.9 249.2,298.83 250.86,300.61 252.53,302.38 254.2,304.5 255.86,306.71 257.53,308.73 259.19,310.27 260.86,311.06 262.52,310.94 264.19,310.21 265.86,309.12 267.52,307.87 269.19,306.69 270.85,305.54 272.52,304.13 274.19,302.64 275.85,301.26 277.52,300.18 279.18,299.59 280.85,299.65 282.51,300.3 284.18,301.34 285.85,302.58 287.51,303.82 289.18,305.05 290.84,306.63 292.51,308.4 294.18,310.17 295.84,311.72 297.51,312.87 299.17,313.41 300.84,313.37 302.5,313.14 304.17,312.7 305.84,312.03 307.5,311.1 309.17,309.89 310.83,308.37 312.5,306.52 314.17,305.51 315.83,305" fill="none" stroke="#ff0000" stroke-width="3" stroke-linejoin="round"/></g><g clip-path="url(#c3b)"><g fill="#ff0000"><circle cx="137.59" cy="213.85" r="2.2"/><circle cx="139.25" cy="229.29" r="2.2"/><circle cx="140.92" cy="243.18" r="2.2"/><circle cx="142.59" cy="258.53" r="2.2"/><circle cx="144.25" cy="268.23" r="2.2"/><circle cx="145.92" cy="274.06" r="2.2"/><circle cx="147.58" cy="278.22" r="2.2"/><circle cx="149.25" cy="280.23" r="2.2"/><circle cx="150.91" cy="279.18" r="2.2"/><circle cx="152.58" cy="277.14" r="2.2"/><circle cx="154.25" cy="274.79" r="2.2"/><circle cx="155.91" cy="271.82" r="2.2"/><circle cx="157.58" cy="268.05" r="2.2"/><circle cx="159.24" cy="263.4" r="2.2"/><circle cx="160.91" cy="260.43" r="2.2"/><circle cx="162.57" cy="258.18" r="2.2"/><circle cx="164.24" cy="257.09" r="2.2"/><circle cx="165.91" cy="257.75" r="2.2"/><circle cx="167.57" cy="259.78" r="2.2"/><circle cx="169.24" cy="262.72" r="2.2"/><circle cx="170.9" cy="266.1" r="2.2"/><circle cx="172.57" cy="269.5" r="2.2"/><circle cx="174.24" cy="273.77" r="2.2"/><circle cx="175.9" cy="278.88" r="2.2"/><circle cx="177.57" cy="284.05" r="2.2"/><circle cx="179.23" cy="288.5" r="2.2"/><circle cx="180.9" cy="292.49" r="2.2"/><circle cx="182.56" cy="296.41" r="2.2"/><circle cx="184.23" cy="298.99" r="2.2"/><circle cx="185.9" cy="299.33" r="2.2"/><circle cx="187.56" cy="299.03" r="2.2"/><circle cx="189.23" cy="298.39" r="2.2"/><circle cx="190.89" cy="297.02" r="2.2"/><circle cx="192.56" cy="295.22" r="2.2"/><circle cx="194.23" cy="293.35" r="2.2"/><circle cx="195.89" cy="291.24" r="2.2"/><circle cx="197.56" cy="288.81" r="2.2"/><circle cx="199.22" cy="286.55" r="2.2"/><circle cx="200.89" cy="284.77" r="2.2"/><circle cx="202.56" cy="283.08" r="2.2"/><circle cx="204.22" cy="282.12" r="2.2"/><circle cx="205.89" cy="282.44" r="2.2"/><circle cx="207.55" cy="283.69" r="2.2"/><circle cx="209.22" cy="285.48" r="2.2"/><circle cx="210.88" cy="287.58" r="2.2"/><circle cx="212.55" cy="291.22" r="2.2"/><circle cx="214.22" cy="295.58" r="2.2"/><circle cx="215.88" cy="299.07" r="2.2"/><circle cx="217.55" cy="301.12" r="2.2"/><circle cx="219.21" cy="302.95" r="2.2"/><circle cx="220.88" cy="304.38" r="2.2"/><circle cx="222.54" cy="305.16" r="2.2"/><circle cx="224.21" cy="305.08" r="2.2"/><circle cx="225.88" cy="304.19" r="2.2"/><circle cx="227.54" cy="302.78" r="2.2"/><circle cx="229.21" cy="301.13" r="2.2"/><circle cx="230.87" cy="299.5" r="2.2"/><circle cx="232.54" cy="298.18" r="2.2"/><circle cx="234.21" cy="296.92" r="2.2"/><circle cx="235.87" cy="295.56" r="2.2"/><circle cx="237.54" cy="294.28" r="2.2"/><circle cx="239.2" cy="293.26" r="2.2"/><circle cx="240.87" cy="292.66" r="2.2"/><circle cx="242.53" cy="292.7" r="2.2"/><circle cx="244.2" cy="293.57" r="2.2"/><circle cx="245.87" cy="295.06" r="2.2"/><circle cx="247.53" cy="296.9" r="2.2"/><circle cx="249.2" cy="298.83" r="2.2"/><circle cx="250.86" cy="300.61" r="2.2"/><circle cx="252.53" cy="302.38" r="2.2"/><circle cx="254.2" cy="304.5" r="2.2"/><circle cx="255.86" cy="306.71" r="2.2"/><circle cx="257.53" cy="308.73" r="2.2"/><circle cx="259.19" cy="310.27" r="2.2"/><circle cx="260.86" cy="311.06" r="2.2"/><circle cx="262.52" cy="310.94" r="2.2"/><circle cx="264.19" cy="310.21" r="2.2"/><circle cx="265.86" cy="309.12" r="2.2"/><circle cx="267.52" cy="307.87" r="2.2"/><circle cx="269.19" cy="306.69" r="2.2"/><circle cx="270.85" cy="305.54" r="2.2"/><circle cx="272.52" cy="304.13" r="2.2"/><circle cx="274.19" cy="302.64" r="2.2"/><circle cx="275.85" cy="301.26" r="2.2"/><circle cx="277.52" cy="300.18" r="2.2"/><circle cx="279.18" cy="299.59" r="2.2"/><circle cx="280.85" cy="299.65" r="2.2"/><circle cx="282.51" cy="300.3" r="2.2"/><circle cx="284.18" cy="301.34" r="2.2"/><circle cx="285.85" cy="302.58" r="2.2"/><circle cx="287.51" cy="303.82" r="2.2"/><circle cx="289.18" cy="305.05" r="2.2"/><circle cx="290.84" cy="306.63" r="2.2"/><circle cx="292.51" cy="308.4" r="2.2"/><circle cx="294.18" cy="310.17" r="2.2"/><circle cx="295.84" cy="311.72" r="2.2"/><circle cx="297.51" cy="312.87" r="2.2"/><circle cx="299.17" cy="313.41" r="2.2"/><circle cx="300.84" cy="313.37" r="2.2"/><circle cx="302.5" cy="313.14" r="2.2"/><circle cx="304.17" cy="312.7" r="2.2"/><circle cx="305.84" cy="312.03" r="2.2"/><circle cx="307.5" cy="311.1" r="2.2"/><circle cx="309.17" cy="309.89" r="2.2"/><circle cx="310.83" cy="308.37" r="2.2"/><circle cx="312.5" cy="306.52" r="2.2"/></g></g><g clip-path="url(#c3)"><polyline points="114.27,-366.44 115.93,-310.92 117.6,-259.86 119.26,-212.9 120.93,-169.71 122.59,-129.99 124.26,-93.46 125.93,-59.86 127.59,-28.96 129.26,-0.54 130.92,25.6 132.59,49.64 134.26,71.75 135.92,92.08 137.59,110.79 139.25,127.99 140.92,143.8 142.59,158.35 144.25,171.73 145.92,184.04 147.58,195.36 149.25,205.77 150.91,215.34 152.58,224.15 154.25,232.24 155.91,239.69 157.58,246.54 159.24,252.84 160.91,258.63 162.57,263.96 164.24,268.37 165.91,272.47 167.57,276.26 169.24,279.78 170.9,283.05 172.57,286.08 174.24,288.89 175.9,291.5 177.57,293.92 179.23,296.17 180.9,298.25 182.56,300.18 184.23,301.98 185.9,303.64 187.56,305.18 189.23,306.62 190.89,307.94 192.56,309.18 194.23,310.32 195.89,311.38 197.56,312.36 199.22,313.28 200.89,314.12 202.56,314.91 204.22,315.64 205.89,316.32 207.55,316.94 209.22,317.53 210.88,318.07 212.55,318.57 214.22,319.03 215.88,319.46 217.55,319.86 219.21,320.23 220.88,320.58 222.54,320.9 224.21,321.19 225.88,321.47 227.54,321.72 229.21,321.96 230.87,322.18 232.54,322.38 234.21,322.57 235.87,322.75 237.54,322.91 239.2,323.06 240.87,323.2 242.53,323.33 244.2,323.45 245.87,323.56 247.53,323.67 249.2,323.76 250.86,323.85 252.53,323.94 254.2,324.01 255.86,324.08 257.53,324.15 259.19,324.21 260.86,324.27 262.52,324.32 264.19,324.37 265.86,324.42 267.52,324.46 269.19,324.5 270.85,324.53 272.52,324.57 274.19,324.6 275.85,324.63 277.52,324.65 279.18,324.68 280.85,324.7 282.51,324.72 284.18,324.74 285.85,324.76 287.51,324.78 289.18,324.8 290.84,324.81 292.51,324.82 294.18,324.84 295.84,324.85 297.51,324.86 299.17,324.87 300.84,324.88 302.5,324.89 304.17,324.9 305.84,324.9 307.5,324.91 309.17,324.92 310.83,324.92 312.5,324.93 314.17,324.93 315.83,324.94" fill="none" stroke="#0000ff" stroke-width="3" stroke-linejoin="round"/></g><g clip-path="url(#c3b)"><g fill="none" stroke="#0000ff" stroke-width="3.0"><circle cx="149.25" cy="205.77" r="2.6"/><circle cx="150.91" cy="215.34" r="2.6"/><circle cx="152.58" cy="224.15" r="2.6"/><circle cx="154.25" cy="232.24" r="2.6"/><circle cx="155.91" cy="239.69" r="2.6"/><circle cx="157.58" cy="246.54" r="2.6"/><circle cx="159.24" cy="252.84" r="2.6"/><circle cx="160.91" cy="258.63" r="2.6"/><circle cx="162.57" cy="263.96" r="2.6"/><circle cx="164.24" cy="268.37" r="2.6"/><circle cx="165.91" cy="272.47" r="2.6"/><circle cx="167.57" cy="276.26" r="2.6"/><circle cx="169.24" cy="279.78" r="2.6"/><circle cx="170.9" cy="283.05" r="2.6"/><circle cx="172.57" cy="286.08" r="2.6"/><circle cx="174.24" cy="288.89" r="2.6"/><circle cx="175.9" cy="291.5" r="2.6"/><circle cx="177.57" cy="293.92" r="2.6"/><circle cx="179.23" cy="296.17" r="2.6"/><circle cx="180.9" cy="298.25" r="2.6"/><circle cx="182.56" cy="300.18" r="2.6"/><circle cx="184.23" cy="301.98" r="2.6"/><circle cx="185.9" cy="303.64" r="2.6"/><circle cx="187.56" cy="305.18" r="2.6"/><circle cx="189.23" cy="306.62" r="2.6"/><circle cx="190.89" cy="307.94" r="2.6"/><circle cx="192.56" cy="309.18" r="2.6"/><circle cx="194.23" cy="310.32" r="2.6"/><circle cx="195.89" cy="311.38" r="2.6"/><circle cx="197.56" cy="312.36" r="2.6"/><circle cx="199.22" cy="313.28" r="2.6"/><circle cx="200.89" cy="314.12" r="2.6"/><circle cx="202.56" cy="314.91" r="2.6"/><circle cx="204.22" cy="315.64" r="2.6"/><circle cx="205.89" cy="316.32" r="2.6"/><circle cx="207.55" cy="316.94" r="2.6"/><circle cx="209.22" cy="317.53" r="2.6"/><circle cx="210.88" cy="318.07" r="2.6"/><circle cx="212.55" cy="318.57" r="2.6"/><circle cx="214.22" cy="319.03" r="2.6"/><circle cx="215.88" cy="319.46" r="2.6"/><circle cx="217.55" cy="319.86" r="2.6"/><circle cx="219.21" cy="320.23" r="2.6"/><circle cx="220.88" cy="320.58" r="2.6"/><circle cx="222.54" cy="320.9" r="2.6"/><circle cx="224.21" cy="321.19" r="2.6"/><circle cx="225.88" cy="321.47" r="2.6"/><circle cx="227.54" cy="321.72" r="2.6"/><circle cx="229.21" cy="321.96" r="2.6"/><circle cx="230.87" cy="322.18" r="2.6"/><circle cx="232.54" cy="322.38" r="2.6"/><circle cx="234.21" cy="322.57" r="2.6"/><circle cx="235.87" cy="322.75" r="2.6"/><circle cx="237.54" cy="322.91" r="2.6"/><circle cx="239.2" cy="323.06" r="2.6"/><circle cx="240.87" cy="323.2" r="2.6"/><circle cx="242.53" cy="323.33" r="2.6"/><circle cx="244.2" cy="323.45" r="2.6"/><circle cx="245.87" cy="323.56" r="2.6"/><circle cx="247.53" cy="323.67" r="2.6"/><circle cx="249.2" cy="323.76" r="2.6"/><circle cx="250.86" cy="323.85" r="2.6"/><circle cx="252.53" cy="323.94" r="2.6"/><circle cx="254.2" cy="324.01" r="2.6"/><circle cx="255.86" cy="324.08" r="2.6"/><circle cx="257.53" cy="324.15" r="2.6"/><circle cx="259.19" cy="324.21" r="2.6"/><circle cx="260.86" cy="324.27" r="2.6"/><circle cx="262.52" cy="324.32" r="2.6"/><circle cx="264.19" cy="324.37" r="2.6"/><circle cx="265.86" cy="324.42" r="2.6"/><circle cx="267.52" cy="324.46" r="2.6"/><circle cx="269.19" cy="324.5" r="2.6"/><circle cx="270.85" cy="324.53" r="2.6"/><circle cx="272.52" cy="324.57" r="2.6"/><circle cx="274.19" cy="324.6" r="2.6"/><circle cx="275.85" cy="324.63" r="2.6"/><circle cx="277.52" cy="324.65" r="2.6"/><circle cx="279.18" cy="324.68" r="2.6"/><circle cx="280.85" cy="324.7" r="2.6"/><circle cx="282.51" cy="324.72" r="2.6"/><circle cx="284.18" cy="324.74" r="2.6"/><circle cx="285.85" cy="324.76" r="2.6"/><circle cx="287.51" cy="324.78" r="2.6"/><circle cx="289.18" cy="324.8" r="2.6"/><circle cx="290.84" cy="324.81" r="2.6"/><circle cx="292.51" cy="324.82" r="2.6"/><circle cx="294.18" cy="324.84" r="2.6"/><circle cx="295.84" cy="324.85" r="2.6"/><circle cx="297.51" cy="324.86" r="2.6"/><circle cx="299.17" cy="324.87" r="2.6"/><circle cx="300.84" cy="324.88" r="2.6"/><circle cx="302.5" cy="324.89" r="2.6"/><circle cx="304.17" cy="324.9" r="2.6"/><circle cx="305.84" cy="324.9" r="2.6"/><circle cx="307.5" cy="324.91" r="2.6"/><circle cx="309.17" cy="324.92" r="2.6"/><circle cx="310.83" cy="324.92" r="2.6"/><circle cx="312.5" cy="324.93" r="2.6"/></g></g><g clip-path="url(#c3)"><polyline points="114.27,-162.82 115.93,-202.96 117.6,-241.56 119.26,-270.89 120.93,-272.43 122.59,-253.91 124.26,-233.84 125.93,-187.52 127.59,-141.21 129.26,-85.64 130.92,-30.06 132.59,25.51 134.26,90.35 135.92,172.84 137.59,218.35 139.25,256.12 140.92,285.54 142.59,306.51 144.25,319.34 145.92,324.71 147.58,323.63 149.25,317.43 150.91,307.35 152.58,294.68 154.25,280.67 155.91,266.47 157.58,253.1 159.24,241.39 160.91,231.99 162.57,225.33 164.24,221.63 165.91,220.92 167.57,223.07 169.24,227.79 170.9,234.68 172.57,243.27 174.24,253.05 175.9,263.49 177.57,274.08 179.23,284.37 180.9,293.96 182.56,302.52 184.23,309.81 185.9,315.69 187.56,320.09 189.23,323.04 190.89,324.63 192.56,324.98 194.23,324.3 195.89,322.8 197.56,320.71 199.22,318.26 200.89,315.67 202.56,313.15 204.22,310.85 205.89,308.92 207.55,307.44 209.22,306.5 210.88,306.09 212.55,306.22 214.22,306.85 215.88,307.91 217.55,309.32 219.21,311 220.88,312.85 222.54,314.77 224.21,316.68 225.88,318.49 227.54,320.15 229.21,321.6 230.87,322.8 232.54,323.73 234.21,324.4 235.87,324.82 237.54,324.99 239.2,324.96 240.87,324.76 242.53,324.42 244.2,324.01 245.87,323.55 247.53,323.08 249.2,322.64 250.86,322.25 252.53,321.94 254.2,321.71 255.86,321.59 257.53,321.56 259.19,321.63 260.86,321.79 262.52,322.01 264.19,322.3 265.86,322.62 267.52,322.96 269.19,323.31 270.85,323.65 272.52,323.97 274.19,324.25 275.85,324.49 277.52,324.69 279.18,324.84 280.85,324.93 282.51,324.99 284.18,325 285.85,324.98 287.51,324.93 289.18,324.86 290.84,324.78 292.51,324.69 294.18,324.61 295.84,324.53 297.51,324.47 299.17,324.42 300.84,324.39 302.5,324.38 304.17,324.38 305.84,324.4 307.5,324.44 309.17,324.48 310.83,324.54 312.5,324.6 314.17,324.66 315.83,324.72" fill="none" stroke="#008000" stroke-width="3" stroke-linejoin="round"/></g><g clip-path="url(#c3b)"><g fill="#008000"><circle cx="137.59" cy="218.35" r="2.2"/><circle cx="139.25" cy="256.12" r="2.2"/><circle cx="140.92" cy="285.54" r="2.2"/><circle cx="142.59" cy="306.51" r="2.2"/><circle cx="144.25" cy="319.34" r="2.2"/><circle cx="145.92" cy="324.71" r="2.2"/><circle cx="147.58" cy="323.63" r="2.2"/><circle cx="149.25" cy="317.43" r="2.2"/><circle cx="150.91" cy="307.35" r="2.2"/><circle cx="152.58" cy="294.68" r="2.2"/><circle cx="154.25" cy="280.67" r="2.2"/><circle cx="155.91" cy="266.47" r="2.2"/><circle cx="157.58" cy="253.1" r="2.2"/><circle cx="159.24" cy="241.39" r="2.2"/><circle cx="160.91" cy="231.99" r="2.2"/><circle cx="162.57" cy="225.33" r="2.2"/><circle cx="164.24" cy="221.63" r="2.2"/><circle cx="165.91" cy="220.92" r="2.2"/><circle cx="167.57" cy="223.07" r="2.2"/><circle cx="169.24" cy="227.79" r="2.2"/><circle cx="170.9" cy="234.68" r="2.2"/><circle cx="172.57" cy="243.27" r="2.2"/><circle cx="174.24" cy="253.05" r="2.2"/><circle cx="175.9" cy="263.49" r="2.2"/><circle cx="177.57" cy="274.08" r="2.2"/><circle cx="179.23" cy="284.37" r="2.2"/><circle cx="180.9" cy="293.96" r="2.2"/><circle cx="182.56" cy="302.52" r="2.2"/><circle cx="184.23" cy="309.81" r="2.2"/><circle cx="185.9" cy="315.69" r="2.2"/><circle cx="187.56" cy="320.09" r="2.2"/><circle cx="189.23" cy="323.04" r="2.2"/><circle cx="190.89" cy="324.63" r="2.2"/><circle cx="192.56" cy="324.98" r="2.2"/><circle cx="194.23" cy="324.3" r="2.2"/><circle cx="195.89" cy="322.8" r="2.2"/><circle cx="197.56" cy="320.71" r="2.2"/><circle cx="199.22" cy="318.26" r="2.2"/><circle cx="200.89" cy="315.67" r="2.2"/><circle cx="202.56" cy="313.15" r="2.2"/><circle cx="204.22" cy="310.85" r="2.2"/><circle cx="205.89" cy="308.92" r="2.2"/><circle cx="207.55" cy="307.44" r="2.2"/><circle cx="209.22" cy="306.5" r="2.2"/><circle cx="210.88" cy="306.09" r="2.2"/><circle cx="212.55" cy="306.22" r="2.2"/><circle cx="214.22" cy="306.85" r="2.2"/><circle cx="215.88" cy="307.91" r="2.2"/><circle cx="217.55" cy="309.32" r="2.2"/><circle cx="219.21" cy="311" r="2.2"/><circle cx="220.88" cy="312.85" r="2.2"/><circle cx="222.54" cy="314.77" r="2.2"/><circle cx="224.21" cy="316.68" r="2.2"/><circle cx="225.88" cy="318.49" r="2.2"/><circle cx="227.54" cy="320.15" r="2.2"/><circle cx="229.21" cy="321.6" r="2.2"/><circle cx="230.87" cy="322.8" r="2.2"/><circle cx="232.54" cy="323.73" r="2.2"/><circle cx="234.21" cy="324.4" r="2.2"/><circle cx="235.87" cy="324.82" r="2.2"/><circle cx="237.54" cy="324.99" r="2.2"/><circle cx="239.2" cy="324.96" r="2.2"/><circle cx="240.87" cy="324.76" r="2.2"/><circle cx="242.53" cy="324.42" r="2.2"/><circle cx="244.2" cy="324.01" r="2.2"/><circle cx="245.87" cy="323.55" r="2.2"/><circle cx="247.53" cy="323.08" r="2.2"/><circle cx="249.2" cy="322.64" r="2.2"/><circle cx="250.86" cy="322.25" r="2.2"/><circle cx="252.53" cy="321.94" r="2.2"/><circle cx="254.2" cy="321.71" r="2.2"/><circle cx="255.86" cy="321.59" r="2.2"/><circle cx="257.53" cy="321.56" r="2.2"/><circle cx="259.19" cy="321.63" r="2.2"/><circle cx="260.86" cy="321.79" r="2.2"/><circle cx="262.52" cy="322.01" r="2.2"/><circle cx="264.19" cy="322.3" r="2.2"/><circle cx="265.86" cy="322.62" r="2.2"/><circle cx="267.52" cy="322.96" r="2.2"/><circle cx="269.19" cy="323.31" r="2.2"/><circle cx="270.85" cy="323.65" r="2.2"/><circle cx="272.52" cy="323.97" r="2.2"/><circle cx="274.19" cy="324.25" r="2.2"/><circle cx="275.85" cy="324.49" r="2.2"/><circle cx="277.52" cy="324.69" r="2.2"/><circle cx="279.18" cy="324.84" r="2.2"/><circle cx="280.85" cy="324.93" r="2.2"/><circle cx="282.51" cy="324.99" r="2.2"/><circle cx="284.18" cy="325" r="2.2"/><circle cx="285.85" cy="324.98" r="2.2"/><circle cx="287.51" cy="324.93" r="2.2"/><circle cx="289.18" cy="324.86" r="2.2"/><circle cx="290.84" cy="324.78" r="2.2"/><circle cx="292.51" cy="324.69" r="2.2"/><circle cx="294.18" cy="324.61" r="2.2"/><circle cx="295.84" cy="324.53" r="2.2"/><circle cx="297.51" cy="324.47" r="2.2"/><circle cx="299.17" cy="324.42" r="2.2"/><circle cx="300.84" cy="324.39" r="2.2"/><circle cx="302.5" cy="324.38" r="2.2"/><circle cx="304.17" cy="324.38" r="2.2"/><circle cx="305.84" cy="324.4" r="2.2"/><circle cx="307.5" cy="324.44" r="2.2"/><circle cx="309.17" cy="324.48" r="2.2"/><circle cx="310.83" cy="324.54" r="2.2"/><circle cx="312.5" cy="324.6" r="2.2"/></g></g><line x1="112.9" y1="201.5" x2="112.9" y2="203.5" stroke="#b4b4b4" stroke-width="1"/><line x1="112.9" y1="325" x2="112.9" y2="323" stroke="#b4b4b4" stroke-width="1"/><line x1="194.5" y1="201.5" x2="194.5" y2="203.5" stroke="#b4b4b4" stroke-width="1"/><line x1="194.5" y1="325" x2="194.5" y2="323" stroke="#b4b4b4" stroke-width="1"/><line x1="278.4" y1="201.5" x2="278.4" y2="203.5" stroke="#b4b4b4" stroke-width="1"/><line x1="278.4" y1="325" x2="278.4" y2="323" stroke="#b4b4b4" stroke-width="1"/><line x1="112.6" y1="325" x2="114.6" y2="325" stroke="#b4b4b4" stroke-width="1"/><line x1="312.5" y1="325" x2="310.5" y2="325" stroke="#b4b4b4" stroke-width="1"/><line x1="112.6" y1="294.12" x2="114.6" y2="294.12" stroke="#b4b4b4" stroke-width="1"/><line x1="312.5" y1="294.12" x2="310.5" y2="294.12" stroke="#b4b4b4" stroke-width="1"/><line x1="112.6" y1="263.25" x2="114.6" y2="263.25" stroke="#b4b4b4" stroke-width="1"/><line x1="312.5" y1="263.25" x2="310.5" y2="263.25" stroke="#b4b4b4" stroke-width="1"/><line x1="112.6" y1="232.38" x2="114.6" y2="232.38" stroke="#b4b4b4" stroke-width="1"/><line x1="312.5" y1="232.38" x2="310.5" y2="232.38" stroke="#b4b4b4" stroke-width="1"/><line x1="112.6" y1="201.5" x2="114.6" y2="201.5" stroke="#b4b4b4" stroke-width="1"/><line x1="312.5" y1="201.5" x2="310.5" y2="201.5" stroke="#b4b4b4" stroke-width="1"/><g font-family="'Liberation Sans', Arial, sans-serif" font-size="17.6" fill="#000"><text x="107" y="330.4" text-anchor="end">0</text><text x="107" y="299.52" text-anchor="end">20</text><text x="107" y="268.65" text-anchor="end">40</text><text x="107" y="237.78" text-anchor="end">60</text><text x="107" y="206.9" text-anchor="end">80</text><text x="112.9" y="345.2" text-anchor="middle">0</text><text x="194.5" y="345.2" text-anchor="middle">50</text><text x="278.4" y="345.2" text-anchor="middle">100</text></g><rect x="338.7" y="203.3" width="146.8" height="108" fill="#fff" stroke="#c6c6c6" stroke-width="1"/><line x1="349.5" y1="218.3" x2="404.7" y2="218.3" stroke="#bdbdbd" stroke-width="0.9"/><line x1="349.5" y1="244.1" x2="404.7" y2="244.1" stroke="#f29a9a" stroke-width="0.9"/><circle cx="377.1" cy="244.1" r="1.1" fill="#f07c7c"/><line x1="349.5" y1="269.2" x2="404.7" y2="269.2" stroke="#9a9af0" stroke-width="0.9"/><circle cx="377.1" cy="269.2" r="2.7" fill="none" stroke="#8c8cf0" stroke-width="0.8"/><line x1="349.5" y1="294.6" x2="404.7" y2="294.6" stroke="#8cc88c" stroke-width="0.9"/><path d="M374.6 294.6h5M377.1 292.1v5" stroke="#8cc88c" stroke-width="0.8"/><g font-family="'Liberation Sans', Arial, sans-serif" font-size="17.7" fill="#000"><text x="409.5" y="224.4">raw data</text><text x="409.5" y="250.2">our fit</text><text x="409.5" y="275.3">Guo's fit</text><text x="409.5" y="300.7">Ye's fit</text></g><line x1="91.6" y1="123.9" x2="75.83" y2="138.26" stroke="#c8c8c8" stroke-width="1"/><path d="M67.1 146.2L75.86 130.12L75.83 138.26L83.93 138.99Z" fill="#000"/><line x1="131.3" y1="338.8" x2="117.72" y2="358.4" stroke="#c8c8c8" stroke-width="1"/><path d="M111 368.1L115.92 350.46L117.72 358.4L125.78 357.3Z" fill="#000"/><line x1="321.1" y1="159.6" x2="321.1" y2="375.3" stroke="#c8c8c8" stroke-width="1"/><path d="M321.1 387.1L315.1 369.8L321.1 375.3L327.1 369.8Z" fill="#000"/></svg></body></html>
